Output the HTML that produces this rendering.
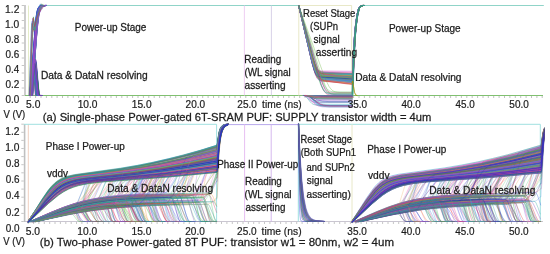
<!DOCTYPE html>
<html><head><meta charset="utf-8"><style>
html,body{margin:0;padding:0;background:#fff;width:550px;height:254px;overflow:hidden}
svg{display:block;filter:blur(0.3px)}
text{font-family:"Liberation Sans", Arial, sans-serif;fill:#1c1c1c;stroke:#1c1c1c;stroke-width:0.25px}
text.t{stroke-width:0.2px}
</style></head><body>
<svg width="550" height="254" viewBox="0 0 550 254">
<rect width="550" height="254" fill="#fff"/>

<!-- top panel axes -->
<path d="M21.7 5.5h2.5M21.7 13.0h2.5M21.7 20.5h2.5M21.7 28.0h2.5M21.7 35.5h2.5M21.7 43.0h2.5M21.7 50.5h2.5M21.7 58.0h2.5M21.7 65.5h2.5M21.7 73.0h2.5M21.7 80.5h2.5M21.7 88.0h2.5M21.7 95.5h2.5" stroke="#b8b8b8" stroke-width="0.8"/>
<path d="M25 5V96" stroke="#c0c0c0" stroke-width="1.6"/>
<path d="M28.5 5.5V95.5" stroke="#e4ecc8" stroke-width="1"/>
<path d="M30.2 96.0v2M35.6 96.0v2M41.0 96.0v2M46.4 96.0v2M51.8 96.0v2M57.1 96.0v2M62.5 96.0v2M67.9 96.0v2M73.3 96.0v2M78.7 96.0v2M84.1 96.0v2M89.5 96.0v2M94.9 96.0v2M100.3 96.0v2M105.7 96.0v2M111.0 96.0v2M116.4 96.0v2M121.8 96.0v2M127.2 96.0v2M132.6 96.0v2M138.0 96.0v2M143.4 96.0v2M148.8 96.0v2M154.2 96.0v2M159.6 96.0v2M164.9 96.0v2M170.3 96.0v2M175.7 96.0v2M181.1 96.0v2M186.5 96.0v2M191.9 96.0v2M197.3 96.0v2M202.7 96.0v2M208.1 96.0v2M213.5 96.0v2M218.8 96.0v2M224.2 96.0v2M229.6 96.0v2M235.0 96.0v2M240.4 96.0v2M245.8 96.0v2M251.2 96.0v2M256.6 96.0v2M262.0 96.0v2M267.4 96.0v2M272.7 96.0v2M278.1 96.0v2M283.5 96.0v2M288.9 96.0v2M294.3 96.0v2M299.7 96.0v2M305.1 96.0v2M310.5 96.0v2M315.9 96.0v2M321.3 96.0v2M326.6 96.0v2M332.0 96.0v2M337.4 96.0v2M342.8 96.0v2M348.2 96.0v2M353.6 96.0v2M359.0 96.0v2M364.4 96.0v2M369.8 96.0v2M375.2 96.0v2M380.5 96.0v2M385.9 96.0v2M391.3 96.0v2M396.7 96.0v2M402.1 96.0v2M407.5 96.0v2M412.9 96.0v2M418.3 96.0v2M423.7 96.0v2M429.1 96.0v2M434.4 96.0v2M439.8 96.0v2M445.2 96.0v2M450.6 96.0v2M456.0 96.0v2M461.4 96.0v2M466.8 96.0v2M472.2 96.0v2M477.6 96.0v2M483.0 96.0v2M488.3 96.0v2M493.7 96.0v2M499.1 96.0v2M504.5 96.0v2M509.9 96.0v2M515.3 96.0v2M520.7 96.0v2M526.1 96.0v2M531.5 96.0v2M536.9 96.0v2M542.2 96.0v2" stroke="#b0b0b0" stroke-width="0.8"/>
<path d="M25 95.5H543" stroke="#80c070" stroke-width="1.1"/>
<path d="M40 5.5H298.6M362 5.5H543.8" stroke="#90d4c8" stroke-width="1.2"/>
<path d="M244.4 5.5V95.5" stroke="#ecc8f0" stroke-width="0.9"/>
<path d="M271.4 5.5V95.5" stroke="#d4cce4" stroke-width="0.9"/>
<path d="M298.8 5.5V95.5M298.8 5.5H351.6V95.5" stroke="#e8e8c8" stroke-width="1" fill="none"/>
<!-- bottom panel axes -->
<path d="M21.3 124.2h2.5M21.3 132.3h2.5M21.3 140.4h2.5M21.3 148.5h2.5M21.3 156.6h2.5M21.3 164.7h2.5M21.3 172.8h2.5M21.3 181.0h2.5M21.3 189.1h2.5M21.3 197.2h2.5M21.3 205.3h2.5M21.3 213.4h2.5M21.3 221.5h2.5" stroke="#b8b8b8" stroke-width="0.8"/>
<path d="M24.6 124V222" stroke="#c0c0c0" stroke-width="1.6"/>
<path d="M28.3 124.3V221.5" stroke="#f0d0c0" stroke-width="1"/>
<path d="M28.2 222.0v2M33.6 222.0v2M38.9 222.0v2M44.3 222.0v2M49.7 222.0v2M55.0 222.0v2M60.4 222.0v2M65.8 222.0v2M71.2 222.0v2M76.5 222.0v2M81.9 222.0v2M87.3 222.0v2M92.6 222.0v2M98.0 222.0v2M103.4 222.0v2M108.8 222.0v2M114.1 222.0v2M119.5 222.0v2M124.9 222.0v2M130.2 222.0v2M135.6 222.0v2M141.0 222.0v2M146.3 222.0v2M151.7 222.0v2M157.1 222.0v2M162.5 222.0v2M167.8 222.0v2M173.2 222.0v2M178.6 222.0v2M183.9 222.0v2M189.3 222.0v2M194.7 222.0v2M200.0 222.0v2M205.4 222.0v2M210.8 222.0v2M216.2 222.0v2M221.5 222.0v2M226.9 222.0v2M232.3 222.0v2M237.6 222.0v2M243.0 222.0v2M248.4 222.0v2M253.7 222.0v2M259.1 222.0v2M264.5 222.0v2M269.9 222.0v2M275.2 222.0v2M280.6 222.0v2M286.0 222.0v2M291.3 222.0v2M296.7 222.0v2M302.1 222.0v2M307.4 222.0v2M312.8 222.0v2M318.2 222.0v2M323.6 222.0v2M328.9 222.0v2M334.3 222.0v2M339.7 222.0v2M345.0 222.0v2M350.4 222.0v2M355.8 222.0v2M361.1 222.0v2M366.5 222.0v2M371.9 222.0v2M377.3 222.0v2M382.6 222.0v2M388.0 222.0v2M393.4 222.0v2M398.7 222.0v2M404.1 222.0v2M409.5 222.0v2M414.8 222.0v2M420.2 222.0v2M425.6 222.0v2M431.0 222.0v2M436.3 222.0v2M441.7 222.0v2M447.1 222.0v2M452.4 222.0v2M457.8 222.0v2M463.2 222.0v2M468.5 222.0v2M473.9 222.0v2M479.3 222.0v2M484.7 222.0v2M490.0 222.0v2M495.4 222.0v2M500.8 222.0v2M506.1 222.0v2M511.5 222.0v2M516.9 222.0v2M522.2 222.0v2M527.6 222.0v2M533.0 222.0v2M538.4 222.0v2" stroke="#b8b8b8" stroke-width="0.8"/>
<path d="M25 221.5H543" stroke="#c4c0cc" stroke-width="0.9"/>
<path d="M23.8 124.3H216.6V221.5M298.3 221.5V124.3H540.3V221.5" stroke="#a0e0e0" stroke-width="1" fill="none"/>
<path d="M226 124.6H298" stroke="#b8a8ec" stroke-width="1"/>
<path d="M244.6 124.3V221.5" stroke="#e4b8f0" stroke-width="0.9"/>
<path d="M271.2 124.3V221.5" stroke="#d0b0ec" stroke-width="0.9"/>
<path d="M352 124.3V221.5" stroke="#e8e8c8" stroke-width="1"/>

<defs><clipPath id="c"><rect x="0" y="0" width="544.2" height="254"/></clipPath></defs>
<g fill="none" stroke-linejoin="round" stroke-linecap="round" clip-path="url(#c)">
<path d="M30.8 95.5l5.7-66.4 1.5-12.6 1.3-5.8 1.5-3.3 1.7-1.4 3.3-.5" stroke="#2020b0" stroke-width="0.70" stroke-opacity="0.85"/>
<path d="M30.5 95.5l3-36.1.7 4.9 1.5 23 .8 7.6.2 .6 3.8 0" stroke="#6040d0" stroke-width="0.70" stroke-opacity="0.85"/>
<path d="M31.2 95.5l3.5-34.4 2.5-32.1 1.5-12.7 1.3-5.7 1.2-2.9 1.8-1.6 3-.6" stroke="#9050e0" stroke-width="0.70" stroke-opacity="0.85"/>
<path d="M32.2 95.5l3-30.8.5 1.6.5 4 2.2 24.1.5 1.1 3 0" stroke="#8040c0" stroke-width="0.70" stroke-opacity="0.85"/>
<path d="M30.1 95.5l3.5-36.8 2-29.5 1.5-14.2 1-4.8 1.5-3.3 1.8-1.1 3.5-.3" stroke="#3050e0" stroke-width="0.70" stroke-opacity="0.85"/>
<path d="M31.1 95.5l3-32.4.5 1.5.5 4.1 2.3 25.2.5 1.6 3 0" stroke="#e04090" stroke-width="0.70" stroke-opacity="0.85"/>
<path d="M30.6 95.5l3-36.7.8-5.9 2.2-26.5 1.3-9.9 1.2-5.8 1.5-3.3 1.8-1.4 3.2-.5" stroke="#3050e0" stroke-width="0.70" stroke-opacity="0.85"/>
<path d="M31.7 95.5l3-36.7.5 1 .7 4.8 3 28.8.8 2.1 1.7 0" stroke="#2020b0" stroke-width="0.70" stroke-opacity="0.85"/>
<path d="M29.9 95.5l3.5-35.6 2.5-33.1 1.3-10.6 1.2-5.9 1.3-2.8 1.7-1.5 3.3-.5" stroke="#8040c0" stroke-width="0.70" stroke-opacity="0.85"/>
<path d="M29.9 95.5l3-31.7.5 3.1 1.5 24.4.5 4.1 4.5 .1" stroke="#e04090" stroke-width="0.70" stroke-opacity="0.85"/>
<path d="M30.5 95.5l3-33.5.8-6 2.2-27.4 1.5-12.2 1.3-5.6 1.2-3 1.8-1.6 3-.6" stroke="#a040c0" stroke-width="0.70" stroke-opacity="0.85"/>
<path d="M31.7 95.5l3-33.5.7 3.4 2 23.9.8 5.7.2 .5 3 0" stroke="#8040c0" stroke-width="0.70" stroke-opacity="0.85"/>
<path d="M30.5 95.5l3.2-34 2.3-34.6 1.5-13.7 1-4.2 1.2-2.4 1.8-.9 3.7-.2" stroke="#3050e0" stroke-width="0.70" stroke-opacity="0.85"/>
<path d="M30.4 95.5l3-32.2.5 1.2.5 3.3 2 21.1.7 5.4.5 1.2 2.5 0" stroke="#9050e0" stroke-width="0.70" stroke-opacity="0.85"/>
<path d="M29.9 95.5l3.5-37.8 2.3-34.2 1.2-10.4 1-4.2 1.3-2.3 1.7-.9 3.8-.2" stroke="#9050e0" stroke-width="0.70" stroke-opacity="0.85"/>
<path d="M32.3 95.5l3-33 .7 5.6 1.3 20 .7 7.2.3 .2 3.7 0" stroke="#3050e0" stroke-width="0.70" stroke-opacity="0.85"/>
<path d="M30 95.5l5.8-68.5 1.5-12.3 1.2-5.2 1.3-2.4 1.7-1.2 3.3-.4" stroke="#a040c0" stroke-width="0.70" stroke-opacity="0.85"/>
<path d="M32.3 95.5l3-36 .5 1.4.5 4 2 24.2.8 5.7.5 .7 2.5 0" stroke="#3050e0" stroke-width="0.70" stroke-opacity="0.85"/>
<path d="M31 95.5l3.5-35.3 2.2-31 1.5-13.4 1.3-5.8 1.2-2.7 1.8-1.4 3.2-.4" stroke="#e04090" stroke-width="0.70" stroke-opacity="0.85"/>
<path d="M31.3 95.5l3-31.3.5 1 .8 4.5 2.7 24 .5 1.7 2.3 .1" stroke="#9050e0" stroke-width="0.70" stroke-opacity="0.85"/>
<path d="M30.2 95.5l3.5-39 2-29.9 1.5-13.3 1-4.2 1.3-2.4 1.7-1 3.8-.2" stroke="#8040c0" stroke-width="0.70" stroke-opacity="0.85"/>
<path d="M31 95.5l3-34.3.7 4.5 2.3 29 .2 .8 3.5 0" stroke="#3050e0" stroke-width="0.70" stroke-opacity="0.85"/>
<path d="M29.8 95.5l3.5-39.6 2-27 1.5-13.5 1.3-5.7 1.2-2.6 1.8-1.3 3.5-.3" stroke="#a040c0" stroke-width="0.70" stroke-opacity="0.85"/>
<path d="M32.7 95.5l3-35.6.5 1.5.5 4.1 2.5 28.6.5 1.4 2.8 0" stroke="#8040c0" stroke-width="0.70" stroke-opacity="0.85"/>
<path d="M30.7 95.5l3.8-41 2-25.5 1.5-12.9 1.2-5.7 1.3-2.9 1.7-1.5 3.3-.5" stroke="#9050e0" stroke-width="0.70" stroke-opacity="0.85"/>
<path d="M30.3 95.5l3-34.6.7 3.9 2.5 29.8.3 .8.2 .1 3 0" stroke="#8040c0" stroke-width="0.70" stroke-opacity="0.85"/>
<path d="M30 95.5l3.5-37.8 2.2-33.3 1.3-10.7 1-4.4.7-1.8.8-1 1.7-.8 3.8-.2" stroke="#a040c0" stroke-width="0.70" stroke-opacity="0.85"/>
<path d="M32.7 95.5l3-33.2.8 5.1 2 27.3.2 .8 3.8 0" stroke="#8040c0" stroke-width="0.70" stroke-opacity="0.85"/>
<path d="M30.8 95.5l3.8-38.7 2.2-28.1 1.5-12.4 1.3-5.6 1.5-3.3 1.7-1.4 3-.5" stroke="#e04090" stroke-width="0.70" stroke-opacity="0.85"/>
<path d="M31.8 95.5l3-32.6.7 5.7 1.8 25.7.2 1.1.3 .1 3.7 0" stroke="#6040d0" stroke-width="0.70" stroke-opacity="0.85"/>
<path d="M31.2 95.5l3-36.4.7-5.7 2.3-26.1 1.2-10 1.3-6 1.5-3.6 1.7-1.6 3-.5" stroke="#30a030" stroke-width="0.70" stroke-opacity="0.85"/>
<path d="M31.5 95.5l3-36.4.8 6.2 1.2 22.3.8 7.7 4 .2" stroke="#9050e0" stroke-width="0.70" stroke-opacity="0.85"/>
<path d="M29.9 95.5l5.7-68.3 1.5-12.2 1.3-5.3 1.2-2.5 1.8-1.3 3.2-.4" stroke="#6040d0" stroke-width="0.70" stroke-opacity="0.85"/>
<path d="M30.3 95.5l3-36.3.5 1.1.8 5.2 2.7 27.8.8 2.2 2.2 0" stroke="#e04090" stroke-width="0.70" stroke-opacity="0.85"/>
<path d="M30.8 95.5l3.5-38.2 2.2-30.7 1.5-12.5 1-4.3 1.5-3 1.8-1 3.5-.3" stroke="#3050e0" stroke-width="0.70" stroke-opacity="0.85"/>
<path d="M31 95.5l3-34.2.8 5.1 2 27.9.2 1.1.3 .1 3.7 0" stroke="#30a030" stroke-width="0.70" stroke-opacity="0.85"/>
<path d="M29.6 95.5l5.7-68.8 1.5-12.3 1.3-5.1 1.2-2.3 1.8-1.2 3.5-.3" stroke="#e04090" stroke-width="0.70" stroke-opacity="0.85"/>
<path d="M31.4 95.5l3-36 .8 4.7 2.2 30.4.3 .9 3.5 0" stroke="#6040d0" stroke-width="0.70" stroke-opacity="0.85"/>
<path d="M31 95.5l3.5-35.2 2.3-32.5 1.5-13.2 1-4.6 1.5-3.1 1.7-1.1 3.5-.3" stroke="#3050e0" stroke-width="0.70" stroke-opacity="0.85"/>
<path d="M29.9 95.5l3-30.9.7 5.4 1.8 24.5.2 1 4 0" stroke="#a040c0" stroke-width="0.70" stroke-opacity="0.85"/>
<path d="M31.4 95.5l3.5-38.6 2.3-30 1.5-12.5 1-4.4 1.5-3.1 1.7-1.1 3.3-.3" stroke="#2020b0" stroke-width="0.70" stroke-opacity="0.85"/>
<path d="M31.4 95.5l3-34.7.5 1.1.7 5 2.8 26.6.5 1.8 2.2 .2" stroke="#3050e0" stroke-width="0.70" stroke-opacity="0.85"/>
<path d="M30.2 95.5l3.7-40.7 2-25.7 1.5-12.9 1.3-5.8 1.2-2.8 1.8-1.6 3.2-.5" stroke="#e04090" stroke-width="0.70" stroke-opacity="0.85"/>
<path d="M30.9 95.5l3-34.3.5 1.6.5 4.3 1.7 22 .8 5.8.2 .6 3.3 0" stroke="#3050e0" stroke-width="0.70" stroke-opacity="0.85"/>
<path d="M31 95.5l3.5-40.5 2-28.3 1.5-13 1-4.3.8-1.8.7-1 1.8-.9 3.5-.2" stroke="#8040c0" stroke-width="0.70" stroke-opacity="0.85"/>
<path d="M32.6 95.5l3-36.2.5 3.7 1.8 31.4.2 1.1 4.3 0" stroke="#a040c0" stroke-width="0.70" stroke-opacity="0.85"/>
<path d="M31 95.5l3.5-40 2-28.7 1.5-13.1 1-4.4.8-1.7.7-1 1.8-.9 3.7-.2" stroke="#20a0a0" stroke-width="0.70" stroke-opacity="0.85"/>
<path d="M31.1 95.5l3-35.6.5 1.2.5 3.2 2.2 24.2.8 5.6.5 1.4 2.2 0" stroke="#e04090" stroke-width="0.70" stroke-opacity="0.85"/>
<path d="M29.5 95.5l3-34.5.8-6.1 2-25 1.5-13 1.2-6 1.5-3.4 1.8-1.5 3-.5" stroke="#9050e0" stroke-width="0.70" stroke-opacity="0.85"/>
<path d="M31.3 95.5l3-34.5.5 1.3.5 3.4 2.8 28.2.5 1.6 2.5 0" stroke="#2020b0" stroke-width="0.70" stroke-opacity="0.85"/>
<path d="M30 95.5l3.5-36.2 2.2-32 1.5-12.9 1-4.5 1.5-3.1 1.8-1 3.2-.3" stroke="#20a0a0" stroke-width="0.70" stroke-opacity="0.85"/>
<path d="M30.3 95.5l3-31.9.8 4 2.2 26.9.5 1 3.5 0" stroke="#20a0a0" stroke-width="0.70" stroke-opacity="0.85"/>
<path d="M31.4 95.5l3.5-38.3 2.2-30.9 1.5-12.4 1-4.3 1.5-2.9 1.8-.9 3.5-.3" stroke="#2020b0" stroke-width="0.70" stroke-opacity="0.85"/>
<path d="M30.6 95.5l3-34.2.5 1 .8 4.6 2 19.7 1 7.3.5 1.5 2 .1" stroke="#30a030" stroke-width="0.70" stroke-opacity="0.85"/>
<path d="M30.4 95.5l5.5-65.9 1.7-14.9 1.3-5.2 1.2-2.4 1.8-1.2 3.5-.4" stroke="#a040c0" stroke-width="0.70" stroke-opacity="0.85"/>
<path d="M31.4 95.5l3-36.6.5 1.1.7 5.2 2.8 27.9.7 2.4 2 0" stroke="#6040d0" stroke-width="0.70" stroke-opacity="0.85"/>
<path d="M31 95.5l3.5-38.2 2.2-30.3 1.5-12.5 1-4.5 1.5-3.1 1.8-1.1 3.2-.3" stroke="#a040c0" stroke-width="0.70" stroke-opacity="0.85"/>
<path d="M32.4 95.5l3-34.2.8 3.9 1.7 23.3.8 6.4.2 .6 3.3 0" stroke="#3050e0" stroke-width="0.70" stroke-opacity="0.85"/>
<path d="M31.3 95.5l3.5-35.3 2.3-32 1.5-13.2 1-4.7 1.5-3.3 1.7-1.2 3.3-.3" stroke="#30a030" stroke-width="0.70" stroke-opacity="0.85"/>
<path d="M31.4 95.5l3-31.2.5 1 .7 4.1 2 18 1 6.7.5 1.3 2 .1" stroke="#e04090" stroke-width="0.70" stroke-opacity="0.85"/>
<path d="M30 95.5l5.8-67 1.5-12.6 1.2-5.6 1.3-2.8 1.7-1.5 3.3-.5" stroke="#20a0a0" stroke-width="0.70" stroke-opacity="0.85"/>
<path d="M32 95.5l3-35.6.5 1.5.5 3.9 2 24.1.7 5.5.3 .6 3 0" stroke="#2020b0" stroke-width="0.70" stroke-opacity="0.85"/>
<path d="M31.4 95.5l3.5-36.9 2.3-31.3 1.5-12.8 1-4.5 1.5-3.1 1.7-1.1 3.5-.3" stroke="#20a0a0" stroke-width="0.70" stroke-opacity="0.85"/>
<path d="M30.4 95.5l3-32.7.5 3.1 1.5 24.9.5 4.5.3 .2 4.2 0" stroke="#30a030" stroke-width="0.70" stroke-opacity="0.85"/>
<path d="M29.9 95.5l3-36.2.8-5.9 2.2-26.5 1.3-10 1.2-5.9 1.5-3.5 1.8-1.4 3.2-.6" stroke="#3050e0" stroke-width="0.70" stroke-opacity="0.85"/>
<path d="M30.1 95.5l3-36.2.5 1.5.5 4.1 2.5 29 .5 1.6 2.8 0" stroke="#3050e0" stroke-width="0.70" stroke-opacity="0.85"/>
<path d="M30.5 95.5l3.7-40.8 2-25.8 1.5-12.8 1.3-5.8 1.2-2.8 1.8-1.5 3.2-.5" stroke="#e04090" stroke-width="0.70" stroke-opacity="0.85"/>
<path d="M30.7 95.5l3-34.3.5 1 .8 4.5 3 27.1.5 1.6 2 .1" stroke="#9050e0" stroke-width="0.70" stroke-opacity="0.85"/>
<path d="M30.4 95.5l3.8-41 2-25.9 1.5-12.8 1.2-5.6 1.3-2.8 1-1 1-.5 3.2-.4" stroke="#6040d0" stroke-width="0.70" stroke-opacity="0.85"/>
<path d="M30.4 95.5l3-34.5.5 3.2 1.5 26 .5 5 .2 .3 4.3 0" stroke="#2020b0" stroke-width="0.70" stroke-opacity="0.85"/>
<path d="M30.3 95.5l5.8-65.8 1.5-12.8 1.2-5.9 1.5-3.5 1.8-1.5 3.2-.5" stroke="#6040d0" stroke-width="0.70" stroke-opacity="0.85"/>
<path d="M32 95.5l3-35.3.7 6.3 1.8 28 .2 1 4 0" stroke="#20a0a0" stroke-width="0.70" stroke-opacity="0.85"/>
<path d="M31.3 95.5l5.8-65.4 1.7-14.3 1.3-5.4 1.5-3.1 1.7-1.3 3-.5" stroke="#9050e0" stroke-width="0.70" stroke-opacity="0.85"/>
<path d="M31.4 95.5l3-35.6.5 1.1.7 4.9 2 20.9 1 7.4.5 1.3 2 0" stroke="#8040c0" stroke-width="0.70" stroke-opacity="0.85"/>
<path d="M29.6 95.5l3.2-32.8 2.3-35.3 1.5-13.9 1-4.4 1.2-2.4 1.8-1 3.7-.2" stroke="#3050e0" stroke-width="0.70" stroke-opacity="0.85"/>
<path d="M30.6 95.5l3-30.9.7 4.5 2 25.2.5 1.2 3.5 0" stroke="#e04090" stroke-width="0.70" stroke-opacity="0.85"/>
<path d="M29.9 95.5l3.5-38.8 2-30.3 1.5-13.2 1-4.2 1.2-2.3 1.8-1 3.7-.2" stroke="#2020b0" stroke-width="0.70" stroke-opacity="0.85"/>
<path d="M31.6 95.5l3-34.2.7 5.7 1.3 20.5.7 7.7.3 .3 4 0" stroke="#2020b0" stroke-width="0.70" stroke-opacity="0.85"/>
<path d="M30.9 95.5l3.2-32.5 2.5-35.8 1.5-13.1 1-4.4 1.5-2.9 1.8-1 3.5-.3" stroke="#2020b0" stroke-width="0.70" stroke-opacity="0.85"/>
<path d="M32.6 95.5l3-30.9.5 1.5.5 3.7 1.8 19.6.7 5.4.5 .7 2.8 0" stroke="#20a0a0" stroke-width="0.70" stroke-opacity="0.85"/>
<path d="M31.1 95.5l3.8-41.2 2-25.9 1.5-12.8 1.2-5.5 1.3-2.7 1-1.1 1-.4 3.2-.4" stroke="#20a0a0" stroke-width="0.70" stroke-opacity="0.85"/>
<path d="M30.4 95.5l3-34.7.5 1.5.5 4.1 2.5 27.9.5 1.2 2.7 0" stroke="#3050e0" stroke-width="0.70" stroke-opacity="0.85"/>
<path d="M29.6 95.5l5.7-64.8 1.8-14.4 1.2-5.5 1.3-2.9 1.7-1.7 3-.6" stroke="#3050e0" stroke-width="0.70" stroke-opacity="0.85"/>
<path d="M32.4 95.5l3-35.6.5 3.4 1.5 27.1.5 4.9.2 .2 4 0" stroke="#30a030" stroke-width="0.70" stroke-opacity="0.85"/>
<path d="M30.2 95.5l3.5-37.3 2.2-33.5 1.3-10.8 1-4.5.7-1.8.8-1 1.7-.9 3.5-.2" stroke="#20a0a0" stroke-width="0.70" stroke-opacity="0.85"/>
<path d="M31.7 95.5l3-32.7.5 1.2.5 3 2.2 22.4.8 5 .5 1.1 2.5 0" stroke="#3050e0" stroke-width="0.70" stroke-opacity="0.85"/>
<path d="M30.1 95.5l5.8-66.2 1.5-12.6 1.2-5.9 1.5-3.4 1.8-1.4 3-.5" stroke="#8040c0" stroke-width="0.70" stroke-opacity="0.85"/>
<path d="M30.2 95.5l3-35.9.5 1.2.5 3.5 2.7 29 .5 2 2.5 .2" stroke="#30a030" stroke-width="0.70" stroke-opacity="0.85"/>
<path d="M31.3 95.5l3.5-35.8 2.5-33.3 1.2-10.5 1.3-5.8 1.2-2.7 1.8-1.5 3.2-.4" stroke="#20a0a0" stroke-width="0.70" stroke-opacity="0.85"/>
<path d="M31.7 95.5l3-31.9.5 1.3.5 3.6 2.5 25.5.5 1.5 2.8 0" stroke="#30a030" stroke-width="0.70" stroke-opacity="0.85"/>
<path d="M29.7 95.5l3.7-41.2 2-25.8 1.5-12.7 1.3-5.6 1.2-2.8 1.8-1.4 3.2-.5" stroke="#9050e0" stroke-width="0.70" stroke-opacity="0.85"/>
<path d="M32.3 95.5l3-34.7.5 1.2.5 3.1 2.2 23.8.8 5.4.5 1.2 2.2 0" stroke="#2020b0" stroke-width="0.70" stroke-opacity="0.85"/>
<path d="M30.2 95.5l5.7-65.3 1.8-14.4 1.2-5.4 1.5-3.1 1.8-1.3 3-.5" stroke="#8040c0" stroke-width="0.70" stroke-opacity="0.85"/>
<path d="M32.5 95.5l3-35.1.7 5.8 1.3 21.2.7 7.8.3 .3 3.7 0" stroke="#20a0a0" stroke-width="0.70" stroke-opacity="0.85"/>
<path d="M29.6 95.5l3.5-39 2.2-31.5 1.3-10.6 1-4.6.7-1.9.8-1.2 1.7-1 3.5-.2" stroke="#2020b0" stroke-width="0.70" stroke-opacity="0.85"/>
<path d="M31.5 95.5l3-34.7.5 1.1.7 4.6 2 20.1 1 7.4.5 1.4 2 .1" stroke="#6040d0" stroke-width="0.70" stroke-opacity="0.85"/>
<path d="M30.3 95.5l3.5-36.3 2.2-31.2 1.5-13 1.3-5.5 1.2-2.4 1.8-1.3 3.2-.3" stroke="#3050e0" stroke-width="0.70" stroke-opacity="0.85"/>
<path d="M31.8 95.5l3-32.3.7 5.9 1.8 25.6.2 .8 4 0" stroke="#20a0a0" stroke-width="0.70" stroke-opacity="0.85"/>
<path d="M30.3 95.5l3.5-35.3 2.5-32.9 1.5-12.2 1.2-5.3 1.3-2.6 1.7-1.3 3-.4" stroke="#8040c0" stroke-width="0.70" stroke-opacity="0.85"/>
<path d="M32.3 95.5l3-31.6.7 3.9 2.3 26.3.5 1.4 3.2 0" stroke="#a040c0" stroke-width="0.70" stroke-opacity="0.85"/>
<path d="M30.2 95.5l3.5-38.3 2.3-32 1.2-10.7 1-4.7.8-1.9.7-1.1 1.8-1.1 3.5-.2" stroke="#30a030" stroke-width="0.70" stroke-opacity="0.85"/>
<path d="M30.5 95.5l3-34 .8 4.4 2.2 28.7.3 .8 3.5 .1" stroke="#6040d0" stroke-width="0.70" stroke-opacity="0.85"/>
<path d="M30.4 95.5l3.5-34.9 2.5-32.4 1.5-12.5 1.3-5.5 1.2-2.7 1.8-1.5 3-.5" stroke="#a040c0" stroke-width="0.70" stroke-opacity="0.85"/>
<path d="M31.5 95.5l3-31.2.8 4.2 1.5 20 .7 6.5.3 .5 3.5 0" stroke="#9050e0" stroke-width="0.70" stroke-opacity="0.85"/>
<path d="M29.7 95.5l3.5-39.7 2-28.9 1.5-13.2 1-4.4.7-1.7.8-1 1.7-.9 3.8-.2" stroke="#9050e0" stroke-width="0.70" stroke-opacity="0.85"/>
<path d="M30.2 95.5l3-35.3.7 6.1 1.8 27.9.2 1.2 4 .1" stroke="#20a0a0" stroke-width="0.70" stroke-opacity="0.85"/>
<path d="M29.7 95.5l3.5-40.3 2-27.5 1.5-13.2 1-4.6 1.5-3.1 1.7-1 3.8-.3" stroke="#3050e0" stroke-width="0.70" stroke-opacity="0.85"/>
<path d="M30.7 95.5l3-36.2.5 1.2.5 3.2 3 30.2.5 1.6 2.3 0" stroke="#6040d0" stroke-width="0.70" stroke-opacity="0.85"/>
<path d="M30.7 95.5l3.5-36 2.5-34.3 1.3-10.3 1-4.6 1.5-3.3 1.7-1.2 3.3-.3" stroke="#20a0a0" stroke-width="0.70" stroke-opacity="0.85"/>
<path d="M32.5 95.5l3-31.9.7 3.9 2.3 26.6.5 1.4 3.2 0" stroke="#9050e0" stroke-width="0.70" stroke-opacity="0.85"/>
<path d="M30.9 95.5l3.5-35 2.5-32.5 1.5-12.5 1.3-5.4 1.2-2.7 1.8-1.4 3.2-.5" stroke="#e04090" stroke-width="0.70" stroke-opacity="0.85"/>
<path d="M32.1 95.5l3-31.3.5 1 .5 2.8 3 26.2.5 1.3 2.3 0" stroke="#30a030" stroke-width="0.70" stroke-opacity="0.85"/>
<path d="M30.8 95.5l3.5-37.7 2.3-33.7 1.2-10.6 1-4.3 1.3-2.5 1.7-1 3.8-.2" stroke="#6040d0" stroke-width="0.70" stroke-opacity="0.85"/>
<path d="M31.4 95.5l3-33 .5 1.2.5 3.2 2.7 26.7.5 1.8 2.8 .1" stroke="#9050e0" stroke-width="0.70" stroke-opacity="0.85"/>
<path d="M29.9 95.5l3.5-36.3 2.5-33.3 1.2-10.4 1.3-5.6 1.2-2.7 1.8-1.3 3.2-.4" stroke="#e04090" stroke-width="0.70" stroke-opacity="0.85"/>
<path d="M32 95.5l3-32.3.5 1 .8 4.5 2.7 24.7.8 2.1 2 0" stroke="#30a030" stroke-width="0.70" stroke-opacity="0.85"/>
<path d="M29.8 95.5l3.5-35.4 2.5-31.8 1.5-12.3 1.2-5.6 1.3-2.8 1.7-1.5 3-.6" stroke="#9050e0" stroke-width="0.70" stroke-opacity="0.85"/>
<path d="M31.7 95.5l3-31.9.5 1.2.5 3.2 2.8 26.1.5 1.4 2.5 0" stroke="#2020b0" stroke-width="0.70" stroke-opacity="0.85"/>
<path d="M31.5 95.5l3-36.4.7-5.8 2.3-26.4 1.2-10 1.3-5.9 1.5-3.5 1.7-1.4 3-.6" stroke="#9050e0" stroke-width="0.70" stroke-opacity="0.85"/>
<path d="M32.1 95.5l3-36.4.8 4.3 1.7 25 .8 6.6.2 .5 3.3 0" stroke="#a040c0" stroke-width="0.70" stroke-opacity="0.85"/>
<path d="M30 95.5l2.5-73.2.5-3.7 1.5 7.7 1.5-3.1 2-9.3 3-6.3 3-2.1" stroke="#20a0a0" stroke-width="0.60" stroke-opacity="0.60"/>
<path d="M29.1 95.5l2.5-71.6.5-2.6 1.5 6.3 3.5-13.7 3-9.4 2.7 .9" stroke="#3050e0" stroke-width="0.60" stroke-opacity="0.60"/>
<path d="M30.4 95.5l1.5-44.2 1.5-32.8 1.5 5.8 1.5 1.1 2-14 3-6.8 2.7 .8" stroke="#8040c0" stroke-width="0.60" stroke-opacity="0.60"/>
<path d="M30.4 95.5l3-78.7 1.5 14.1 1.5-5.7 2-12.8 3-5 2.7-1.7" stroke="#20a0a0" stroke-width="0.60" stroke-opacity="0.60"/>
<path d="M30.1 95.5l2.5-74.4 2 4.9 1.5 0 2-12.8 3-2.7 2.8-4.6" stroke="#4090e0" stroke-width="0.60" stroke-opacity="0.60"/>
<path d="M29.5 95.5l2.5-72.9.5-1.8 1.5 10.5 1.5-12.3 2-8.9 3-6.2 3 1.6" stroke="#4090e0" stroke-width="0.60" stroke-opacity="0.60"/>
<path d="M29.4 95.5l2.5-69.2.5-3 1.5 8.2 1.5-8.8 2-6.9 3-6.4 3-3.9" stroke="#e03030" stroke-width="0.60" stroke-opacity="0.60"/>
<path d="M30.3 95.5l1.5-44.9 1.5-31.4 1.5 10.6 3.5-15.2 3-7.7 2.7-1.3" stroke="#30b0d0" stroke-width="0.60" stroke-opacity="0.60"/>
<path d="M29.9 95.5l1.5-45.3 1-25.2.5-6.7 1.5 6.9 1.5 0 2-9.5 3-5.8 2.8-4" stroke="#8040c0" stroke-width="0.60" stroke-opacity="0.60"/>
<path d="M30.5 95.5l1.5-48.3 1.5-30.2 1.5 13.2 3.5-17.2 3-9.1 2.7 1.5" stroke="#60b030" stroke-width="0.60" stroke-opacity="0.60"/>
<path d="M29.1 95.5l2.5-72 .5 .3 1.5 6.2 1.5-7 2-12.9 3-5.1 3 .5" stroke="#208080" stroke-width="0.60" stroke-opacity="0.60"/>
<path d="M30.2 95.5l1.5-47 1-25.8.5-4.8 1.5 8.7 3.5-12.1 3-5 2.8-3.7" stroke="#e03030" stroke-width="0.60" stroke-opacity="0.60"/>
<path d="M298.7 5.5l14.5 56.9 2.3 7.4 2 4.1 1.7 1.5 2.8 .6 30 .7.6 0 .6-16.7 1.3-23 1.1-12 1.4-10 1.6-6.5 1.7-2.3 2.2-.7 1.3 0" stroke="#20a0a0" stroke-width="0.60" stroke-opacity="0.85"/>
<path d="M298.9 5.5l14.5 60.8 2.2 7.8 2 4.4 2 1.8 2.8 .8 29.5 2.7.8 0 .8-23.8 1.3-23 1.1-12 1.4-10 1.6-6.5 1.7-2.3 2.2-.7 1.3 0" stroke="#9060e0" stroke-width="0.60" stroke-opacity="0.85"/>
<path d="M298.8 5.5l12.3 49.8 2.7 8.6 2.5 4.9 1.3 1.3 1.2 .8 3.5 1 29.5 2.4.8 0 .6-14.3 1.3-23 1.1-12 1.4-10 1.6-6.5 1.7-2.3 2.2-.7 1.3 0" stroke="#40c060" stroke-width="0.60" stroke-opacity="0.85"/>
<path d="M298.8 5.5l14 55.4 2.5 8.1 2 4 2 1.7 2.7 .7 29.8 2.2.8 0 .6-17.6 1.3-23 1.1-12 1.4-10 1.6-6.5 1.7-2.3 2.2-.7 1.3 0" stroke="#f070b0" stroke-width="0.60" stroke-opacity="0.85"/>
<path d="M298.5 5.5l13.5 53.6 2.3 7.1 2.2 4.4 2 1.6 3 .7 30.3 2.4 1.3 0 .5-15.3 1.3-23 1.1-12 1.4-10 1.6-6.5 1.7-2.3 2.2-.7 1.3 0" stroke="#20a0a0" stroke-width="0.60" stroke-opacity="0.85"/>
<path d="M298.7 5.5l14.8 58.9 2.5 8.3 2 4.1 2 1.8 2.7 .8 29.3 2.8 1.1 0 .7-22.2 1.3-23 1.1-12 1.4-10 1.6-6.5 1.7-2.3 2.2-.7 1.3 0" stroke="#f09030" stroke-width="0.60" stroke-opacity="0.85"/>
<path d="M298.7 5.5l13.2 54.1 2.8 9 2.2 4.6 1 1.1 1.3 .9 3.2 .9 29.5 2.4 1.2 0 .7-18.5 1.3-23 1.1-12 1.4-10 1.6-6.5 1.7-2.3 2.2-.7 1.3 0" stroke="#30a030" stroke-width="0.60" stroke-opacity="0.85"/>
<path d="M298.8 5.5l14.5 56.9 2.3 7.4 2 4.2 2 1.8 2.7 .7 29.5 1.6 1.4 0 .6-18.1 1.3-23 1.1-12 1.4-10 1.6-6.5 1.7-2.3 2.2-.7 1.3 0" stroke="#c03060" stroke-width="0.60" stroke-opacity="0.85"/>
<path d="M298.8 5.5l14.2 57.8 2.8 9.1 2 4.2 2 1.9 3 .9 29 2.7 1.1 0 .7-22.1 1.3-23 1.1-12 1.4-10 1.6-6.5 1.7-2.3 2.2-.7 1.3 0" stroke="#2020b0" stroke-width="0.60" stroke-opacity="0.85"/>
<path d="M298.7 5.5l15.2 60.7 2.3 7.5 1.7 3.6 1.8 1.6 2.5 .6 29.7 1.5.8 0 .7-21 1.3-23 1.1-12 1.4-10 1.6-6.5 1.7-2.3 2.2-.7 1.3 0" stroke="#2020b0" stroke-width="0.60" stroke-opacity="0.85"/>
<path d="M298.8 5.5l14.2 55.3 2.3 7.1 2 4 1.7 1.5 3 .8 29.8 2 .8 0 .6-16.2 1.3-23 1.1-12 1.4-10 1.6-6.5 1.7-2.3 2.2-.7 1.3 0" stroke="#2020b0" stroke-width="0.60" stroke-opacity="0.85"/>
<path d="M298.7 5.5l14 58.8 2.7 9.2 2 4.1 2 1.9 3 1 29.5 3.2.8 0 .7-23.7 1.3-23 1.1-12 1.4-10 1.6-6.5 1.7-2.3 2.2-.7 1.3 0" stroke="#2020b0" stroke-width="0.60" stroke-opacity="0.85"/>
<path d="M298.8 5.5l13 53.5 3 9.6 1.5 3.5 1.3 2.2 2.5 2.4 3.7 1.3 28 2.9 1 0 .7-20.9 1.3-23 1.1-12 1.4-10 1.6-6.5 1.7-2.3 2.2-.7 1.3 0" stroke="#d040d0" stroke-width="0.60" stroke-opacity="0.85"/>
<path d="M298.7 5.5l13.5 53.1 2.5 7.8 2 3.9 2 1.6 3 .7 30.2 1.2 1.2 0 1.8-36.8 1.1-12 1.4-10 1.6-6.5 1.7-2.3 2.2-.7 1.3 0" stroke="#30b0d0" stroke-width="0.60" stroke-opacity="0.85"/>
<path d="M298.7 5.5l14.5 56.2 3 9.5 2.5 5 1.2 1.4 1.3 .8 3.5 .9 27.2 .5 1.2 0 .7-19.8 1.3-23 1.1-12 1.4-10 1.6-6.5 1.7-2.3 2.2-.7 1.3 0" stroke="#2020b0" stroke-width="0.60" stroke-opacity="0.85"/>
<path d="M298.8 5.5l13.7 57.3 2.8 9.2 2 4.3 2 2.1 3 1 29.5 3.8 1.1 0 .8-23.2 1.3-23 1.1-12 1.4-10 1.6-6.5 1.7-2.3 2.2-.7 1.3 0" stroke="#30a030" stroke-width="0.60" stroke-opacity="0.85"/>
<path d="M298.7 5.5l13.2 52.4 2.5 8 2.3 4.4 2 1.8 3.2 .8 30 .6 1.3 0 1.8-36.5 1.1-12 1.4-10 1.6-6.5 1.7-2.3 2.2-.7 1.3 0" stroke="#e04090" stroke-width="0.60" stroke-opacity="0.85"/>
<path d="M298.6 5.5l12.2 51.6 3 9.7 1.5 3.3 1.3 1.9 1.2 1.3 1.3 .8 3.7 1 29 .9 1.2 0 .5-16 1.3-23 1.1-12 1.4-10 1.6-6.5 1.7-2.3 2.2-.7 1.3 0" stroke="#3050e0" stroke-width="0.60" stroke-opacity="0.85"/>
<path d="M298.7 5.5l13 53.9 2.7 9.1 1.5 3.5 1.3 2.1 2.2 2 3.5 1.2 29 2.5.9 0 .7-19.8 1.3-23 1.1-12 1.4-10 1.6-6.5 1.7-2.3 2.2-.7 1.3 0" stroke="#e04090" stroke-width="0.60" stroke-opacity="0.85"/>
<path d="M298.7 5.5l12.5 50.6 3 9.5 1.5 3.4 1.3 2.1 1.2 1.4 1.5 1.2 3.8 1.2 28.5 2.7 1.2 0 .6-17.6 1.3-23 1.1-12 1.4-10 1.6-6.5 1.7-2.3 2.2-.7 1.3 0" stroke="#c03060" stroke-width="0.60" stroke-opacity="0.85"/>
<path d="M298.9 5.5l13.2 50.9 3.3 9.7 2.7 5.4 1.3 1.4 1.5 1.2 3.7 1.4 5.8 .9 21.5 2.4 1.5 0 .6-18.8 1.3-23 1.1-12 1.4-10 1.6-6.5 1.7-2.3 2.2-.7 1.3 0" stroke="#8040c0" stroke-width="0.60" stroke-opacity="0.85"/>
<path d="M298.7 5.5l14 60 2.5 8.7 2 4.3 2 1.8 2.8 .7 30 1.4.4 0 .7-22.4 1.3-23 1.1-12 1.4-10 1.6-6.5 1.7-2.3 2.2-.7 1.3 0" stroke="#d040d0" stroke-width="0.60" stroke-opacity="0.85"/>
<path d="M298.6 5.5l14 58.1 2.7 9 2.3 4.6 1 1.1 1.2 .8 3.3 .8 28.7 .4.8 0 .7-20.3 1.3-23 1.1-12 1.4-10 1.6-6.5 1.7-2.3 2.2-.7 1.3 0" stroke="#f070b0" stroke-width="0.60" stroke-opacity="0.85"/>
<path d="M298.7 5.5l13.2 56.3 2.3 7.8 2 4.3 1.7 1.7 3 1 31 3.7.5 0 .7-20.3 1.3-23 1.1-12 1.4-10 1.6-6.5 1.7-2.3 2.2-.7 1.3 0" stroke="#30a030" stroke-width="0.60" stroke-opacity="0.85"/>
<path d="M298.9 5.5l13 53 2.7 8.8 1.3 2.8 1.2 2 2.3 2 3.5 .9 29 1.3.9 0 .5-16.3 1.3-23 1.1-12 1.4-10 1.6-6.5 1.7-2.3 2.2-.7 1.3 0" stroke="#d040d0" stroke-width="0.60" stroke-opacity="0.85"/>
<path d="M298.8 5.5l13.8 54.6 3.2 10.2 1.3 2.9 1.5 2.5 1.2 1.5 1.5 1.1 3.8 1.3 26.7 2.2.7 0 .7-21.8 1.3-23 1.1-12 1.4-10 1.6-6.5 1.7-2.3 2.2-.7 1.3 0" stroke="#e03030" stroke-width="0.60" stroke-opacity="0.85"/>
<path d="M298.6 5.5l13.8 56.1 2.7 9 2.3 4.5 2 1.9 3.2 1 29.3 3.6 1.2 0 .7-21.6 1.3-23 1.1-12 1.4-10 1.6-6.5 1.7-2.3 2.2-.7 1.3 0" stroke="#20a0a0" stroke-width="0.60" stroke-opacity="0.85"/>
<path d="M298.9 5.5l13.2 54.5 2.8 9 2.2 4.3 1 1.1 1.3 .7 3.2 .7 29.3 .2 1.3 0 .5-16 1.3-23 1.1-12 1.4-10 1.6-6.5 1.7-2.3 2.2-.7 1.3 0" stroke="#d040d0" stroke-width="0.60" stroke-opacity="0.85"/>
<path d="M298.6 5.5l14 59 2.5 8.6 2.3 4.7 2 1.9 3.2 .8 29.3 1.2.6 0 .7-21.7 1.3-23 1.1-12 1.4-10 1.6-6.5 1.7-2.3 2.2-.7 1.3 0" stroke="#40c060" stroke-width="0.60" stroke-opacity="0.85"/>
<path d="M298.9 5.5l13.5 53.5 3 9.5 2.5 5.1 1.2 1.5 1.3 .9 3.5 1.2 28 3 .8 0 .6-20.2 1.3-23 1.1-12 1.4-10 1.6-6.5 1.7-2.3 2.2-.7 1.3 0" stroke="#e03030" stroke-width="0.60" stroke-opacity="0.85"/>
<path d="M298.5 5.5l13.5 57.1 2.5 8.4 2.3 4.7 2 1.8 3 1 30 3.3 1.1 0 .7-21.8 1.3-23 1.1-12 1.4-10 1.6-6.5 1.7-2.3 2.2-.7 1.3 0" stroke="#3050e0" stroke-width="0.60" stroke-opacity="0.85"/>
<path d="M298.6 5.5l13.8 54.1 2.2 7.2 2 4 2 1.7 2.8 .6 30.5 .4 1.4 0 1.8-36.5 1.1-12 1.4-10 1.6-6.5 1.7-2.3 2.2-.7 1.3 0" stroke="#e04090" stroke-width="0.60" stroke-opacity="0.85"/>
<path d="M298.5 5.5l14.3 53.1 2.7 8.3 1.3 2.8 1.2 2 2.3 2 3.5 .9 28 .7 1.3 0 .5-15.3 1.3-23 1.1-12 1.4-10 1.6-6.5 1.7-2.3 2.2-.7 1.3 0" stroke="#2020b0" stroke-width="0.60" stroke-opacity="0.85"/>
<path d="M298.8 5.5l13.8 55.7 2.2 7.4 2 4.1 1.8 1.5 3 .8 30.2 2.5 1.2 0 .6-17.5 1.3-23 1.1-12 1.4-10 1.6-6.5 1.7-2.3 2.2-.7 1.3 0" stroke="#20a0a0" stroke-width="0.60" stroke-opacity="0.85"/>
<path d="M298.7 5.5l13.3 54.1 2.2 7.5 2 3.9 1.8 1.4 2.7 .5 31.3 .7 1.3 0 1.8-36.6 1.1-12 1.4-10 1.6-6.5 1.7-2.3 2.2-.7 1.3 0" stroke="#60b030" stroke-width="0.60" stroke-opacity="0.85"/>
<path d="M298.8 5.5l14.3 58.7 2.5 8.3 2 4 2 1.8 3 .7 29.2 .5 1.5 0 .6-19.5 1.3-23 1.1-12 1.4-10 1.6-6.5 1.7-2.3 2.2-.7 1.3 0" stroke="#40c060" stroke-width="0.60" stroke-opacity="0.85"/>
<path d="M298.6 5.5l8.5 36.3 3.7 14.8 2.8 8.7 1.2 2.8 1.5 2.5 1.3 1.3 1.2 .8 3.8 1 29.2 1.5 1.2 0 .5-15.2 1.3-23 1.1-12 1.4-10 1.6-6.5 1.7-2.3 2.2-.7 1.3 0" stroke="#40c060" stroke-width="0.60" stroke-opacity="0.85"/>
<path d="M298.6 5.5l13.7 55.4 2.5 8.1 2 4 2 1.6 2.8 .6 30.2 1.9 1 0 .6-17.1 1.3-23 1.1-12 1.4-10 1.6-6.5 1.7-2.3 2.2-.7 1.3 0" stroke="#30b0d0" stroke-width="0.60" stroke-opacity="0.85"/>
<path d="M298.8 5.5l13.5 52.6 2.3 7.1 2 3.9 2 1.5 2.7 .5 30.5 .2 1 0 1.7-34.3 1.1-12 1.4-10 1.6-6.5 1.7-2.3 2.2-.7 1.3 0" stroke="#d040d0" stroke-width="0.60" stroke-opacity="0.85"/>
<path d="M298.6 5.5l15 56.7 3 9.3 2.5 4.9 1.2 1.5 1.3 .8 3.5 .9 26.7 .4.7 0 .7-20 1.3-23 1.1-12 1.4-10 1.6-6.5 1.7-2.3 2.2-.7 1.3 0" stroke="#d040d0" stroke-width="0.60" stroke-opacity="0.85"/>
<path d="M298.6 5.5l14.3 53 3 9.2 2.5 5 1.2 1.5 1.3 1 3.5 1.1 27.5 3 .9 0 .7-19.3 1.3-23 1.1-12 1.4-10 1.6-6.5 1.7-2.3 2.2-.7 1.3 0" stroke="#30b0d0" stroke-width="0.60" stroke-opacity="0.85"/>
<path d="M298.6 5.5l14.5 56.6 2.5 7.9 2 3.9 2 1.6 2.7 .6 29.5 1.2 1.1 0 .6-17.3 1.3-23 1.1-12 1.4-10 1.6-6.5 1.7-2.3 2.2-.7 1.3 0" stroke="#c03060" stroke-width="0.60" stroke-opacity="0.85"/>
<path d="M298.8 5.5l13 51.4 3 9.3 1.5 3.4 1.2 2.1 2.5 2.4 3.8 1.4 28 3.9.8 0 .6-19.4 1.3-23 1.1-12 1.4-10 1.6-6.5 1.7-2.3 2.2-.7 1.3 0" stroke="#30b0d0" stroke-width="0.60" stroke-opacity="0.85"/>
<path d="M298.7 5.5l8.3 35.3 3.7 14.9 2.8 8.7 1.2 2.8 1.5 2.5 2.5 2.3 3.8 1.3 29.5 3.8.6 0 .6-17.1 1.3-23 1.1-12 1.4-10 1.6-6.5 1.7-2.3 2.2-.7 1.3 0" stroke="#30b0d0" stroke-width="0.60" stroke-opacity="0.85"/>
<path d="M298.8 5.5l13.5 55.7 2 6.8 1.8 3.6 1.7 1.5 2.5 .5 31.5 .7 1.2 0 .5-14.3 1.3-23 1.1-12 1.4-10 1.6-6.5 1.7-2.3 2.2-.7 1.3 0" stroke="#208080" stroke-width="0.60" stroke-opacity="0.85"/>
<path d="M298.6 5.5l14.8 59 2.5 8.4 1.7 3.7 1.8 1.7 2.7 .9 29.8 3.9 1.3 0 .7-23.1 1.3-23 1.1-12 1.4-10 1.6-6.5 1.7-2.3 2.2-.7 1.3 0" stroke="#3050e0" stroke-width="0.60" stroke-opacity="0.85"/>
<path d="M298.6 5.5l14.2 56.5 2.8 8.7 2.2 4.5 2.3 2 3.2 .9 28.5 1.8.7 0 .7-19.9 1.3-23 1.1-12 1.4-10 1.6-6.5 1.7-2.3 2.2-.7 1.3 0" stroke="#20a0a0" stroke-width="0.60" stroke-opacity="0.85"/>
<path d="M298.6 5.5l14.3 54.5 3 9.2 2.5 4.8 1.2 1.4 1.3 .9 3.5 1 27.5 1.2 1.3 0 .6-18.5 1.3-23 1.1-12 1.4-10 1.6-6.5 1.7-2.3 2.2-.7 1.3 0" stroke="#d040d0" stroke-width="0.60" stroke-opacity="0.85"/>
<path d="M298.6 5.5l15.5 58.7 2.8 8.9 2 4.3 2 2.1 3 1 28 3 1 0 .8-23.5 1.3-23 1.1-12 1.4-10 1.6-6.5 1.7-2.3 2.2-.7 1.3 0" stroke="#f070b0" stroke-width="0.60" stroke-opacity="0.85"/>
<path d="M298.6 5.5l14.2 55.8 2.8 8.8 2 3.9 2 1.8 3 .8 29.2 2.5 1.3 0 .6-19.1 1.3-23 1.1-12 1.4-10 1.6-6.5 1.7-2.3 2.2-.7 1.3 0" stroke="#60b030" stroke-width="0.60" stroke-opacity="0.85"/>
<path d="M298.7 5.5l14.5 55.7 2.3 7.1 1.7 3.5 1.8 1.6 2.7 .7 30.3 1.2 1.4 0 .6-15.3 1.3-23 1.1-12 1.4-10 1.6-6.5 1.7-2.3 2.2-.7 1.3 0" stroke="#30b0d0" stroke-width="0.60" stroke-opacity="0.85"/>
<path d="M298.5 5.5l13.5 55.5 2.5 8.2 1.3 3 1.2 2.1 2.3 2 3.2 .8 29.3 1.4.7 0 .6-18.5 1.3-23 1.1-12 1.4-10 1.6-6.5 1.7-2.3 2.2-.7 1.3 0" stroke="#8040c0" stroke-width="0.60" stroke-opacity="0.85"/>
<path d="M298.7 5.5l13.2 48.9 3.5 10 2.8 5.2 1.2 1.4 1.5 1.2 1.8 .9 2.2 .6 27 3.7.8 0 .6-17.4 1.3-23 1.1-12 1.4-10 1.6-6.5 1.7-2.3 2.2-.7 1.3 0" stroke="#f09030" stroke-width="0.60" stroke-opacity="0.85"/>
<path d="M298.6 5.5l14.5 54.4 3 9 2.5 4.7 2.2 2 3.5 .9 27.5 .3.7 0 .6-16.8 1.3-23 1.1-12 1.4-10 1.6-6.5 1.7-2.3 2.2-.7 1.3 0" stroke="#e03030" stroke-width="0.60" stroke-opacity="0.85"/>
<path d="M298.5 5.5l13.3 56.1 2.7 9.5 2.3 4.8 1 1.2 1.2 .9 3.3 .9 29.5 1.4 1.3 0 .7-20.3 1.3-23 1.1-12 1.4-10 1.6-6.5 1.7-2.3 2.2-.7 1.3 0" stroke="#e04090" stroke-width="0.60" stroke-opacity="0.85"/>
<path d="M298.8 5.5l14.8 57.1 2.7 9.1 2.3 4.9 2 2.1 3.2 1.2 28 3.7 1.1 0 .8-23.6 1.3-23 1.1-12 1.4-10 1.6-6.5 1.7-2.3 2.2-.7 1.3 0" stroke="#f09030" stroke-width="0.60" stroke-opacity="0.85"/>
<path d="M298.8 5.5l14.8 56 2.7 8.8 2 4.2 2 2 3 1 28.5 3.2 1 0 .7-20.7 1.3-23 1.1-12 1.4-10 1.6-6.5 1.7-2.3 2.2-.7 1.3 0" stroke="#40c060" stroke-width="0.60" stroke-opacity="0.85"/>
<path d="M298.6 5.5l14.8 57.1 2.2 7.3 2 4.3 2 1.8 2.8 .7 29.5 1.7 1 0 .7-18.4 1.3-23 1.1-12 1.4-10 1.6-6.5 1.7-2.3 2.2-.7 1.3 0" stroke="#20a0a0" stroke-width="0.60" stroke-opacity="0.85"/>
<path d="M298.6 5.5l13.5 54.2 2.3 7.5 2 4.1 1.7 1.6 2.8 .8 31 3.9.9 0 .6-17.6 1.3-23 1.1-12 1.4-10 1.6-6.5 1.7-2.3 2.2-.7 1.3 0" stroke="#e03030" stroke-width="0.60" stroke-opacity="0.85"/>
<path d="M298.7 5.5l13 55.8 2.5 8.6 2 3.9 2 1.5 2.8 .6 31 .3 1 0 .6-16.2 1.3-23 1.1-12 1.4-10 1.6-6.5 1.7-2.3 2.2-.7 1.3 0" stroke="#f09030" stroke-width="0.60" stroke-opacity="0.85"/>
<path d="M298.7 5.5l13.8 52 3 9.1 2.2 4.2 2.3 2 3.2 1.1 28.8 3.4 1.2 0 .6-17.3 1.3-23 1.1-12 1.4-10 1.6-6.5 1.7-2.3 2.2-.7 1.3 0" stroke="#208080" stroke-width="0.60" stroke-opacity="0.85"/>
<path d="M298.9 5.5l13.7 56.4 3 9.8 1.3 3 1.2 2.1 2.3 2.2 3.5 1.1 28 2 1 0 .7-22.1 1.3-23 1.1-12 1.4-10 1.6-6.5 1.7-2.3 2.2-.7 1.3 0" stroke="#3050e0" stroke-width="0.60" stroke-opacity="0.85"/>
<path d="M298.7 5.5l13.2 50.3 3.3 9.6 2.7 5.2 1.3 1.5 1.5 1.1 1.7 .8 2.3 .6 5.7 .6 21.5 1.6 1.1 0 .6-16.8 1.3-23 1.1-12 1.4-10 1.6-6.5 1.7-2.3 2.2-.7 1.3 0" stroke="#60b030" stroke-width="0.60" stroke-opacity="0.85"/>
<path d="M298.8 5.5l13.8 58.8 2.5 8.5 2 4.3 2 1.8 3 .9 29.7 2 .8 0 .8-21.8 1.3-23 1.1-12 1.4-10 1.6-6.5 1.7-2.3 2.2-.7 1.3 0" stroke="#f09030" stroke-width="0.60" stroke-opacity="0.85"/>
<path d="M298.8 5.5l14.5 59.2 2.3 7.6 1.7 3.6 1.8 1.5 2.7 .6 30 .3 1.2 0 .6-18.3 1.3-23 1.1-12 1.4-10 1.6-6.5 1.7-2.3 2.2-.7 1.3 0" stroke="#40c060" stroke-width="0.60" stroke-opacity="0.85"/>
<path d="M298.9 5.5l13.2 53.6 3.3 10.4 2.5 5.1 1.2 1.5 1.3 1 1.7 .8 2 .5 27.8 2.7 1.4 0 .7-21.1 1.3-23 1.1-12 1.4-10 1.6-6.5 1.7-2.3 2.2-.7 1.3 0" stroke="#8040c0" stroke-width="0.60" stroke-opacity="0.85"/>
<path d="M298.7 5.5l15 57.7 2.5 8.3 2 4.3 2 1.8 2.8 .9 29 3.5.8 0 .8-22 1.3-23 1.1-12 1.4-10 1.6-6.5 1.7-2.3 2.2-.7 1.3 0" stroke="#40c060" stroke-width="0.60" stroke-opacity="0.85"/>
<path d="M298.6 5.5l15 56.9 2.5 8 2 4.1 2 1.9 2.7 .9 29 3.7.6 0 .7-21 1.3-23 1.1-12 1.4-10 1.6-6.5 1.7-2.3 2.2-.7 1.3 0" stroke="#4090e0" stroke-width="0.60" stroke-opacity="0.85"/>
<path d="M298.8 5.5l13.5 53.3 2.7 8.7 2.3 4.5 1 1 1.2 .9 3.3 .8 29 .9 1 0 .6-15.6 1.3-23 1.1-12 1.4-10 1.6-6.5 1.7-2.3 2.2-.7 1.3 0" stroke="#f09030" stroke-width="0.60" stroke-opacity="0.85"/>
<path d="M298.7 5.5l13.5 55.7 2.7 9.1 1.3 3.1 1.2 2.2 2.3 2.1 3.2 1.2 29 3.6.9 0 .8-22.5 1.3-23 1.1-12 1.4-10 1.6-6.5 1.7-2.3 2.2-.7 1.3 0" stroke="#f070b0" stroke-width="0.60" stroke-opacity="0.85"/>
<path d="M298.9 5.5l11.7 49.5 2.8 8.8 1.2 2.9 1.5 2.4 1.3 1.3 1.2 .9 3.8 1 29.5 1.4.7 0 1.8-36.7 1.1-12 1.4-10 1.6-6.5 1.7-2.3 2.2-.7 1.3 0" stroke="#4090e0" stroke-width="0.60" stroke-opacity="0.85"/>
<path d="M298.8 5.5l12.8 51.4 2.5 7.8 1.2 2.9 1.3 1.9 2.2 1.8 3.3 .7 29.7 .6 1.6 0 1.7-35.6 1.1-12 1.4-10 1.6-6.5 1.7-2.3 2.2-.7 1.3 0" stroke="#e04090" stroke-width="0.60" stroke-opacity="0.85"/>
<path d="M298.7 5.5l15 59.7 2.3 7.6 2 4.2 1.7 1.6 2.8 .8 29.5 1.6.5 0 .7-21 1.3-23 1.1-12 1.4-10 1.6-6.5 1.7-2.3 2.2-.7 1.3 0" stroke="#4090e0" stroke-width="0.60" stroke-opacity="0.85"/>
<path d="M298.7 5.5l13.2 57.1 2.3 7.9 2 4.3 1.7 1.6 2.8 .7 31.2 1.8 1.3 0 .6-18.9 1.3-23 1.1-12 1.4-10 1.6-6.5 1.7-2.3 2.2-.7 1.3 0" stroke="#2020b0" stroke-width="0.60" stroke-opacity="0.85"/>
<path d="M298.6 5.5l12.8 53.8 2.5 8.5 2.2 4.5 2 1.8 3.3 .8 30.5 2.1 1.4 0 .6-17 1.3-23 1.1-12 1.4-10 1.6-6.5 1.7-2.3 2.2-.7 1.3 0" stroke="#4090e0" stroke-width="0.60" stroke-opacity="0.85"/>
<path d="M298.7 5.5l12 50.4 2.8 8.8 2.7 5.5 2.5 2.4 3.8 1.4 29.5 4.2.5 0 .7-18.2 1.3-23 1.1-12 1.4-10 1.6-6.5 1.7-2.3 2.2-.7 1.3 0" stroke="#e04090" stroke-width="0.60" stroke-opacity="0.85"/>
<path d="M298.8 5.5l14.8 57.8 3 9.7 2.2 4.7 2.3 2.3 1.5 .8 2 .5 27.2 2.4 1.4 0 .7-23.7 1.3-23 1.1-12 1.4-10 1.6-6.5 1.7-2.3 2.2-.7 1.3 0" stroke="#f09030" stroke-width="0.60" stroke-opacity="0.85"/>
<path d="M298.8 5.5l12.7 54.1 2.8 9.3 1.5 3.8 1.2 2.2 1.3 1.5 1.2 1 3.5 1.3 28.8 3.5.8 0 .8-22.2 1.3-23 1.1-12 1.4-10 1.6-6.5 1.7-2.3 2.2-.7 1.3 0" stroke="#30b0d0" stroke-width="0.60" stroke-opacity="0.85"/>
<path d="M298.6 5.5l14.7 55.9 2.5 7.8 2 4.1 2 1.8 3 .8 29 1.9 1.2 0 .6-17.8 1.3-23 1.1-12 1.4-10 1.6-6.5 1.7-2.3 2.2-.7 1.3 0" stroke="#40c060" stroke-width="0.60" stroke-opacity="0.85"/>
<path d="M298.7 5.5l15.5 58.2 2.7 8.9 2.3 4.9 2.2 2.2 3 1.1 27.5 3.8 1.1 0 .8-24.6 1.3-23 1.1-12 1.4-10 1.6-6.5 1.7-2.3 2.2-.7 1.3 0" stroke="#e03030" stroke-width="0.60" stroke-opacity="0.85"/>
<path d="M298.9 5.5l19.7 71 3 9.5 2.3 5 2.2 2.7 1.5 .7 1.8 .5 4.5 .2 18 0 .8 0 1.1-35.1 1.3-23 1.1-12 1.4-10 1.6-6.5 1.7-2.3 2.2-.7 1.3 0" stroke="#e03030" stroke-width="0.50" stroke-opacity="0.70"/>
<path d="M298.6 5.5l24.2 66.7 3.5 8.8 2.8 5.6 2.7 3.4 1.5 1 1.8 .7 4.5 .5 12.2 0 .5 0 .6-22.2.9-20 .8-13 1.1-12 1.4-10 1.6-6.5 1.7-2.3 2.2-.7 1.3 0" stroke="#60b030" stroke-width="0.50" stroke-opacity="0.70"/>
<path d="M298.9 5.5l21 69.4 3.2 9.6 2.5 5.4 1.3 1.7 1.2 1.2 1.3 .6 1.7 .5 4.5 .3 16.3 .1 1.7-44.3.8-13 1.1-12 1.4-10 1.6-6.5 1.7-2.3 2.2-.7 1.3 0" stroke="#30b0d0" stroke-width="0.50" stroke-opacity="0.70"/>
<path d="M298.7 5.5l23 70.6 3.3 9 2.5 5.3 1.2 1.7 1.3 1.1 1.2 .7 1.8 .5 4.5 .3 14.5 .1.5 0 1.1-34.8 1.3-23 1.1-12 1.4-10 1.6-6.5 1.7-2.3 2.2-.7 1.3 0" stroke="#60b030" stroke-width="0.50" stroke-opacity="0.70"/>
<path d="M298.5 5.5l19.8 66.4 3.5 10.1 2.7 5.8 1.3 1.7 1.5 1.3 1.5 .9 2 .5 5 .4 16 0 .7 0 1-32.6 1.3-23 1.1-12 1.4-10 1.6-6.5 1.7-2.3 2.2-.7 1.3 0" stroke="#e04090" stroke-width="0.50" stroke-opacity="0.70"/>
<path d="M298.7 5.5l19.2 63.4 3.8 10.6 3.2 6.8 1.5 2 1.5 1.5 1.8 1.1 2.2 .7 5.5 .5 14.5 .1.5 0 .6-22.2.9-20 .8-13 1.1-12 1.4-10 1.6-6.5 1.7-2.3 2.2-.7 1.3 0" stroke="#40c060" stroke-width="0.50" stroke-opacity="0.70"/>
<path d="M298.6 5.5l21.5 71 2.8 8.2 2.2 4.9 1 1.4 1.3 1.1 2.7 1 4.3 .2 17.5 0 .5 0 .7-23.3.9-20 .8-13 1.1-12 1.4-10 1.6-6.5 1.7-2.3 2.2-.7 1.3 0" stroke="#c03060" stroke-width="0.50" stroke-opacity="0.70"/>
<path d="M298.7 5.5l19.2 69.6 3 9.5 2.3 4.9 1 1.4 1.2 1.1 3 1 23.5 .2.9 0 1-33.2 1.3-23 1.1-12 1.4-10 1.6-6.5 1.7-2.3 2.2-.7 1.3 0" stroke="#40c060" stroke-width="0.50" stroke-opacity="0.70"/>
<path d="M298.6 5.5l18.5 68.1 3.2 10.1 2.5 5.5 1.3 1.7 1.2 1.1 1.5 .8 2 .5 5 .3 18 .1 1 0 1-33.7 1.3-23 1.1-12 1.4-10 1.6-6.5 1.7-2.3 2.2-.7 1.3 0" stroke="#40c060" stroke-width="0.50" stroke-opacity="0.70"/>
<path d="M298.7 5.5l19.8 70.5 3 9.4 2.2 4.9 2.3 2.7 1.5 .7 1.7 .4 4.5 .3 18.3 0 1.7-44.4.8-13 1.1-12 1.4-10 1.6-6.5 1.7-2.3 2.2-.7 1.3 0" stroke="#3050e0" stroke-width="0.50" stroke-opacity="0.70"/>
<path d="M352 95.5l.5 0 1.1-35.5 1.3-23 1.1-12 1.4-10 1.6-6.5 1.7-2.3 2.2-.7 1.3 0" stroke="#30b060" stroke-width="0.70" stroke-opacity="0.90"/>
<path d="M352 95.5l.9 0 1.1-35.5 1.3-23 1.1-12 1.4-10 1.6-6.5 1.7-2.3 2.2-.7 1.3 0" stroke="#20a0a0" stroke-width="0.70" stroke-opacity="0.90"/>
<path d="M306.9 95.5l18.5 .4 27 .1" stroke="#4090e0" stroke-width="0.60" stroke-opacity="0.70"/>
<path d="M307.4 95.5l2 .2 5.5 1.3 3.5 .3 34 .1" stroke="#d040d0" stroke-width="0.60" stroke-opacity="0.70"/>
<path d="M307.4 95.5l2 .4 5.5 2.5 3 .6 34.5 .1" stroke="#4090e0" stroke-width="0.60" stroke-opacity="0.70"/>
<path d="M305.5 95.5l13.5 1.3 33.5 .1" stroke="#30b0d0" stroke-width="0.60" stroke-opacity="0.70"/>
<path d="M306.2 95.5l1.5 .2 2 .8 8.5 6.3 2.5 1.2 3 .9 7 .6 21.5 .1" stroke="#e04090" stroke-width="0.60" stroke-opacity="0.70"/>
<path d="M303.8 95.5l3 .4 7.5 2.4 4 .6 34 .2" stroke="#f070b0" stroke-width="0.60" stroke-opacity="0.70"/>
<path d="M307.9 95.5l14.5 .5 30 .1" stroke="#e04090" stroke-width="0.60" stroke-opacity="0.70"/>
<path d="M307.6 95.5l2.5 .3 6 1.9 3.5 .4 32.5 .1" stroke="#30b0d0" stroke-width="0.60" stroke-opacity="0.70"/>
<path d="M305.8 95.5l18.5 1.8 28 .2" stroke="#e03030" stroke-width="0.60" stroke-opacity="0.70"/>
<path d="M303.4 95.5l10.5 1.1 38.5 0" stroke="#30b0d0" stroke-width="0.60" stroke-opacity="0.70"/>
<path d="M306.6 95.5l18 1.6 27.5 .2" stroke="#40c060" stroke-width="0.60" stroke-opacity="0.70"/>
<path d="M307.5 95.5l1 .2 1.5 1.1 4 5 2 2 1.5 .9 2 .8 5 .4 28 0" stroke="#3050e0" stroke-width="0.60" stroke-opacity="0.70"/>
<path d="M303 95.5l3.5 .2 9.5 1.7 6 .5 30 .2" stroke="#d040d0" stroke-width="0.60" stroke-opacity="0.70"/>
<path d="M306.8 95.5l16.5 .4 29 .1" stroke="#2020b0" stroke-width="0.60" stroke-opacity="0.70"/>
<path d="M307.6 95.5l1.5 .2 1.5 .7 8.5 7.2 2.5 1.4 2.5 .8 6.5 .7 21.5 0" stroke="#e04090" stroke-width="0.60" stroke-opacity="0.70"/>
<path d="M307.3 95.5l1 .2 1.5 .7 6.5 5.8 2 1 2 .6 5.5 .4 26.5 .1" stroke="#30b0d0" stroke-width="0.60" stroke-opacity="0.70"/>
<path d="M303.5 95.5l2 .7 5.5 4.8 1.5 .7 2 .5 4.5 .2 33.5 0" stroke="#8040c0" stroke-width="0.60" stroke-opacity="0.70"/>
<path d="M304.9 95.5l1.5 .3 1.5 .9 5.5 5.7 2.5 2.1 2 1.2 2 .7 2.5 .4 4 .2 26 0" stroke="#9060e0" stroke-width="0.60" stroke-opacity="0.70"/>
<path d="M305.6 95.5l1 .2 1.5 1.1 6 6.9 2 1.3 2 .7 5 .4 29 0" stroke="#f070b0" stroke-width="0.60" stroke-opacity="0.70"/>
<path d="M308 95.5l1 .2 1.5 .8 6.5 6.6 2 1.2 2 .7 5.5 .5 26 0" stroke="#3050e0" stroke-width="0.60" stroke-opacity="0.70"/>
<path d="M304.6 95.5l18.5 .7 29 0" stroke="#2020b0" stroke-width="0.60" stroke-opacity="0.70"/>
<path d="M303.9 95.5l18.5 .4 30 0" stroke="#c03060" stroke-width="0.60" stroke-opacity="0.70"/>
<path d="M306 95.5l3 .5 8.5 3.9 5 1.3 6.5 .4 23.5 0" stroke="#2020b0" stroke-width="0.60" stroke-opacity="0.70"/>
<path d="M303.2 95.5l14.5 .5 34.5 .1" stroke="#3050e0" stroke-width="0.60" stroke-opacity="0.70"/>
<path d="M303.3 95.5l3.5 .4 9 2.6 4.5 .7 32 .2" stroke="#8040c0" stroke-width="0.60" stroke-opacity="0.70"/>
<path d="M306.3 95.5l2 .7 4.5 3.4 1.5 .7 2 .4 36 .1" stroke="#8040c0" stroke-width="0.60" stroke-opacity="0.70"/>
<path d="M304.2 95.5l1 .3 1 .8 4 5.2 1.5 1.5 1.5 1 2 .6 4.5 .3 32.5 0" stroke="#20a0a0" stroke-width="0.60" stroke-opacity="0.70"/>
<path d="M305.7 95.5l18.5 .4 28 0" stroke="#e03030" stroke-width="0.60" stroke-opacity="0.70"/>
<path d="M303.9 95.5l3 .3 7.5 1.9 4.5 .5 33.5 .1" stroke="#20a0a0" stroke-width="0.60" stroke-opacity="0.70"/>
<path d="M306.6 95.5l1.5 .2 1.5 .7 8.5 6.7 2.5 1.3 2.5 .8 6.5 .7 22.5 .1" stroke="#c03060" stroke-width="0.60" stroke-opacity="0.70"/>
<path d="M304.7 95.5l16.5 .5 31 0" stroke="#20a0a0" stroke-width="0.60" stroke-opacity="0.70"/>
<path d="M307.9 95.5l17 .4 27.5 0" stroke="#30b0d0" stroke-width="0.60" stroke-opacity="0.70"/>
<path d="M303.9 95.5l3 .4 7.5 2.2 4.5 .6 33.5 .2" stroke="#40c060" stroke-width="0.60" stroke-opacity="0.70"/>
<path d="M306.1 95.5l1.5 .3 2 1.1 6 5.6 2.5 1.9 2 1 2.5 .8 6.5 .7 23 0" stroke="#20a0a0" stroke-width="0.60" stroke-opacity="0.70"/>
<path d="M305 95.5l1.5 .2 1.5 .6 7 4.4 4.5 1.2 6 .3 27 0" stroke="#20a0a0" stroke-width="0.60" stroke-opacity="0.70"/>
<path d="M305.1 95.5l3 .3 7.5 1.6 4 .4 32.5 .1" stroke="#e03030" stroke-width="0.60" stroke-opacity="0.70"/>
<path d="M304.4 95.5l11 1.3 37 .1" stroke="#e03030" stroke-width="0.60" stroke-opacity="0.70"/>
<path d="M305.2 95.5l17.5 1.6 29.5 .2" stroke="#d040d0" stroke-width="0.60" stroke-opacity="0.70"/>
<path d="M307.2 95.5l3.5 .3 7.5 1.4 4.5 .4 29.5 .1" stroke="#f09030" stroke-width="0.60" stroke-opacity="0.70"/>
<path d="M307.5 95.5l3 .3 8 1.5 4 .4 29.5 .1" stroke="#20a0a0" stroke-width="0.60" stroke-opacity="0.70"/>
<path d="M352 82.8l.6-1.6 2 11.3 1 2.3 1.4 .7" stroke="#00a000" stroke-width="0.60" stroke-opacity="0.85"/>
<path d="M352 82.8l.6-1.6 2 11.3 1 2.3 1.4 .7" stroke="#ff8000" stroke-width="0.60" stroke-opacity="0.85"/>
<path d="M28.5 222.4l18-20 9-8.8 5-3.8 4-2.4 4-1.9 5-1.8 7-1.6 10-1.5 70-6.9 26-3.2 30.7-4.5 1.6-20.3 1-8 1-5.1 1.2-3.7 1.2-2.1 1.8-1.5 2.8-.8" stroke="#e04090" stroke-width="0.55" stroke-opacity="0.90"/>
<path d="M30.1 221.5l28-11.7 10-3.6 9-2.8 9-2.2 10-1.9 11-1.5 13-1.2 2-.6 3-1.8 3-2.8 9-10.6 3-3.1 3-2.4 2-.9 36-4.5 35.9-5.2 1.8-19 1-6.7 1-4.7 1.2-3.8 1.5-2.7 1.7-1.8 2.6-1.1" stroke="#e03030" stroke-width="0.40" stroke-opacity="0.60"/>
<path d="M30.1 221.5l28-11.7 10-3.6 9-2.8 9-2.2 10-1.9 11-1.5 12-1.2 1 .1 1 1.5 1 3.2 3 13.4 1 3.7 1 2.4 1 .6 5 0" stroke="#60b030" stroke-width="0.45" stroke-opacity="0.75"/>
<path d="M28.5 221.4l16-21.8 7-8.4 4-3.9 4-3 4-2.3 4-1.7 6-1.7 8-1.4 46-5.5 31-4.7 27-5 31.7-6.9 1.8-14.4 1-5.2 1-3.5 1.2-2.9 1.6-2.1 1.7-1.4 2.3-.8" stroke="#e04090" stroke-width="0.55" stroke-opacity="0.90"/>
<path d="M30.2 221.5l20-8.8 12-4.9 11-3.8 10-2.8 11-2.4 12-1.8 16-1.5 19-1.2 2-.5 3-1.9 3-3.2 4-5.5 10-15.7 3-3.7 3-2.5 2-.9 19-4.6 26-7.2 1 0 1.8-12 1-4.1 1-2.7 1.2-2.2 1.6-1.6 1.7-.9 2.3-.5" stroke="#208080" stroke-width="0.40" stroke-opacity="0.60"/>
<path d="M30.2 221.5l20-8.8 12-4.9 11-3.8 10-2.8 12-2.5 13-1.9 15-1.4 18-1 1 1.5 1 3.4 3 14.7 1 4.2 1 2.7 1 .6 5 0" stroke="#f09030" stroke-width="0.45" stroke-opacity="0.75"/>
<path d="M28.5 221.7l14-20.8 7-9.5 3-3.4 3-2.8 3-2.3 4-2.3 6-2.3 8-1.7 48-6.3 17-2.7 16-3 28-6 31.5-8.1 2-13.4 1-4.2 1-2.8 1.2-2.3 1.6-1.6 1.7-1 2.3-.6" stroke="#4090e0" stroke-width="0.55" stroke-opacity="0.90"/>
<path d="M35.8 221.5l28-6.8 18-3.8 18-2.8 20-2 2-1.7 2-3.3 2-4.4 6-15.5 2-4.3 2-3.1 1-1 1-.4 20-2.7 19-2.9 19-3.3 21.2-4.2 1.8-17.2 1-6.1 1-4 1.2-3.2 1.5-2.1 1.7-1.3 2.6-.8" stroke="#f070b0" stroke-width="0.40" stroke-opacity="0.60"/>
<path d="M35.8 221.5l28-6.8 18-3.8 18-2.8 19-1.9 1 0 1 .5 2 2 6 9.7 2 2.3 1 .6 1 .2 5 0" stroke="#60b030" stroke-width="0.45" stroke-opacity="0.75"/>
<path d="M34.3 221.5l24-7.6 15-4.2 14-3.1 14-2.3 16-1.6 18-1.2 26-.9 36-.5 1-.3 2-2 2-3.3 7-16.6 3-5.7 2-2 2.9-.5 1.8-24 1.8-11.8 1.2-4.2 1.5-2.7 1.7-1.6 2.6-.8" stroke="#9060e0" stroke-width="0.40" stroke-opacity="0.60"/>
<path d="M34.3 221.5l24-7.6 15-4.2 14-3.1 14-2.3 16-1.6 20-1.3 26-.8 34-.5 1 1 1 2.4 4 14.4 1 2.5 1 1.1 6 0" stroke="#20a0a0" stroke-width="0.45" stroke-opacity="0.75"/>
<path d="M28.5 220.9l16-20.7 8-9.2 4-3.6 4-3 4-2.2 4-1.6 7-1.9 8-1.4 47-5.3 31-4.3 26-4.5 29.5-5.9 1.5-17.8.7-5 1-4.2 1.3-3 1.5-1.7 2-.9 2.8-.4" stroke="#30a030" stroke-width="0.55" stroke-opacity="0.90"/>
<path d="M33.7 221.5l35-8.8 12-2.5 12-2.1 12-1.6 14-1.3 34-1.8 1-.3 1-1.2 1-1.9 6-17.9 2-4.4 1-1.1 52.5-5 1.8-22.4 1-8.3 1-5.5 1.2-4.4 1.6-3.1 1.7-1.9 2.3-1.1" stroke="#40c060" stroke-width="0.40" stroke-opacity="0.60"/>
<path d="M33.7 221.5l35-8.8 12-2.5 12-2.1 12-1.6 14-1.3 34-1.8 1 .3 1 1.4 5 13.4 1 1.9 1 1 6 .1" stroke="#c03060" stroke-width="0.45" stroke-opacity="0.75"/>
<path d="M28.5 221.9l14-22.1 6-8.6 3-3.6 3-3 3-2.5 4-2.3 6-2.3 7-1.6 47-6.5 17-2.9 16-3.2 15-3.4 15-3.7 32.5-9.2 1.8-11.2 1-4 1-2.6 1.2-2.1 1.5-1.4 1.7-.8 2.6-.5" stroke="#f09030" stroke-width="0.55" stroke-opacity="0.90"/>
<path d="M36.1 221.5l26-7.1 16-3.9 1-.5 1-1.7 1-2.5 6-20.7 1-2 1-1.1 16-1.8 66-5.2 45.9-4.7 1.8-23.8 1-7.7 1-5 1.2-4 1.5-2.6 1.7-1.6 2.6-.9" stroke="#9060e0" stroke-width="0.40" stroke-opacity="0.60"/>
<path d="M36.1 221.5l29-7.8 12-2.9 2-.3 1 .6 1 1 4 6.5 2 2.5 1 .4 6 0" stroke="#f09030" stroke-width="0.45" stroke-opacity="0.75"/>
<path d="M28.5 221.1l14-22.3 6-8.7 3-3.6 3-3.1 3-2.4 4-2.3 6-2.2 7-1.6 46-6.4 17-3 16-3.2 15-3.4 15-3.7 17-4.8 16-4.9.7 0 1.6-9.8 1-4 1-2.6 1.2-2 1.5-1.4 1.7-.8 2.6-.5" stroke="#20a0a0" stroke-width="0.55" stroke-opacity="0.90"/>
<path d="M33.4 221.5l22-8.2 12-4.1 12-3.6 11-2.5 12-2.1 13-1.6 18-1.4 22-1.1 2-.6 3-2.3 4-5.3 3-5.2 9-17.2 3-4.7 2-2.5 3-2.3 32.6-9 .2-.2 1.8-12.4 1.8-5.9 1.2-2.1 1.5-1.4 1.7-.9 2.6-.5" stroke="#20a0a0" stroke-width="0.40" stroke-opacity="0.60"/>
<path d="M33.4 221.5l22-8.2 12-4.1 12-3.6 11-2.5 13-2.2 14-1.7 17-1.3 21-1 1 .4 2 3.3 6 16.6 2 3.6 1 .7 6 0" stroke="#f09030" stroke-width="0.45" stroke-opacity="0.75"/>
<path d="M34.4 221.5l25-6.6 15-3.6 14-2.7 15-2.1 17-1.5 19-1.1 24-.7 36-.6 1-1.3 2-6.7 5-26.7 2-8.2 1-2.3 1-.7 5.8-1.2 1.8-17.9.8-4.3 1-3.7 1-2.2 1.4-1.7 1.8-.9 2.8-.5" stroke="#f09030" stroke-width="0.40" stroke-opacity="0.60"/>
<path d="M34.4 221.5l25-6.6 15-3.6 14-2.7 15-2.1 17-1.5 20-1.1 25-.7 33-.5 1 0 1 1.1 1 2.1 4 12.1 1 2.2 1 1.2 6 .1" stroke="#e03030" stroke-width="0.45" stroke-opacity="0.75"/>
<path d="M28.5 221.9l16-20.7 8-9.2 4-3.7 4-2.9 4-2.2 4-1.6 7-1.9 8-1.4 47-5.4 30-4.2 26-4.4 30.7-6.2 1.8-17.9 1.8-8.9 1.2-3.1 1.5-2 1.7-1.1 2.6-.6" stroke="#c03060" stroke-width="0.55" stroke-opacity="0.90"/>
<path d="M32.3 221.5l21-7.5 13-4.3 12-3.4 12-2.6 13-2 14-1.4 15-1 25-1.1 1-1.1 2-4.9 5-18.5 2-5.5 1-1.4 1-.5 21-3.9 26.7-5.5 1.5-16.6 1-6.2 1-3.8 1.3-2.8 1.4-1.7 1.8-.9 2.8-.5" stroke="#8040c0" stroke-width="0.40" stroke-opacity="0.60"/>
<path d="M32.3 221.5l21-7.5 13-4.3 12-3.4 12-2.6 13-2 14-1.4 17-1.1 22-.8 1 .1 1 .6 2 3 6 14.1 2 3.6 1 1.2 1 .5 6 0" stroke="#e03030" stroke-width="0.45" stroke-opacity="0.75"/>
<path d="M28.5 221.1l17-19.9 5-5.5 4-3.8 4-3.3 4-2.7 4-2.1 5-1.9 7-1.7 8-1.4 49-4.9 23-2.7 27-3.7 31.7-5.2 1.6-18 1-7.3 1-4.6 1.2-3.5 1.5-2.3 1.7-1.3 2.6-.8" stroke="#20a0a0" stroke-width="0.55" stroke-opacity="0.90"/>
<path d="M35.2 221.5l33-7.9 21-3.9 11-1.6 11-1.1 27-1.8 1-.5 1-1.2 2-4.3 2-5.9 6-20.3 2-4.9 1-1.7 1-1 30-6.4 16-4 16-4.3 1 0 2-13.2 1-4.2 1-2.9 1.3-2.4 1.3-1.4 1.7-1.2 2.3-.7" stroke="#8040c0" stroke-width="0.40" stroke-opacity="0.60"/>
<path d="M35.2 221.5l33-7.9 21-3.9 11-1.6 11-1.1 27-1.7 1 .7 1 1.6 4 10.4 1 2.1 1 1.2 1 .2 5 0" stroke="#20a0a0" stroke-width="0.45" stroke-opacity="0.75"/>
<path d="M28.5 221.2l18-19.9 9-8.8 5-3.8 4-2.4 4-1.9 5-1.8 7-1.6 10-1.6 70-6.8 26-3.2 30.7-4.5 1.6-22 .7-6.5 1-5.3 1-3 1.5-2.3 1.8-1 3-.5" stroke="#30b0d0" stroke-width="0.55" stroke-opacity="0.90"/>
<path d="M32.2 221.5l24-8.4 15-4.7 14-3.5 14-2.4 16-1.9 19-1.4 28-1.1 40-1 1 0 1-.5 2-2.3 2-3.8 3-7.8 5-14.7 1 0 1.8-24.9 1-7.6 1.2-5.3 1-2.4 1.6-1.9 1.7-1 2.3-.5" stroke="#d040d0" stroke-width="0.40" stroke-opacity="0.60"/>
<path d="M32.2 221.5l24-8.4 15-4.7 14-3.5 15-2.6 17-1.9 20-1.3 27-1.1 38-.9 1 .1 1 .8 1 1.7 7 19.2 1 1.7 1 .8 2 .1" stroke="#30a030" stroke-width="0.45" stroke-opacity="0.75"/>
<path d="M31.8 221.5l33-10.8 12-3.3 11-2.3 11-1.8 13-1.5 17-1.2 20-.9 2-.5 3-2 3-3.1 3-3.9 10-14.4 3-3.3 3-2.1 2-.5 39.2-6 1.8-21.2 1.7-10.5 1.3-3.6 1.4-2.3 1.8-1.2 2.8-.7" stroke="#f070b0" stroke-width="0.40" stroke-opacity="0.60"/>
<path d="M31.8 221.5l33-10.8 12-3.3 11-2.3 12-1.9 14-1.6 15-1 19-.9 1 0 1 .7 1 1.5 2 4.5 4 10.8 2 3.6 1 .7 6 0" stroke="#f09030" stroke-width="0.45" stroke-opacity="0.75"/>
<path d="M28.5 220.6l17-20.3 5-5.5 4-3.9 4-3.3 4-2.7 4-2 5-1.9 7-1.7 10-1.5 47-4.9 30-3.7 23-3.4 28.7-4.9 1.6-18.1 1-6.8 1-4.4 1.2-3.2 1.5-2.1 1.7-1.2 2.6-.6" stroke="#f09030" stroke-width="0.55" stroke-opacity="0.90"/>
<path d="M33.3 221.5l26-9.6 17-5.3 16-3.7 10-1.7 11-1.3 2-.7 2-1.7 3-4.1 11-19.9 3-3.8 2-1.5 22-4.1 17-3.6 21-5 20-5.5.9 0 1.8-13 1-4.4 1-2.9 1.2-2.2 1.6-1.6 1.7-.9 2.3-.5" stroke="#30b0d0" stroke-width="0.40" stroke-opacity="0.60"/>
<path d="M33.3 221.5l27-9.9 17-5.3 8-2 9-1.8 19-2.6 1 .3 1 1 1 1.7 6 15 2 3.1 1 .5 6 0" stroke="#d040d0" stroke-width="0.45" stroke-opacity="0.75"/>
<path d="M28.5 220.6l18-20 9-8.7 5-3.8 4-2.4 4-1.9 5-1.8 7-1.7 10-1.5 48-4.5 23-2.5 26-3.2 29.5-4.3 2-21.4 1.8-9.7 1.2-3.7 1.5-2.5 1.7-1.5 2.6-.8" stroke="#30a030" stroke-width="0.55" stroke-opacity="0.90"/>
<path d="M32.9 221.5l25-7.4 15-4 14-3 15-2.3 16-1.7 19-1.2 27-1.1 37-.8 2-.4 1-.6 2-2.1 3-4.8 8.1-18 1.8-24.2 1-8.8 1-5.8 1.2-4.6 1.5-3 1.7-1.8 2.6-1.1" stroke="#4090e0" stroke-width="0.40" stroke-opacity="0.60"/>
<path d="M32.9 221.5l25-7.4 15-4 14-3 15-2.3 17-1.8 20-1.2 26-1 36-.8 1 0 1 .9 1 1.8 5 13.9 2 4 1 .9 5 0" stroke="#e04090" stroke-width="0.45" stroke-opacity="0.75"/>
<path d="M28.5 222.6l16-21.5 7-8.3 4-3.9 4-3.1 4-2.3 4-1.7 7-2 8-1.4 46-5.4 31-4.5 27-4.9 30.5-6.6.2-.3 1.8-17.3 1.8-8.1 1.2-3 1.5-2 1.7-1.1 2.6-.7" stroke="#60b030" stroke-width="0.55" stroke-opacity="0.90"/>
<path d="M35.1 221.5l26-8.2 18-4.9 1-.9 2-3.7 8-23.7 2-3.9 1-1 1-.4 36-4.5 27-4.4 27-5.4 32-7.7.9 0 1.5-13.8 1-5.3 1-3.4 1.3-2.6 1.4-1.7 2-1.1 2.6-.5" stroke="#30a030" stroke-width="0.40" stroke-opacity="0.60"/>
<path d="M35.1 221.5l27-8.4 17-4.5 1 .3 2 2.2 4 7 2 2.7 1 .6 6 .1" stroke="#d040d0" stroke-width="0.45" stroke-opacity="0.75"/>
<path d="M29.9 221.5l21-9.1 12-4.8 12-4 12-3.1 13-2.3 14-1.6 15-1.1 26-1.1 1-.3 2-2 2-3.5 7-15.5 2-2.9 1-.7 25-4 22.1-4 1.8-19.6 1.7-9.7 1.3-3.5 1.4-2.2 2-1.4 2.6-.6" stroke="#f09030" stroke-width="0.40" stroke-opacity="0.60"/>
<path d="M29.9 221.5l21-9.1 12-4.8 12-4 12-3.1 13-2.3 15-1.7 18-1.3 22-.8 1 .4 1 1.4 1 2.1 6 18.4 2 4 1 .8 6 0" stroke="#c03060" stroke-width="0.45" stroke-opacity="0.75"/>
<path d="M28.5 220.6l18-20 9-8.8 4-3.1 5-3.1 4-1.9 5-1.8 7-1.6 9-1.4 49-4.7 23-2.5 26-3.2 29.5-4.4 1.5-20.1 1-7.6 1-4.6 1.3-3.5 1.4-2.1 1.8-1.1 2.8-.7" stroke="#e03030" stroke-width="0.55" stroke-opacity="0.90"/>
<path d="M31 221.5l25-10.6 16-5.8 15-4.1 18-3.2 1-.8 2-3.2 7-16.6 2-3 1-.7 25-3.2 23-3.6 21-3.9 29-6.2 1.2 0 2-17.3 1.8-7.9 1.2-3 1.3-1.7 1.7-1.3 2.6-.8" stroke="#3050e0" stroke-width="0.40" stroke-opacity="0.60"/>
<path d="M31 221.5l25-10.6 16-5.8 15-4.1 8-1.6 9-1.4 1 .1 1 2 4 16.8 1 3.2 1 1.4 6 0" stroke="#c03060" stroke-width="0.45" stroke-opacity="0.75"/>
<path d="M28.5 222.4l16-22.6 7-8.7 4-3.9 3-2.3 4-2.4 4-1.7 6-1.8 8-1.4 45-5.6 31-4.9 29-5.8 31.5-7.4 1.5-15.1 1-5.6 1-3.5 1.3-2.5 1.4-1.6 1.8-.8 2.8-.5" stroke="#f070b0" stroke-width="0.55" stroke-opacity="0.90"/>
<path d="M32.6 221.5l21-8.9 13-5 12-3.9 12-3.1 2-1.8 2-3.2 7-15.3 2-3.7 2-2.5 1-.6 30-4.2 26-4.5 26-5.4 28.4-6.9 1.8-14.6 1-4.8 1-3.1 1.2-2.4 1.5-1.7 1.7-.9 2.6-.5" stroke="#f09030" stroke-width="0.40" stroke-opacity="0.60"/>
<path d="M32.6 221.5l22-9.3 13-5 13-4.1 8-2 2-.2 1 1.1 1 2.2 4 12.7 1 2.6 1 1.6 1 .4 5 0" stroke="#f09030" stroke-width="0.45" stroke-opacity="0.75"/>
<path d="M28.5 222.3l14-21.2 7-9.5 3-3.4 3-2.9 3-2.3 4-2.2 6-2.2 8-1.7 47-6.3 16-2.6 16-3 29-6.4 32.5-8.5 1.8-12.4 1-4.4 1-2.9 1.2-2.4 1.5-1.7 1.7-1 2.6-.7" stroke="#e04090" stroke-width="0.55" stroke-opacity="0.90"/>
<path d="M32.5 221.5l26-8.4 17-5 2-1.6 2-2.8 10-18.5 3-3.6 2-1 71-6.1 25-2.7 26.7-3.2 1.6-23 .7-6.5 1-5.7 1.3-4.2 1.4-2.6 1.8-1.4 2.8-.7" stroke="#60b030" stroke-width="0.40" stroke-opacity="0.60"/>
<path d="M32.5 221.5l26-8.4 16-4.6 1 .3 1 1.4 4 9.9 1 1.3 6 .1" stroke="#c03060" stroke-width="0.45" stroke-opacity="0.75"/>
<path d="M32.2 221.5l19-8.2 12-4.8 11-3.8 10-2.8 11-2.4 11-1.7 15-1.5 17-1.1 3-.7 3-1.6 3-2.4 14-14.5 3-2.3 3-1.4 49.8-6.8 1.8-24.1.7-5.8 1-4.8 1-2.8 1.5-2.2 2-1.1 2.8-.4" stroke="#f09030" stroke-width="0.40" stroke-opacity="0.60"/>
<path d="M32.2 221.5l19-8.2 12-4.8 11-3.8 10-2.8 11-2.4 12-1.8 14-1.4 17-1.1 1 .9 1 3.2 3 15.5 1 4.2 1 2.3 6 .2" stroke="#30b0d0" stroke-width="0.45" stroke-opacity="0.75"/>
<path d="M28.5 221.1l19-19.8 9-8.2 5-3.7 4-2.3 5-2.3 5-1.6 8-1.8 11-1.5 69-6.2 24-2.6 29.7-3.7 1.8-24.4.8-6 1-5.1 1-3.1 1.4-2.4 1.8-1.3 2.8-.7" stroke="#f09030" stroke-width="0.55" stroke-opacity="0.90"/>
<path d="M33.7 221.5l25-6.2 15-3.4 14-2.6 15-2.1 17-1.7 19-1.1 24-.9 33-.8 1-1 1-2.3 2-7 3-12.5 2-6 1-1.3 11.3-1.3 2-23.2 1-7.4 1-5.1 1.2-4.3 1.6-3 1.7-2 2.3-1.2" stroke="#4090e0" stroke-width="0.40" stroke-opacity="0.60"/>
<path d="M33.7 221.5l25-6.2 15-3.4 14-2.6 15-2.1 17-1.7 19-1.1 25-1 32-.7 1 .5 2 3 5 11.8 2 3 1 .5 6 0" stroke="#f09030" stroke-width="0.45" stroke-opacity="0.75"/>
<path d="M28.5 221.9l18-19.2 9-8.5 5-3.8 4-2.5 5-2.4 5-1.7 8-1.8 10-1.5 71-6.5 25-2.9 28.5-3.8 1.8-21.2 1-7.2 1-4.9 1.2-3.9 1.5-2.7 1.7-1.6 2.6-1" stroke="#60b030" stroke-width="0.55" stroke-opacity="0.90"/>
<path d="M34.3 221.5l26-8.8 16-4.7 15-3.4 18-2.7 2-1.6 2-3 9-18.5 2-2.7 2-1.3 23-2.7 22-2.9 20-3.2 25.7-4.4.2-.5 1.8-19.8 1.8-9.2 1.2-3.3 1.5-2.2 1.7-1.3 2.6-.8" stroke="#e04090" stroke-width="0.40" stroke-opacity="0.60"/>
<path d="M34.3 221.5l26-8.8 16-4.7 16-3.5 16-2.4 1 .4 1 2 4 14.3 1 2.2 1 .5 5 0" stroke="#c03060" stroke-width="0.45" stroke-opacity="0.75"/>
<path d="M28.5 220.6l14-20.2 7-9.2 6-6.2 3-2.4 4-2.3 7-2.7 8-1.7 49-6.3 17-2.6 16-2.8 26-5.4 31.7-7.6 1.8-14.9.8-3.8 1-3.3 1-2 1.4-1.6 1.8-.8 2.8-.5" stroke="#20a0a0" stroke-width="0.55" stroke-opacity="0.90"/>
<path d="M33.6 221.5l30-11.4 10-3.2 10-2.8 10-2.1 11-1.8 13-1.5 16-1.3 1-.3 2-1.7 2-2.9 10-20.2 2-3.1 2-1.8 1-.4 17-3.2 16-3.3 30.4-7.1 1.8-14.5 1-5 1-3.2 1.2-2.6 1.5-1.8 1.7-1.1 2.6-.6" stroke="#9060e0" stroke-width="0.40" stroke-opacity="0.60"/>
<path d="M33.6 221.5l31-11.7 10-3.2 10-2.7 11-2.3 11-1.7 13-1.4 14-1 1 .9 1 2 5 16.4 1 2.6 1 1.6 1 .5 5 0" stroke="#d040d0" stroke-width="0.45" stroke-opacity="0.75"/>
<path d="M35.4 221.5l30-8 19-4.2 20-3.2 22-2 1-.8 2-4.9 4-15 2-5.9 1-1.6 1-.5 38-4.2 41.8-5.8 1.8-22.7.8-5.8 1-5 1-3.1 1.4-2.4 1.8-1.3 2.8-.7" stroke="#2020b0" stroke-width="0.40" stroke-opacity="0.60"/>
<path d="M35.4 221.5l30-8 19-4.2 20-3.2 22-2 1 .9 1 2.5 3 10.3 1 2.6 1 1.1 6 0" stroke="#c03060" stroke-width="0.45" stroke-opacity="0.75"/>
<path d="M28.5 222l18-20.1 9-8.7 4-3.2 5-3.1 4-1.9 5-1.7 7-1.7 9-1.4 71-7 26-3.3 30.7-4.5 1.8-19.2 1-6.9 1-4.7 1.2-3.8 1.6-2.9 1.7-1.8 2.3-1.1" stroke="#f070b0" stroke-width="0.55" stroke-opacity="0.90"/>
<path d="M32.5 221.5l22-7.6 13-4.1 12-3.3 12-2.4 12-1.9 14-1.4 19-1.2 25-1 3-.8 3-1.8 4-3.9 13-16.8 3-3.3 3-2.5 3-1.4 24-3.8 1.5-17.7 1-7.2 1-4.9 1.2-4 1.6-2.8 1.7-1.7 2.3-1.1" stroke="#3050e0" stroke-width="0.40" stroke-opacity="0.60"/>
<path d="M32.5 221.5l22-7.6 13-4.1 12-3.3 12-2.4 13-2 15-1.5 18-1.1 23-.8 1 0 1 1 1 2.4 4 14.3 1 2.9 1 1.8 1 .4 5 0" stroke="#4090e0" stroke-width="0.45" stroke-opacity="0.75"/>
<path d="M28.5 221l16-20.5 8-9.1 4-3.7 4-2.9 4-2.3 5-1.9 7-1.8 8-1.4 47-5.2 30-4.2 25-4.2 30.7-6 1.8-16.7 1-5.7 1-3.8 1.2-3 1.6-2 1.7-1.2 2.3-.8" stroke="#9060e0" stroke-width="0.55" stroke-opacity="0.90"/>
<path d="M32.4 221.5l21-8.3 13-4.7 12-3.6 11-2.5 12-2.1 13-1.5 20-1.4 25-.9 3-.9 3-2.3 3-3.3 12-17.2 3-3.6 3-2.5 2-.9 28.6-5.1 1.8-20.4.7-5.2 1-4.4 1-2.7 1.5-2.1 2-1.1 2.8-.5" stroke="#3050e0" stroke-width="0.40" stroke-opacity="0.60"/>
<path d="M32.4 221.5l21-8.3 13-4.7 12-3.6 12-2.7 13-2.2 15-1.6 18-1.1 23-.8 1 1.3 1 3 3 13.5 1 3.9 1 2.6 1 .7 5 0" stroke="#e04090" stroke-width="0.45" stroke-opacity="0.75"/>
<path d="M28.5 221.8l14-21.1 7-9.5 3-3.4 3-2.8 3-2.3 4-2.3 6-2.2 8-1.8 47-6.2 17-2.7 16-3 28-6.1 16-4.1 16-4.4.7 0 .3-.4 1.7-13.4 1.8-6.3 1.2-2.3 1.3-1.4 1.7-1 2.6-.6" stroke="#208080" stroke-width="0.55" stroke-opacity="0.90"/>
<path d="M34.5 221.5l31-8.9 20-4.6 10-1.7 10-1.4 13-1.3 15-1 1-.4 2-2.2 2-3.8 2-5 7-19.9 2-4.3 2-2.8 1-.7 18-4 17-4.2 29.5-8.4 1.8-12.2.7-3.3 1-2.8 1.3-2.1 1.4-1.2 1.8-.7 2.8-.3" stroke="#d040d0" stroke-width="0.40" stroke-opacity="0.60"/>
<path d="M34.5 221.5l32-9.1 10-2.5 10-2.1 10-1.7 11-1.4 12-1.2 14-.9 1 .6 1 1.5 5 13.2 1 2 1 1.3 1 .3 5 0" stroke="#20a0a0" stroke-width="0.45" stroke-opacity="0.75"/>
<path d="M30.6 221.5l25-10.3 15-5.4 14-3.8 8-1.7 9-1.5 3-.9 3-1.7 4-2.9 14-12.4 4-2.6 3-1.4 2-.4 45-4.6 37.6-4.9 1.6-23.8.7-6.7 1-5.4 1-3.1 1.5-2.2 1.8-1 3-.5" stroke="#40c060" stroke-width="0.40" stroke-opacity="0.60"/>
<path d="M30.6 221.5l25-10.3 15-5.4 8-2.3 8-2 9-1.7 6-.8 1 .9 1 1.8 5 14.7 2 4.3 1 .8 6 0" stroke="#20a0a0" stroke-width="0.45" stroke-opacity="0.75"/>
<path d="M28.5 221.9l18-19.3 9-8.6 5-3.8 4-2.5 5-2.3 5-1.7 8-1.9 10-1.4 70-6.5 25-3 29.7-4 1.8-22.5 1.8-11.3 1.2-3.9 1.2-2.2 1.8-1.6 2.8-.9" stroke="#60b030" stroke-width="0.55" stroke-opacity="0.90"/>
<path d="M33.1 221.5l33-10.6 12-3.3 13-2.8 2-.8 3-2 4-3.7 11-13 4-4.2 4-3.3 3-1.5 2-.5 24-2.5 23-2.8 46.1-6.9 1.6-20.5.7-6.1 1-5.2 1-3.1 1.5-2.4 2-1.4 2.8-.5" stroke="#20a0a0" stroke-width="0.40" stroke-opacity="0.60"/>
<path d="M33.1 221.5l34-10.9 12-3.2 11-2.3 1 0 1 .5 1 1 2 2.9 5 9.2 2 2.3 1 .5 6 0" stroke="#c03060" stroke-width="0.45" stroke-opacity="0.75"/>
<path d="M28.5 221l17-19.9 5-5.4 4-3.9 4-3.3 4-2.6 4-2.1 5-1.9 7-1.8 8-1.3 49-5 24-2.8 27-3.7 30.5-5 .2-.3 1.8-19.7 1.8-9.5 1.2-3.5 1.5-2.4 1.7-1.4 2.6-.9" stroke="#4090e0" stroke-width="0.55" stroke-opacity="0.90"/>
<path d="M32.2 221.5l26-9.8 10-3.4 9-2.6 2-.9 3-2.1 3-2.9 11-12.7 4-4.2 4-3.2 3-1.5 2-.4 31-2.9 26-2.9 23-3 27.8-4 1.8-22.9.7-5.8 1-5 1-2.9 1.5-2.3 2-1.3 2.8-.5" stroke="#d040d0" stroke-width="0.40" stroke-opacity="0.60"/>
<path d="M32.2 221.5l28-10.5 9-3 8-2.2 1 .2 2 1.9 6 10.6 2 2.5 1 .5 6 0" stroke="#2020b0" stroke-width="0.45" stroke-opacity="0.75"/>
<path d="M28.5 222.3l14-21.2 7-9.6 3-3.4 3-2.8 3-2.3 4-2.3 6-2.1 8-1.8 46-6.1 17-2.7 16-3 29-6.4 32.5-8.6 1.8-12.7 1-4.4 1-2.9 1.2-2.4 1.5-1.5 1.7-1 2.6-.6" stroke="#30b0d0" stroke-width="0.55" stroke-opacity="0.90"/>
<path d="M34.4 221.5l30-7.8 20-4.2 17-2.6 13-1.3 15-1.1 2-.7 2-1.6 3-3.9 12-21.8 3-4 2-1.6 2-.6 33-5.2 28.6-5.3.2-.4 1.6-20 .7-5.2 1-4.3 1-2.4 1.5-1.9 2-1 2.8-.3" stroke="#8040c0" stroke-width="0.40" stroke-opacity="0.60"/>
<path d="M34.4 221.5l31-8 20-4.2 20-2.9 24-1.8 1 .3 2 2.3 6 11.5 2 2.4 1 .4 6 0" stroke="#4090e0" stroke-width="0.45" stroke-opacity="0.75"/>
<path d="M34.3 221.5l32-8.2 20-4.2 20-2.8 28-2.3 1-1.4 1-2.4 4-14 2-5.9 1-1.6 1-.5 35-2.7 37.9-3.5 1.8-26.9.8-6.7 1-5.8 1-3.4 1.4-2.7 1.8-1.4 2.8-.7" stroke="#8040c0" stroke-width="0.40" stroke-opacity="0.60"/>
<path d="M34.3 221.5l32-8.2 20-4.2 11-1.7 11-1.3 25-1.9 1 .2 1 1.6 4 12.7 1 2.1 1 .7 5 0" stroke="#9060e0" stroke-width="0.45" stroke-opacity="0.75"/>
<path d="M28.5 222.2l20-19 10-8.3 5-3.3 5-2.7 5-2 5-1.6 9-1.8 13-1.6 69-5.2 47.7-4.5.3-.5 1.7-23.8 1.8-11.9 1.2-4.6 1.6-3.3 1.7-1.9 2.3-1.2" stroke="#f09030" stroke-width="0.55" stroke-opacity="0.90"/>
<path d="M30.6 221.5l20-8.5 12-4.7 11-3.8 11-2.9 11-2.3 13-1.8 13-1.2 22-1.5 1-1 1-1.8 6-15.9 1-1.8 1-1 33-4.4 30.6-4.6 1.8-19.4 1-6.7 1-4.6 1.2-3.7 1.6-2.5 1.7-1.6 2.3-1" stroke="#2020b0" stroke-width="0.40" stroke-opacity="0.60"/>
<path d="M30.6 221.5l20-8.5 12-4.7 11-3.8 11-2.9 12-2.4 13-1.8 15-1.3 18-1.1 1 .1 1 .9 2 3.4 6 16.1 2 4.1 1 1.3 1 .6 6 0" stroke="#f070b0" stroke-width="0.45" stroke-opacity="0.75"/>
<path d="M28.5 221.9l17-20 5-5.4 4-3.9 4-3.3 4-2.6 4-2.1 5-1.9 7-1.8 8-1.3 48-4.9 24-2.8 27-3.7 31.7-5.2 1.8-22.1.8-5.5 1-4.6 1-2.7 1.4-2.2 1.8-1 2.8-.6" stroke="#9060e0" stroke-width="0.55" stroke-opacity="0.90"/>
<path d="M30.9 221.5l22-9.6 14-5.5 13-4 14-3.2 15-2.1 19-1.6 22-1 34-.9 1-1.1 1-2.4 2-7.4 4-17.2 1-3.1 1-2 1-.6 22.3-5.2 1.8-14.8 1-5.3 1-3.5 1.2-2.7 1.6-1.9 1.7-1.1 2.3-.7" stroke="#e04090" stroke-width="0.40" stroke-opacity="0.60"/>
<path d="M30.9 221.5l22-9.6 14-5.5 13-4 14-3.2 15-2.1 19-1.6 23-1.1 32-.7 1 .1 1 .6 2 3.5 6 17.3 2 4.4 1 1.3 1 .6 6 0" stroke="#40c060" stroke-width="0.45" stroke-opacity="0.75"/>
<path d="M28.5 222.4l16-21.4 7-8.4 4-3.9 4-3 4-2.3 4-1.7 7-2 8-1.4 46-5.4 31-4.5 26-4.7 31.7-6.8 1.8-15.8 1-5.8 1-3.8 1.2-3 1.6-2 1.7-1.2 2.3-.7" stroke="#f070b0" stroke-width="0.55" stroke-opacity="0.90"/>
<path d="M31.3 221.5l24-10 14-5.2 14-4.1 15-3.1 17-2.2 21-1.6 23-1 49-1.4 1-.3 1-.6 2-2.3 2-3.5 2-4.6.9 0 1.6-29.1 1-11.2 1-6.7 1-4.1 1.4-3.3 1.8-1.8 2.8-.9" stroke="#3050e0" stroke-width="0.40" stroke-opacity="0.60"/>
<path d="M31.3 221.5l24-10 14-5.2 14-4.1 15-3.1 17-2.2 22-1.7 29-1.2 42-1.1 1 1.4 1 3.6 4 20.4 1 2.7 1 .5" stroke="#40c060" stroke-width="0.45" stroke-opacity="0.75"/>
<path d="M35.3 221.5l36-8.3 12-2.3 15-2.5 2-2 2-3.5 8-18.9 2-3.2 1-1.1 1-.6 54-4.5 48.7-5.4 1.8-22.9 1-8.1 1-5.1 1.2-3.8 1.5-2.5 1.7-1.4 2.6-.8" stroke="#e03030" stroke-width="0.40" stroke-opacity="0.60"/>
<path d="M35.3 221.5l37-8.5 13-2.5 12-1.8 1 .1 1 .8 2 3.2 3 6 1 1.5 1 1 6 .2" stroke="#f070b0" stroke-width="0.45" stroke-opacity="0.75"/>
<path d="M28.5 221.9l18-19.3 9-8.5 5-3.8 4-2.5 5-2.3 5-1.8 8-1.8 10-1.4 71-6.6 25-2.9 28.5-3.8 1.5-21.7 1-8.3 1-5.1 1.3-3.6 1.4-2.3 1.8-1.2 2.8-.6" stroke="#c03060" stroke-width="0.55" stroke-opacity="0.90"/>
<path d="M30.4 221.5l28-11.3 11-3.8 10-3 2-1 3-2.2 3-3 12-14.7 4-4.5 4-3.5 3-1.6 2-.6 30-4.4 23-4.2 24-5.2 27.6-6.8 1.8-14.1 1-4.9 1-3.1 1.2-2.4 1.5-1.5 1.7-.8 2.6-.5" stroke="#c03060" stroke-width="0.40" stroke-opacity="0.60"/>
<path d="M30.4 221.5l30-12 11-3.8 8-2.1 1 .4 2 2.3 6 11.5 2 2.8 1 .8 1 .1 5 0" stroke="#e03030" stroke-width="0.45" stroke-opacity="0.75"/>
<path d="M28.5 221.8l16-21.7 7-8.4 4-3.9 4-3.1 4-2.3 4-1.7 6-1.7 8-1.4 46-5.5 31-4.6 27-5 31.7-6.9 1.8-16.4 1.8-8.5 1.2-2.9 1.2-1.6 1.8-1.1 2.8-.7" stroke="#2020b0" stroke-width="0.55" stroke-opacity="0.90"/>
<path d="M34.4 221.5l31-8.6 11-2.6 10-2 10-1.6 10-1.3 14-1.2 17-1 2-.7 3-2.2 4-4.6 4-6.2 11-18.9 4-5.4 3-2.7 2-1 20-4.6 26-7 .8 0 1.8-12.9 1-4.4 1-2.9 1.2-2.2 1.6-1.6 1.7-.9 2.3-.5" stroke="#f070b0" stroke-width="0.40" stroke-opacity="0.60"/>
<path d="M34.4 221.5l32-8.8 11-2.6 10-2 11-1.7 11-1.3 13-1.1 14-.7 1 0 1 .6 2 2.4 6 11.4 2 2.8 1 .7 1 .3 5 0" stroke="#f09030" stroke-width="0.45" stroke-opacity="0.75"/>
<path d="M28.5 222.6l14-21.1 7-9.6 3-3.4 3-2.8 3-2.3 4-2.3 6-2.2 8-1.7 47-6.3 17-2.7 16-3 29-6.4 31.5-8.2 2-13.4 2-6.8 1.2-2.3 1.6-1.7 1.7-1.1 2.3-.6" stroke="#208080" stroke-width="0.55" stroke-opacity="0.90"/>
<path d="M31.3 221.5l21-8.2 12-4.3 12-3.7 11-2.7 13-2.3 14-1.7 16-1.2 21-1.1 1-.7 2-3.4 5-14 2-4.3 1-1.1 1-.4 24-3 29.7-4.4 1.5-19.7 1-7.7 1-4.9 1.3-3.7 1.4-2.4 2-1.4 2.6-.7" stroke="#f09030" stroke-width="0.40" stroke-opacity="0.60"/>
<path d="M31.3 221.5l21-8.2 12-4.3 12-3.7 11-2.7 13-2.3 14-1.7 17-1.3 20-1 1 1.1 1 2.4 4 15.4 2 5.5 1 .8 5 0" stroke="#3050e0" stroke-width="0.45" stroke-opacity="0.75"/>
<path d="M30.1 221.5l21-9 13-5.1 12-3.9 12-2.9 13-2.2 15-1.7 19-1.2 26-.9 1-.3 1-.9 2-2.8 7-14.6 2-3 1-1 1-.4 41.1-5.5.3-.5 1.5-21.2 1.8-11.5 1.2-3.9 1.2-2.2 1.8-1.5 2.8-.8" stroke="#d040d0" stroke-width="0.40" stroke-opacity="0.60"/>
<path d="M30.1 221.5l21-9 13-5.1 12-3.9 12-2.9 13-2.2 16-1.8 19-1.1 24-.8 1 0 1 .9 1 2.1 5 17.7 2 5.1 1 1 6 0" stroke="#4090e0" stroke-width="0.45" stroke-opacity="0.75"/>
<path d="M28.5 222.1l16-22.6 7-8.7 4-3.9 3-2.3 4-2.4 4-1.7 6-1.8 8-1.4 45-5.6 31-4.9 28-5.5 32.7-7.6 1.6-15.8.7-4.7 1-3.9 1-2.2 1.5-1.7 2-.8 2.8-.3" stroke="#d040d0" stroke-width="0.55" stroke-opacity="0.90"/>
<path d="M35.1 221.5l31-7.7 21-4.5 2-1.6 3-4.7 7-15.2 3-5.8 3-4 2-1.1 30-3 25-3 24-3.5 30-5.1 1.1 0 1.8-18.8 1-6.2 1-4.3 1.2-3.4 1.6-2.4 1.7-1.5 2.3-.9" stroke="#3050e0" stroke-width="0.40" stroke-opacity="0.60"/>
<path d="M35.1 221.5l33-8.2 12-2.6 7-1.2 1 .5 2 1.9 5 7.4 2 1.9 1 .3 6 0" stroke="#60b030" stroke-width="0.45" stroke-opacity="0.75"/>
<path d="M28.5 221.5l14-20.8 7-9.4 3-3.3 3-2.9 3-2.3 4-2.3 6-2.3 9-1.9 47-6.1 17-2.7 16-2.9 28-6 31.5-8 .2-.4 1.8-13.1 1-4.3 1-2.8 1.2-2.3 1.6-1.6 1.7-1 2.3-.5" stroke="#60b030" stroke-width="0.55" stroke-opacity="0.90"/>
<path d="M30.3 221.5l23-9.6 14-5.2 14-4.1 14-2.9 15-2 19-1.5 27-1 38-.8 2-.5 2-1.1 3-2.7 3-3.5 10-13.6 2-2.2.9 0 1.6-24.1.7-6.9 1-6 1.3-4.4 1.4-2.7 1.8-1.4 2.8-.8" stroke="#30a030" stroke-width="0.40" stroke-opacity="0.60"/>
<path d="M30.3 221.5l23-9.6 14-5.2 14-4.1 14-2.9 16-2.1 20-1.5 26-1 36-.6 1 0 1 1 1 2 2 6 3 10.6 2 5.4 1 1.6 1 .4 5 0" stroke="#8040c0" stroke-width="0.45" stroke-opacity="0.75"/>
<path d="M28.5 220.6l14-20.5 7-9.4 3-3.3 3-2.9 3-2.3 4-2.3 6-2.3 9-2 48-6.2 17-2.7 16-2.9 28-5.9 30.5-7.7 1.8-14.8.7-3.7 1-3.1 1-1.8 1.5-1.4 2-.8 2.8-.3" stroke="#60b030" stroke-width="0.55" stroke-opacity="0.90"/>
<path d="M33.2 221.5l22-8.3 14-4.7 13-3.7 12-2.5 14-2 16-1.5 20-1 27-.8 2-.4 3-2.2 2-2.4 2-3.2 4-7.8 9-19.6 4-6.7 2-2.2 2-1.1 15-4.6 1.3 0 1.5-11.9.8-3.4 1-2.9 1-1.7 1.4-1.4 1.8-.8 2.8-.4" stroke="#20a0a0" stroke-width="0.40" stroke-opacity="0.60"/>
<path d="M33.2 221.5l22-8.3 14-4.7 13-3.7 12-2.5 14-2 17-1.5 20-1.1 26-.7 1 .1 1 1.7 1 2.8 3 12 2 6.4 1 1.4 6 .1" stroke="#9060e0" stroke-width="0.45" stroke-opacity="0.75"/>
<path d="M32.8 221.5l28-9.3 19-5.3 2-2.3 2-4 8-21.4 2-3.7 1-1.3 1-.7 33-4.6 29-5.2 29-6.6 30.2-8.1 1.8-13.7 1.7-6.4 1.3-2.2 1.4-1.3 1.8-.7 2.8-.4" stroke="#60b030" stroke-width="0.40" stroke-opacity="0.60"/>
<path d="M32.8 221.5l29-9.6 10-2.9 8-2 1 .2 2 1.6 2 2.6 5 7.7 2 2 1 .4 6 0" stroke="#2020b0" stroke-width="0.45" stroke-opacity="0.75"/>
<path d="M28.5 222.1l14-22.6 6-8.8 3-3.6 3-3 3-2.4 4-2.3 6-2.2 7-1.6 45-6.3 17-3 16-3.2 16-3.7 15-3.8 33.5-9.8 1.8-10.2 2-6.1 1.2-2 1.5-1.4 1.7-.9 2.6-.6" stroke="#20a0a0" stroke-width="0.55" stroke-opacity="0.90"/>
<path d="M31.9 221.5l24-9 14-4.6 13-3.6 14-2.7 14-1.9 17-1.5 27-1.5 39-1.2 3-1 3-2.3 4-4.5 11-16.5 2-2.7.3 0 2-22 1-7 1-4.8 1.3-3.9 1.3-2.5 1.7-2 2.3-1.2" stroke="#f09030" stroke-width="0.40" stroke-opacity="0.60"/>
<path d="M31.9 221.5l24-9 14-4.6 14-3.8 14-2.7 16-2 19-1.6 25-1.2 35-1.1 1 .2 1 2 1 3.6 3 14.3 1 3.7 1 2 6 .2" stroke="#30b0d0" stroke-width="0.45" stroke-opacity="0.75"/>
<path d="M28.5 220.7l19-19.9 9-8.2 5-3.6 4-2.4 5-2.2 5-1.7 8-1.8 11-1.5 70-6.2 25-2.8 27.5-3.5.2-.7 1.8-22.1 1.8-10.5 1.2-3.9 1.5-2.6 1.7-1.5 2.6-.9" stroke="#f070b0" stroke-width="0.55" stroke-opacity="0.90"/>
<path d="M35.7 221.5l23-6.2 14-3.5 13-2.7 13-2.1 14-1.6 16-1.1 17-.8 29-.8 1-.7 1-1.3 3-6.5 8-26.6 2-5.8 2-4.3 1-1.4 1-.8 23.3-6.4 1.5-13.2.7-3.8 1-3.1 1.3-2.2 1.5-1.3 2-.7 2.8-.3" stroke="#3050e0" stroke-width="0.40" stroke-opacity="0.60"/>
<path d="M35.7 221.5l23-6.2 14-3.5 13-2.7 13-2.1 15-1.7 16-1.1 19-.8 25-.6 1 .1 1 .9 1 1.6 5 11.8 2 3.4 1 .8 6 .1" stroke="#60b030" stroke-width="0.45" stroke-opacity="0.75"/>
<path d="M28.5 220.9l14-21.6 6-8.5 3-3.6 3-3 3-2.4 4-2.5 6-2.3 8-1.8 47-6.4 17-2.8 16-3.1 29-6.6 32.5-8.9 1.8-13.5.7-3.3 1-2.7 1-1.6 1.5-1.2 2-.6 2.8-.3" stroke="#30a030" stroke-width="0.55" stroke-opacity="0.90"/>
<path d="M31.8 221.5l20-8.5 12-4.7 11-3.7 11-2.9 11-2.2 13-1.9 13-1.2 22-1.2 1-.3 1-.8 2-2.8 8-17.5 2-2.9 1-.8 29-4.7 28.4-5.2.3-.7 1.5-18 1.8-9.8 1.2-3.3 1.2-1.9 1.8-1.3 2.8-.7" stroke="#8040c0" stroke-width="0.40" stroke-opacity="0.60"/>
<path d="M31.8 221.5l20-8.5 12-4.7 11-3.7 11-2.9 12-2.4 13-1.8 15-1.3 19-1 1 .3 1 1 1 1.8 2 4.9 4 11.6 2 4.5 1 1.5 1 .7 6 0" stroke="#9060e0" stroke-width="0.45" stroke-opacity="0.75"/>
<path d="M36.1 221.5l30-6.8 18-3.6 17-2.5 22-2.4 2-1.5 3-4.5 3-6.3 8-19.1 3-5.3 2-2.2 2-.8 18-3.5 18-3.9 17-4.2 17-4.6 1.4 0 1.5-12.8 1-4.8 1-3.1 1.2-2.3 1.3-1.3 1.7-1 2.6-.6" stroke="#3050e0" stroke-width="0.40" stroke-opacity="0.60"/>
<path d="M36.1 221.5l30-6.8 18-3.6 18-2.7 20-1.9 1 .2 2 2.3 5 9.6 2 2.5 1 .4 6 0" stroke="#60b030" stroke-width="0.45" stroke-opacity="0.75"/>
<path d="M28.5 221.9l19-18.6 10-8.6 5-3.5 5-2.8 5-2.1 5-1.6 9-1.9 12-1.5 69-5.5 49.5-5 1.8-23.3 1-7.9 1-5.2 1.2-4.1 1.5-2.8 1.7-1.7 2.6-1.1" stroke="#e03030" stroke-width="0.55" stroke-opacity="0.90"/>
<path d="M32.8 221.5l30-10.2 10-2.9 9-2.2 10-2 10-1.5 24-2.4 2-1.1 3-3.2 3-4.6 9-16 3-4 2-1.7 2-.7 18-2.9 18-3.4 31.2-6.7 1.8-16.7 1.7-8.1 1.3-3 1.4-2 2-1.2 2.6-.5" stroke="#3050e0" stroke-width="0.40" stroke-opacity="0.60"/>
<path d="M32.8 221.5l29-9.8 10-3 9-2.3 10-2 10-1.6 11-1.3 13-1 1 .2 1 .9 1 1.5 2 4.1 4 9.6 2 3.5 1 .9 1 .3 5 0" stroke="#60b030" stroke-width="0.45" stroke-opacity="0.75"/>
<path d="M28.5 222.5l14-21 7-9.5 3-3.4 3-2.9 3-2.2 4-2.3 6-2.2 8-1.8 47-6.2 17-2.7 16-3 28-6.1 16-4.1 16-4.4.7 0 .3-.4 1.5-15.1 1.5-6.4 1-2 1.5-1.5 1.8-.7 3-.3" stroke="#3050e0" stroke-width="0.55" stroke-opacity="0.90"/>
<path d="M34.5 221.5l36-8 23-3.9 12-1.4 13-1.2 33-1.7 1-.5 1-1.2 2-3.7 2-5.3 6-18.5 2-4.7 2-2.8 1-.5 22-3.7 26.5-5.1 1.5-17.5 1-6.8 1-4.2 1.3-3 1.4-1.9 1.8-1 2.8-.5" stroke="#4090e0" stroke-width="0.40" stroke-opacity="0.60"/>
<path d="M34.5 221.5l36-8 23-3.9 12-1.4 13-1.2 32-1.7 1 0 1 1.1 1 2.2 3 9.2 1 2.4 1 1.2 6 .1" stroke="#3050e0" stroke-width="0.45" stroke-opacity="0.75"/>
<path d="M28.5 220.8l18-19.3 9-8.5 5-3.8 4-2.5 5-2.4 5-1.7 8-1.8 10-1.5 70-6.4 25-2.9 29.7-4 1.6-22.8.7-6.5 1-5.3 1-3.1 1.5-2.3 2-1.2 2.8-.5" stroke="#60b030" stroke-width="0.55" stroke-opacity="0.90"/>
<path d="M33.4 221.5l21-7.2 12-3.8 12-3.2 11-2.4 11-1.8 12-1.4 18-1.3 24-.9 3-1.1 3-2.3 3-3.4 4-5.7 11-17.4 3-3.7 3-2.6 2-.9 30.6-6.6 1.5-15.8 1-5.9 1-3.6 1.3-2.8 1.4-1.8 1.8-.9 2.8-.6" stroke="#d040d0" stroke-width="0.40" stroke-opacity="0.60"/>
<path d="M33.4 221.5l21-7.2 13-4.1 12-3.2 11-2.3 13-2 14-1.4 16-1 20-.8 1 0 1 .6 2 2.6 6 13.3 2 3.6 1 1.1 1 .7 6 .1" stroke="#c03060" stroke-width="0.45" stroke-opacity="0.75"/>
<path d="M32.8 221.5l31-10.3 11-3.2 10-2.3 11-2.1 11-1.5 13-1.3 17-1.1 1-.3 2-1.5 3-3.7 3-5.2 6-12 3-5.3 3-4 2-1.4 29-5.9 28.2-6.6 1.8-14.5 1-5.1 1-3.4 1.2-2.7 1.5-1.8 1.7-1.1 2.6-.7" stroke="#e03030" stroke-width="0.40" stroke-opacity="0.60"/>
<path d="M32.8 221.5l31-10.3 11-3.2 10-2.3 11-2.1 12-1.6 13-1.3 15-.9 1 .1 1 1.5 1 3 3 11.9 1 3.1 1 1.9 1 .2 5 0" stroke="#f070b0" stroke-width="0.45" stroke-opacity="0.75"/>
<path d="M28.5 222.2l14-21.1 7-9.6 3-3.4 3-2.8 3-2.3 4-2.3 6-2.2 8-1.7 47-6.2 17-2.8 16-3 29-6.4 31.7-8.3 1.6-11.8 1-4.7 1-3.1 1.2-2.5 1.5-1.7 1.7-1.1 2.6-.6" stroke="#9060e0" stroke-width="0.55" stroke-opacity="0.90"/>
<path d="M33.6 221.5l27-8.4 20-5.2 1-.4 2-1.6 3-3.7 9-15.3 3-4.6 3-3.4 2-1.3 1-.3 32-3.2 26-3.1 26-3.8 28.4-4.7.2-.4 1.8-20.6 1.8-9.4 1.2-3.4 1.5-2.2 1.7-1.3 2.6-.7" stroke="#60b030" stroke-width="0.40" stroke-opacity="0.60"/>
<path d="M33.6 221.5l29-9 11-2.9 7-1.6 1 .6 1 1.3 4 8.4 2 2.9 1 .3 5 0" stroke="#20a0a0" stroke-width="0.45" stroke-opacity="0.75"/>
<path d="M28.5 222.1l17-20.9 8-8.6 4-3.4 4-2.8 4-2.2 5-1.9 7-1.8 9-1.5 48-5.1 30-3.8 24-3.8 29-5.3 1.5-17.2 1-6.7 1-4.5 1.2-3.4 1.3-2.1 1.7-1.5 2.6-.9" stroke="#30a030" stroke-width="0.55" stroke-opacity="0.90"/>
<path d="M34.8 221.5l31-7.1 20-3.8 20-2.7 24-2 2-1.1 3-3.1 3-4.4 9-15.3 3-3.8 2-1.6 1-.5 35-3.6 29.2-3.4 1.8-22.3 1-7.5 1-5 1.2-4 1.5-2.7 1.7-1.7 2.6-1.1" stroke="#f09030" stroke-width="0.40" stroke-opacity="0.60"/>
<path d="M34.8 221.5l31-7.1 20-3.8 20-2.7 23-1.8 1 .2 2 2.5 4 8.3 2 3.3 1 .9 1 .2 5 0" stroke="#4090e0" stroke-width="0.45" stroke-opacity="0.75"/>
<path d="M28.5 220.4l16-21 8-9.3 4-3.6 4-2.9 4-2.2 4-1.6 7-1.9 8-1.3 46-5.3 31-4.4 27-4.8 29.5-6.1 1.8-16.7 1.7-8.3 1.3-3 1.4-1.9 2-1.1 2.6-.6" stroke="#d040d0" stroke-width="0.55" stroke-opacity="0.90"/>
<path d="M36.1 221.5l25-5.8 15-3.2 15-2.6 14-1.8 16-1.5 18-1.1 23-.8 29-.7 1-1.2 1-3.4 2-11.8 4-27.8 1-4.4 1-2.3 15-4.3.9 0 1.5-13.3.7-3.9 1-3.1 1-1.9 1.6-1.4 2-.7 3-.3" stroke="#8040c0" stroke-width="0.40" stroke-opacity="0.60"/>
<path d="M36.1 221.5l25-5.8 15-3.2 15-2.6 14-1.8 16-1.5 18-1.1 23-.8 29-.7 1 .2 2 2.1 6 11.6 2 2.7 1 .8 1 .1 5 0" stroke="#60b030" stroke-width="0.45" stroke-opacity="0.75"/>
<path d="M32.1 221.5l23-8.7 14-4.7 13-3.5 14-2.8 14-1.8 17-1.3 25-1.1 34-.6 2-.6 2-1.9 2-3 3-5.8 6-12.8 2-3.6 2-2.6 2-1.3 10.1-1.6.3-.4 1.5-21 .8-5.9 1-4.9 1-3 1.4-2.4 1.8-1.2 2.8-.6" stroke="#30a030" stroke-width="0.40" stroke-opacity="0.60"/>
<path d="M32.1 221.5l23-8.7 14-4.7 13-3.5 14-2.8 16-2 18-1.3 24-.9 32-.6 1 .6 1 2 4 15.1 2 5.8 1 1 6 0" stroke="#8040c0" stroke-width="0.45" stroke-opacity="0.75"/>
<path d="M28.5 221.6l16-20.8 8-9.2 4-3.6 4-2.9 4-2.2 4-1.7 7-1.9 8-1.4 47-5.3 31-4.3 25-4.3 30.7-6.2 1.8-15.9 1-6 1-3.9 1.2-3.1 1.6-2.2 1.7-1.3 2.3-.7" stroke="#e04090" stroke-width="0.55" stroke-opacity="0.90"/>
<path d="M34.8 221.5l37-9.8 13-2.8 13-2.1 14-1.8 15-1.3 20-1.1 27-1 2-.4 3-2.4 3-4.1 3-5.4 8-16.1 3-5 2-2.6 2-1.6 1-.5 16.2-3.1 1.8-17.6 1-6.3 1-4.2 1.2-3.3 1.5-2.2 1.7-1.4 2.6-.8" stroke="#208080" stroke-width="0.40" stroke-opacity="0.60"/>
<path d="M34.8 221.5l37-9.8 13-2.8 13-2.1 14-1.8 17-1.4 20-1.1 25-.9 1 .3 1 1.7 4 13.4 1 2.8 1 1.5 6 .2" stroke="#208080" stroke-width="0.45" stroke-opacity="0.75"/>
<path d="M28.5 220.6l17-21.5 8-8.8 4-3.4 4-2.8 4-2.1 4-1.5 7-1.9 9-1.4 47-5.2 30-4.1 26-4.3 28.5-5.5.2-.4 1.6-17.2 1-6.2 1-3.8 1.2-2.9 1.2-1.5 1.8-1.1 2.8-.6" stroke="#f09030" stroke-width="0.55" stroke-opacity="0.90"/>
<path d="M36.2 221.5l27-7.1 15-3.5 14-2.7 18-2.7 2-1.1 3-2.9 3-3.9 10-14.9 3-3.3 3-2 2-.4 43-4.1 37.8-4.4.2-.9 1.6-23 .7-6.4 1-5.5 1.3-4 1.4-2.4 1.8-1.2 2.8-.7" stroke="#e04090" stroke-width="0.40" stroke-opacity="0.60"/>
<path d="M36.2 221.5l27-7.1 15-3.5 16-3 15-2 1 1.2 1 2.4 3 9.5 1 2 1 .5 5 0" stroke="#208080" stroke-width="0.45" stroke-opacity="0.75"/>
<path d="M28.5 220.5l16-21.4 7-8.3 4-3.9 4-3.1 4-2.3 4-1.7 7-1.9 8-1.4 46-5.4 31-4.6 27-4.9 30.5-6.5 1.8-15.5 1-5.1 1-3.4 1.2-2.8 1.5-1.9 1.7-1.1 2.6-.7" stroke="#c03060" stroke-width="0.55" stroke-opacity="0.90"/>
<path d="M35.6 221.5l25-7 15-3.7 13-2.7 17-2.6 1-1.6 1-2.7 6-23.7 1-2.3 1-1.1 26-3.2 25-3.8 24-4.4 26.4-5.5.2-.1 1.6-17.5.7-4.9 1-4.2 1-2.5 1.5-2 2-1.2 2.8-.5" stroke="#f09030" stroke-width="0.40" stroke-opacity="0.60"/>
<path d="M35.6 221.5l25-7 15-3.7 14-2.8 15-2.2 1 0 1 1.1 1 2 3 8.4 1 2.3 1 1.5 1 .4 5 0" stroke="#8040c0" stroke-width="0.45" stroke-opacity="0.75"/>
<path d="M32.7 221.5l28-11 9-3.2 9-2.7 8-2 9-1.8 11-1.7 12-1.3 3-.8 3-1.9 4-3.5 10-11.4 4-4.2 3-2.4 3-1.6 35-5.2 33.5-5.9 1.8-18.6 1-6.2 1-4.1 1.2-3.2 1.3-1.9 1.7-1.4 2.6-.9" stroke="#60b030" stroke-width="0.40" stroke-opacity="0.60"/>
<path d="M32.7 221.5l28-11 9-3.2 9-2.7 9-2.2 10-1.9 10-1.5 11-1.2 1 .5 2 3.4 5 14.4 2 4.3 1 1 6 .1" stroke="#40c060" stroke-width="0.45" stroke-opacity="0.75"/>
<path d="M28.5 220.9l14-21.8 6-8.6 3-3.6 3-3 3-2.4 4-2.4 6-2.3 8-1.8 46-6.3 17-2.9 16-3.1 30-7 32.5-9 1.8-11.3 1-3.8 1-2.5 1.2-2 1.5-1.3 1.7-.9 2.6-.4" stroke="#e03030" stroke-width="0.55" stroke-opacity="0.90"/>
<path d="M34.8 221.5l31-8.8 11-2.7 10-2 10-1.7 10-1.3 13-1.2 16-.9 2-.6 3-2.7 3-4.4 3-5.7 9-18.8 3-4.9 2-2.4 2-1.3 27-6.5 27.2-7.6 1.8-13.6.7-3.4 1-2.8 1-1.7 1.5-1.3 2-.7 2.8-.2" stroke="#60b030" stroke-width="0.40" stroke-opacity="0.60"/>
<path d="M34.8 221.5l31-8.8 11-2.7 10-2 11-1.8 11-1.4 13-1.1 14-.8 1 .2 2 2.1 6 12.2 2 3.1 1 .8 1 .2 5 0" stroke="#30a030" stroke-width="0.45" stroke-opacity="0.75"/>
<path d="M28.5 222.5l17-19.4 9-9.2 5-4 4-2.5 4-2 5-1.8 7-1.7 9-1.4 48-4.8 23-2.5 26-3.5 31.7-4.9 1.8-22.7.8-5.6 1-4.9 1-2.9 1.4-2.4 1.8-1.3 2.8-.6" stroke="#e03030" stroke-width="0.55" stroke-opacity="0.90"/>
<path d="M32.1 221.5l31-11.6 11-3.5 10-2.6 11-2.2 11-1.7 14-1.5 17-1.2 1-.4 2-2.3 2-3.6 7-17.2 2-4.1 2-2.7 1-.7 29-5.9 17-4 16-4.1 1.1 0 1.8-12.9 2-7.9 1.2-2.7 1.6-1.9 1.7-1.3 2.3-.7" stroke="#e03030" stroke-width="0.40" stroke-opacity="0.60"/>
<path d="M32.1 221.5l31-11.6 11-3.5 10-2.6 11-2.2 12-1.8 14-1.5 16-1.1 1 1 1 2 5 16.8 1 2.6 1 1.5 1 .4 5 0" stroke="#f09030" stroke-width="0.45" stroke-opacity="0.75"/>
<path d="M28.5 221.4l16-21.9 7-8.5 4-3.9 4-3 4-2.3 4-1.6 6-1.7 8-1.5 46-5.5 30-4.5 28-5.3 31.5-7 1.5-16.5.7-4.9 1-4 1-2.3 1.6-1.6 2-.8 3-.4" stroke="#e04090" stroke-width="0.55" stroke-opacity="0.90"/>
<path d="M30.5 221.5l26-11 16-5.8 8-2.4 8-1.9 20-3.4 2-1.3 3-3.1 11-15.9 3-3.2 2-1.3 26-3.9 18-3.1 19-3.7 24.7-5.2.3-.5 1.7-15.9 1.8-7.9 1.2-3.1 1.6-2.1 1.7-1.3 2.3-.8" stroke="#f09030" stroke-width="0.40" stroke-opacity="0.60"/>
<path d="M30.5 221.5l26-11 9-3.5 8-2.7 8-2.2 9-2.1 9-1.6 8-1 1 1.3 1 2.8 3 12.4 2 6.4 1 1.2 6 0" stroke="#30b0d0" stroke-width="0.45" stroke-opacity="0.75"/>
<path d="M32.6 221.5l25-9.8 15-5.1 14-3.7 17-3 1-.4 2-1.9 2-3.1 8-15.8 2-3 2-1.7 29-4 21-3.2 22-4 24.4-5 1.8-16.7 1-6 1-3.8 1.2-3 1.5-2 1.7-1.1 2.6-.7" stroke="#4090e0" stroke-width="0.40" stroke-opacity="0.60"/>
<path d="M32.6 221.5l25-9.8 15-5.1 15-3.9 16-2.7 1 .8 1 1.9 4 12.9 2 5 1 .9 6 0" stroke="#c03060" stroke-width="0.45" stroke-opacity="0.75"/>
<path d="M28.5 221.8l17-19.7 9-9.2 5-4 4-2.5 4-2 5-1.8 7-1.7 10-1.5 49-4.9 29-3.4 22-3.2 27.7-4.4 1.6-19.7 1-7.6 1-4.6 1.2-3.4 1.2-1.8 1.8-1.3 2.8-.7" stroke="#d040d0" stroke-width="0.55" stroke-opacity="0.90"/>
<path d="M32.2 221.5l25-10.2 15-5.3 14-3.8 16-3 2-.6 3-1.6 3-2.3 14-13.1 4-2.7 3-1.2 45-4.2 40.8-4.7 2-22.8 1-7 1-4.8 1.2-3.9 1.6-2.7 1.7-1.7 2.3-1" stroke="#9060e0" stroke-width="0.40" stroke-opacity="0.60"/>
<path d="M32.2 221.5l24-9.8 15-5.3 15-4.2 15-2.8 1 .3 1 2.2 4 16.9 1 2.3 1 .4 5 0" stroke="#30b0d0" stroke-width="0.45" stroke-opacity="0.75"/>
<path d="M28.5 220.7l16-21.1 8-9.3 4-3.6 4-2.9 4-2.2 4-1.6 7-1.9 8-1.3 46-5.3 30-4.3 27-4.7 30.5-6.4 1.5-17.5.7-4.7 1-4 1.3-2.8 1.5-1.6 2-.9 2.8-.3" stroke="#2020b0" stroke-width="0.55" stroke-opacity="0.90"/>
<path d="M34.6 221.5l26-5.6 16-3.2 15-2.4 15-1.8 18-1.6 21-1.1 62-1.6 3-.9 3-2.4 3-3.6.6 0 1.8-42.1.8-10.4 1-8.6 1-5.1 1.4-3.8 1.8-1.9 2.8-1" stroke="#f09030" stroke-width="0.40" stroke-opacity="0.60"/>
<path d="M34.6 221.5l27-5.8 16-3.2 15-2.4 15-1.7 17-1.5 21-1.1 62-1.6 1 .5 1 1.4 5 12 1 1.9 1 1.2" stroke="#208080" stroke-width="0.45" stroke-opacity="0.75"/>
<path d="M28.5 222.1l17-21.3 8-8.8 4-3.5 4-2.7 4-2.1 4-1.6 7-1.9 9-1.4 47-5.2 30-4 25-4.1 30-5.7 1.5-16.9 1-6.6 1-4.2 1.2-3.3 1.3-1.9 1.7-1.4 2.6-.9" stroke="#e04090" stroke-width="0.55" stroke-opacity="0.90"/>
<path d="M33.9 221.5l22-7 13-3.8 12-3 13-2.6 2-1.9 2-3.2 2-4.4 8-19.6 2-3.5 2-2.1 1-.3 29-5 24-5.1 25-6.4 26.1-7.7 1.8-12.8.7-3.1 1-2.5 1-1.4 1.5-1.1 1.8-.5 3-.3" stroke="#4090e0" stroke-width="0.40" stroke-opacity="0.60"/>
<path d="M33.9 221.5l22-7 13-3.8 12-3 12-2.4 1 .1 1 1.3 1 2.1 3 8.7 1 2.3 1 1.4 1 .3 5 0" stroke="#f070b0" stroke-width="0.45" stroke-opacity="0.75"/>
<path d="M33.8 221.5l30-8.7 19-4.5 18-3.1 12-1.4 14-1.1 2-.7 3-2.6 3-4 4-6.9 9-17.1 3-4.5 3-3.2 2-1 30-7.2 31.4-8.9 1.8-10.9 1-3.8 1-2.6 1.2-2 1.6-1.4 1.7-.9 2.3-.5" stroke="#e04090" stroke-width="0.40" stroke-opacity="0.60"/>
<path d="M33.8 221.5l31-8.9 19-4.5 10-1.8 10-1.5 23-2.1 1 .6 2 3.3 4 10.3 2 3.7 1 .8 6 .1" stroke="#20a0a0" stroke-width="0.45" stroke-opacity="0.75"/>
<path d="M28.5 222.1l18-19.7 9-8.6 5-3.9 4-2.4 4-1.9 5-1.8 7-1.7 10-1.5 71-6.9 26-3.1 29.5-4.2 1.8-24.7.7-6 1-5 1-2.8 1.5-2.1 1.8-1 3-.5" stroke="#2020b0" stroke-width="0.55" stroke-opacity="0.90"/>
<path d="M33.7 221.5l25-6.8 15-3.7 14-2.8 15-2.1 16-1.6 19-1.1 27-.9 37-.6 2-.5 2-1.7 3-4.8 3-6.8 5-14.1.5 0 1.8-25.3 1-8.5 1-5.6 1.2-4.3 1.3-2.5 1.7-1.9 2.6-1.1" stroke="#40c060" stroke-width="0.40" stroke-opacity="0.60"/>
<path d="M33.7 221.5l25-6.8 15-3.7 15-2.9 15-2.2 17-1.5 20-1.1 26-.8 35-.6 1 .1 1 .8 1 1.6 5 12.4 2 3.7 1 .9 4 .1" stroke="#30a030" stroke-width="0.45" stroke-opacity="0.75"/>
<path d="M28.5 221.7l18-19.6 9-8.6 5-3.8 4-2.4 5-2.4 5-1.7 7-1.6 10-1.5 71-6.7 26-3.2 28.5-4 1.8-22.5 1.7-10.9 1.3-3.8 1.4-2.4 1.8-1.4 2.8-.7" stroke="#20a0a0" stroke-width="0.55" stroke-opacity="0.90"/>
<path d="M33.4 221.5l34-8.9 12-2.6 11-2 12-1.7 13-1.3 33-2.1 1-1.2 2-5.3 5-17.9 1-2.2 1-1.2 29-3.1 29.6-3.6.2-.3 1.8-21.1 1-7.2 1-4.9 1.2-4 1.6-2.9 1.7-1.8 2.3-1.2" stroke="#e03030" stroke-width="0.40" stroke-opacity="0.60"/>
<path d="M33.4 221.5l34-8.9 12-2.6 11-2 12-1.7 13-1.3 15-1.1 17-.8 1 .1 1 1.5 4 13.4 1 2.5 1 .9 6 0" stroke="#3050e0" stroke-width="0.45" stroke-opacity="0.75"/>
<path d="M28.5 222.2l14-22.3 6-8.7 3-3.6 3-3 3-2.4 4-2.4 6-2.2 7-1.6 46-6.4 17-2.9 16-3.2 15-3.4 15-3.8 17-4.7 16-4.9.7 0 1.6-10.3 1-4.2 1-2.7 1.2-2.1 1.5-1.5 1.7-.9 2.6-.5" stroke="#60b030" stroke-width="0.55" stroke-opacity="0.90"/>
<path d="M29.9 221.5l21-9 13-5.1 13-4.1 12-2.9 13-2.2 15-1.6 16-1.1 28-1 2-.3 3-2.1 3-3.8 3-4.9 8-14.3 3-4.2 2-1.9 2-.9 30.1-6.6 1.5-16.9.7-5 1-4 1-2.3 1.6-1.8 2-.9 3-.3" stroke="#9060e0" stroke-width="0.40" stroke-opacity="0.60"/>
<path d="M29.9 221.5l21-9 13-5.1 12-3.8 12-3 13-2.2 16-1.8 19-1.2 25-.9 1 .1 1 1 1 2 6 19.1 2 4.1 1 .7 6 0" stroke="#8040c0" stroke-width="0.45" stroke-opacity="0.75"/>
<path d="M33.1 221.5l23-7.1 13-3.7 12-3 12-2.3 12-1.7 14-1.4 20-1.4 27-1.1 2-.7 3-2.3 4-5.3 4-6.8 9-16.8 3-4.6 3-3.3 2-1.3 1-.3 19-4.6.9 0 1.5-16.3.7-4.6 1-3.8 1-2.1 1.6-1.6 2-.8 3-.3" stroke="#30a030" stroke-width="0.40" stroke-opacity="0.60"/>
<path d="M33.1 221.5l23-7.1 13-3.7 13-3.2 12-2.2 14-1.9 15-1.4 19-1.2 23-.9 1 .1 1 1.1 1 2.1 4 12.3 2 4.8 1 1.1 6 .1" stroke="#3050e0" stroke-width="0.45" stroke-opacity="0.75"/>
<path d="M28.5 222.7l16-21.3 8-9.3 4-3.7 4-2.9 4-2.1 4-1.6 7-1.9 8-1.3 45-5.2 31-4.5 27-4.8 30.5-6.5 1.8-18.6.7-4.8 1-4.1 1-2.4 1.5-1.9 2-1.1 2.8-.4" stroke="#2020b0" stroke-width="0.55" stroke-opacity="0.90"/>
<path d="M36.4 221.5l33-8.2 11-2.4 11-2 21-2.6 16-1.2 18-.9 2-.6 1-.7 2-2.3 3-4.9 3-6.4 9-21.3 3-5.7 2-2.7 2-1.6 1-.4 19-5 23.6-7 1.8-11.6 1.7-5.7 1.3-1.9 1.4-1.2 1.8-.6 2.8-.3" stroke="#f09030" stroke-width="0.40" stroke-opacity="0.60"/>
<path d="M36.4 221.5l34-8.5 11-2.3 11-1.9 12-1.7 12-1.2 30-1.7 1 .1 2 1.8 2 3 5 9.1 2 2.5 1 .7 1 .1 5 0" stroke="#208080" stroke-width="0.45" stroke-opacity="0.75"/>
<path d="M28.5 220.9l18-19.1 9-8.5 5-3.8 4-2.4 5-2.4 5-1.7 8-1.9 11-1.6 70-6.3 25-2.9 28.5-3.7 1.8-21.2 1-6.9 1-4.7 1.2-3.8 1.5-2.6 1.7-1.6 2.6-1" stroke="#4090e0" stroke-width="0.55" stroke-opacity="0.90"/>
<path d="M30.8 221.5l27-10.7 9-3.2 9-2.8 8-2 9-1.8 11-1.6 12-1.3 2-.6 2-1.5 3-3.6 3-4.6 9-15.5 3-3.9 2-1.8 2-.9 20-4 19-4.5 16-4.2 20.4-5.9 1.6-12.1.7-3.6 1-3.1 1-1.8 1.5-1.3 2-.7 2.8-.2" stroke="#208080" stroke-width="0.40" stroke-opacity="0.60"/>
<path d="M30.8 221.5l27-10.7 9-3.2 9-2.8 9-2.2 10-1.9 10-1.5 11-1.1 1 .4 2 2.6 2 4.4 4 10.4 2 3.9 1 1.2 1 .5 6 0" stroke="#30a030" stroke-width="0.45" stroke-opacity="0.75"/>
<path d="M28.5 221.7l18-19.6 9-8.6 5-3.8 4-2.5 5-2.3 5-1.7 7-1.6 10-1.5 71-6.7 26-3.2 28.5-4 .2-.5 1.8-22.6 1.8-10.3 1.2-3.7 1.5-2.4 1.7-1.4 2.6-.7" stroke="#c03060" stroke-width="0.55" stroke-opacity="0.90"/>
<path d="M35.1 221.5l33-8 21-4.1 11-1.6 11-1.2 28-2 3-1.7 3-3.3 3-4.3 9-14.6 3-3.7 3-2.3 2-.4 52.1-6 1.6-23.3.7-6.6 1-5.7 1-3.4 1.5-2.7 2-1.6 2.8-.6" stroke="#8040c0" stroke-width="0.40" stroke-opacity="0.60"/>
<path d="M35.1 221.5l33-8 21-4.1 11-1.6 11-1.2 27-1.8 1 .6 1 2.1 3 9.5 1 2.7 1 1.6 1 .2 5 0" stroke="#8040c0" stroke-width="0.45" stroke-opacity="0.75"/>
<path d="M33.6 221.5l24-9.4 15-5.2 14-3.8 15-2.8 17-2.1 21-1.5 27-1.1 42-1 1-.7 2-3.4 5-13.9.6 0 1.8-29.3 1-9.4 1.2-6.5 1-3 1.6-2.3 1.7-1.1 2.3-.6" stroke="#60b030" stroke-width="0.40" stroke-opacity="0.60"/>
<path d="M33.6 221.5l20-7.9 12-4.4 11-3.5 10-2.6 11-2.2 13-1.9 15-1.4 17-1 28-1.1 38-.9 1 .6 2 3.2 5 14" stroke="#c03060" stroke-width="0.45" stroke-opacity="0.75"/>
<path d="M28.5 222.6l16-21.4 7-8.4 4-3.9 4-3 4-2.3 4-1.7 7-2 8-1.4 46-5.4 31-4.5 27-5 30.5-6.5 1.8-15.4 1-5.7 1-3.9 1.2-3.1 1.5-2.2 1.7-1.3 2.6-.8" stroke="#e03030" stroke-width="0.55" stroke-opacity="0.90"/>
<path d="M31.4 221.5l20-8 12-4.4 11-3.6 11-2.8 11-2.1 11-1.6 17-1.6 20-1.2 3-.9 3-2.2 3-3.2 4-5.5 10-15 3-3.6 3-2.5 2-.9 17-3.7 24-5.9.8 0 1.6-15.2.7-4.7 1-3.9 1-2.1 1.5-1.6 1.8-.7 3-.3" stroke="#60b030" stroke-width="0.40" stroke-opacity="0.60"/>
<path d="M31.4 221.5l20-8 12-4.4 11-3.6 11-2.8 12-2.3 13-1.8 15-1.3 19-1.1 1 1 1 2.6 4 16 1 3.3 1 2 1 .4 5 0" stroke="#40c060" stroke-width="0.45" stroke-opacity="0.75"/>
<path d="M28.5 221.4l18-19.2 9-8.5 5-3.8 4-2.4 5-2.4 5-1.7 8-1.9 10-1.4 71-6.5 24-2.8 29.7-3.9 1.6-21.7 1-8.3 1-5 1-3 1.4-2.5 1.8-1.3 2.8-.7" stroke="#f070b0" stroke-width="0.55" stroke-opacity="0.90"/>
<path d="M32.4 221.5l22-7.7 12-3.9 11-3 14-3.1 2-.8 3-2.1 4-4.2 11-14.8 4-4.9 3-2.8 3-1.8 2-.5 27-4 20-3.5 20-4.1 26-6 .8 0 1.8-14 1-5.2 1-3.6 1.2-2.8 1.6-2 1.7-1.3 2.3-.7" stroke="#f070b0" stroke-width="0.40" stroke-opacity="0.60"/>
<path d="M32.4 221.5l22-7.7 13-4.2 13-3.5 11-2.2 1 1 1 2.2 3 9.7 1 2.7 1 1.7 1 .3 5 0" stroke="#4090e0" stroke-width="0.45" stroke-opacity="0.75"/>
<path d="M28.5 222.5l18-19.3 9-8.6 5-3.8 4-2.4 5-2.4 5-1.7 8-1.8 10-1.5 71-6.6 27-3.1 26.7-3.7 1.8-21.5 1-7.1 1-4.8 1.2-3.9 1.6-2.7 1.7-1.7 2.3-1" stroke="#30a030" stroke-width="0.55" stroke-opacity="0.90"/>
<path d="M32.7 221.5l30-9.6 10-2.8 9-2.2 10-1.9 10-1.5 26-2.5 3-1.8 3-3.2 9-12.9 3-3.8 3-2.8 2-1 34-3.6 32.3-4.1.2-.3 1.8-21.5 1-7.1 1-4.8 1.2-3.9 1.6-2.7 1.7-1.6 2.3-1" stroke="#208080" stroke-width="0.40" stroke-opacity="0.60"/>
<path d="M32.7 221.5l30-9.6 10-2.8 9-2.2 10-1.9 11-1.6 12-1.3 12-.9 1 .5 2 3 5 12.2 2 3.5 1 .9 1 .2 5 0" stroke="#e04090" stroke-width="0.45" stroke-opacity="0.75"/>
<path d="M35.1 221.5l31-8.5 19-4.3 18-2.9 12-1.3 14-1.1 2-.5 3-2.2 3-3.5 3-4.4 10-16.1 3-3.8 3-2.5 2-.8 29-4.7 30.1-5.8 1.6-18.6.7-5.2 1-4.4 1-2.7 1.5-2.2 2-1.1 2.8-.6" stroke="#40c060" stroke-width="0.40" stroke-opacity="0.60"/>
<path d="M35.1 221.5l31-8.5 19-4.3 20-3.1 24-2.1 1 .5 1 1.4 5 12.2 2 3.4 1 .5 6 0" stroke="#8040c0" stroke-width="0.45" stroke-opacity="0.75"/>
<path d="M28.5 220.9l18-19.9 9-8.8 5-3.8 4-2.4 4-1.9 5-1.8 7-1.7 10-1.5 70-6.8 26-3.3 30.7-4.4 1.8-22.2.8-5.6 1-4.9 1-3 1.4-2.5 1.8-1.3 2.8-.7" stroke="#e03030" stroke-width="0.55" stroke-opacity="0.90"/>
<path d="M33.8 221.5l23-8.5 14-4.7 13-3.5 14-2.8 15-2 17-1.4 25-1.1 35-.9 2-.5 2-1.2 2-1.9 4-5.4 4-7 9-17.7 4.2-6.9 1.8-15.4 1-5.4 1-3.6 1.2-2.9 1.5-2 1.7-1.3 2.6-.8" stroke="#f070b0" stroke-width="0.40" stroke-opacity="0.60"/>
<path d="M33.8 221.5l23-8.5 14-4.7 13-3.5 14-2.8 16-2.1 19-1.4 24-1.1 32-.7 1 0 1 .7 1 1.7 2 5.1 4 12.4 2 4 1 .9 6 0" stroke="#2020b0" stroke-width="0.45" stroke-opacity="0.75"/>
<path d="M28.5 220.5l14-20.2 7-9.3 6-6.2 3-2.3 4-2.4 7-2.6 8-1.7 49-6.3 17-2.6 16-2.8 27-5.6 30.5-7.5 1.8-15.2.7-3.8 1-3.3 1-1.9 1.5-1.4 2-.8 2.8-.3" stroke="#3050e0" stroke-width="0.55" stroke-opacity="0.90"/>
<path d="M36.3 221.5l27-6.3 16-3.4 1-.8 1-2.3 1-3.6 5-24.5 1-3.7 1-2.6 1-1 33-4.6 30-5.5 29-6.7 17-4.6 17-5.1.9 0 .3-.3 1.7-12.4 1.8-5.5 1.2-1.9 1.3-1.1 1.7-.8 2.6-.4" stroke="#30b0d0" stroke-width="0.40" stroke-opacity="0.60"/>
<path d="M36.3 221.5l29-6.7 15-3 1 .2 2 1.3 6 6.6 2 1.4 7 .2" stroke="#60b030" stroke-width="0.45" stroke-opacity="0.75"/>
<path d="M28.5 222.4l17-19.3 9-9.1 5-4 4-2.5 4-2 5-1.8 7-1.8 9-1.4 49-4.8 23-2.5 26-3.4 30.7-4.7.3-.2 1.7-19.7 1-6.7 1-4.5 1.3-3.7 1.3-2.3 1.7-1.9 2.3-1.1" stroke="#f09030" stroke-width="0.55" stroke-opacity="0.90"/>
<path d="M34.6 221.5l25-6.9 15-3.8 14-2.8 14-2.1 14-1.5 16-1.2 27-1.1 39-1 3-.9 3-2.2 3-3.3 4-5.7 5-8 .6 0 1.8-28.2 1-9.6 1-6.4 1.2-5.1 1.6-3.5 1.7-2 2.3-1.2" stroke="#e04090" stroke-width="0.40" stroke-opacity="0.60"/>
<path d="M34.6 221.5l25-6.9 15-3.8 14-2.8 14-2.1 16-1.7 20-1.3 25-1 34-.8 1 0 1 .9 1 1.8 4 11.5 2 4.8 1 1.2 6 .2" stroke="#4090e0" stroke-width="0.45" stroke-opacity="0.75"/>
<path d="M36.7 221.5l38-9 13-2.4 13-1.9 13-1.4 15-1.1 22-1 28-.7 1-.1 1-.5 2-2.1 3-5.4 9-22.4 2-4.1 2-3 2-1.5 16.3-2.9 1.8-20.7.7-5.4 1-4.7 1-2.8 1.5-2.2 2-1.3 2.8-.5" stroke="#f09030" stroke-width="0.40" stroke-opacity="0.60"/>
<path d="M36.7 221.5l38-9 14-2.6 13-1.9 15-1.5 17-1.1 20-.8 25-.6 1 .3 1 1.3 4 10.9 2 4.3 1 .7 6 0" stroke="#e03030" stroke-width="0.45" stroke-opacity="0.75"/>
<path d="M28.5 222.6l18-19.9 9-8.7 5-3.8 4-2.4 4-1.9 5-1.8 7-1.7 10-1.5 48-4.5 23-2.4 25-3.1 30.7-4.4 1.6-23 .7-6.9 1-5.5 1-3.1 1.5-2.2 1.8-1.1 3-.4" stroke="#3050e0" stroke-width="0.55" stroke-opacity="0.90"/>
<path d="M30.5 221.5l21-8.5 12-4.5 12-3.8 11-2.8 12-2.2 14-1.7 16-1.3 23-1.2 1-.7 2-2.9 6-13.6 2-3.3 1-.9 53.5-6.7 1.5-22.6 1-8.2 1-4.9 1-3 1.5-2.4 2-1.3 2.8-.6" stroke="#60b030" stroke-width="0.40" stroke-opacity="0.60"/>
<path d="M30.5 221.5l21-8.5 12-4.5 12-3.8 11-2.8 13-2.3 14-1.7 16-1.3 21-1 1 .1 1 1.1 1 1.9 6 18.3 2 3.9 1 .6 6 0" stroke="#3050e0" stroke-width="0.45" stroke-opacity="0.75"/>
<path d="M28.5 220.8l14-20.7 7-9.4 3-3.4 3-2.8 3-2.3 4-2.3 6-2.3 9-2 47-6.1 17-2.7 16-2.9 28-6 31.5-8 1.8-14 .7-3.6 1-3.2 1.3-2.3 1.4-1.4 1.8-.7 2.8-.4" stroke="#20a0a0" stroke-width="0.55" stroke-opacity="0.90"/>
<path d="M35.3 221.5l25-7.6 15-4.1 13-2.8 18-2.7 2-.6 3-1.9 4-3.8 12-15.2 4-4.5 3-2.5 3-1.5 40-5.2 39.7-6.3 1.8-19.8 1-6.4 1-4.2 1.2-3.3 1.5-2.3 1.7-1.3 2.6-.9" stroke="#2020b0" stroke-width="0.40" stroke-opacity="0.60"/>
<path d="M35.3 221.5l25-7.6 16-4.3 16-3.3 14-1.9 1 1.3 1 2.6 3 10 1 2.3 1 .9 6 0" stroke="#30a030" stroke-width="0.45" stroke-opacity="0.75"/>
<path d="M28.5 221.6l17-21.3 8-8.8 4-3.5 4-2.7 4-2.1 4-1.6 7-1.8 9-1.5 47-5.2 30-4 25-4 29.7-5.6 1.8-19.5.8-5.1 1-4.3 1-2.6 1.4-2.1 1.8-1 2.8-.6" stroke="#2020b0" stroke-width="0.55" stroke-opacity="0.90"/>
<path d="M33.7 221.5l35-9.1 12-2.5 11-1.9 12-1.6 12-1.2 16-1 20-.9 2-.4 2-1.5 3-3.8 3-5.2 9-17.8 3-4.6 2-2.1 2-1 39.5-7.3 1.8-17.1 1-5.9 1-4 1.2-3.3 1.6-2.3 1.7-1.4 2.3-.8" stroke="#e03030" stroke-width="0.40" stroke-opacity="0.60"/>
<path d="M33.7 221.5l35-9.1 12-2.5 11-1.9 12-1.6 14-1.4 16-1 18-.7 1 .5 1 2.1 3 10.5 1 3 1 1.8 1 .3 5 0" stroke="#208080" stroke-width="0.45" stroke-opacity="0.75"/>
<path d="M32.2 221.5l23-8.7 14-4.7 13-3.6 13-2.6 14-1.9 17-1.4 23-1.1 30-.7 2-.3 1-.7 2-2.1 2-3 2-3.9 3-6.9 8-20.3 2-4.3 2-3.5 2-2.4 1-.8 10-3.2.8 0 1.8-11 1-3.6 1-2.4 1.2-1.8 1.5-1.2 1.7-.6 2.6-.4" stroke="#208080" stroke-width="0.40" stroke-opacity="0.60"/>
<path d="M32.2 221.5l23-8.7 14-4.7 13-3.6 13-2.6 15-2 18-1.4 22-1 29-.7 1 .2 1 1.3 1 2.4 4 14.3 2 5.4 1 1 6 .1" stroke="#4090e0" stroke-width="0.45" stroke-opacity="0.75"/>
<path d="M28.5 222l17-20.1 5-5.4 4-3.9 4-3.3 4-2.7 4-2 5-1.9 7-1.8 10-1.5 48-4.9 30-3.7 23-3.4 27.7-4.6 1.8-18 1-6.7 1-4.5 1.2-3.6 1.6-2.6 1.7-1.6 2.3-.9" stroke="#3050e0" stroke-width="0.55" stroke-opacity="0.90"/>
<path d="M33 221.5l23-7.3 14-4 13-3.2 12-2.2 14-1.9 16-1.5 20-1.2 27-1 2-.3 1-.6 2-1.7 2-2.7 2-3.3 4-8.2 8-18.5 3-5.9 2-3.1 2-2.2 1-.7 16-4.9 1.8-12.1 1.7-5.9 1.3-2.1 1.4-1.4 2-.8 2.6-.4" stroke="#f09030" stroke-width="0.40" stroke-opacity="0.60"/>
<path d="M33 221.5l23-7.3 14-4 13-3.2 12-2.2 14-1.9 17-1.5 20-1.2 26-1 1 .1 1 .7 1 1.4 2 4.3 4 10.7 2 3.8 1 1 1 .3 5 0" stroke="#20a0a0" stroke-width="0.45" stroke-opacity="0.75"/>
<path d="M28.5 221.7l16-22.6 7-8.7 4-3.9 3-2.4 4-2.4 4-1.7 6-1.7 8-1.5 45-5.5 31-5 29-5.7 31.5-7.5 1.8-16.1.7-4.2 1-3.5 1-2.1 1.5-1.6 2-.9 2.8-.4" stroke="#2020b0" stroke-width="0.55" stroke-opacity="0.90"/>
<path d="M34.2 221.5l24-6.9 14-3.7 14-3 14-2.2 15-1.7 18-1.2 20-.9 36-1 2-1.4 3-4.1 9-17.9 3-4.5 2-1.7 1-.4 7.8-.8 1.5-23.6 1-8.7 1-5.3 1.3-3.8 1.4-2.4 1.8-1.2 2.8-.7" stroke="#f070b0" stroke-width="0.40" stroke-opacity="0.60"/>
<path d="M34.2 221.5l24-6.9 14-3.7 14-3 14-2.2 16-1.8 18-1.2 23-.9 31-.7 1 .3 2 2.6 6 13.9 2 3 1 .6 6 0" stroke="#30b0d0" stroke-width="0.45" stroke-opacity="0.75"/>
<path d="M28.5 220.5l17-19.3 9-9 5-4 4-2.6 4-2 5-1.8 7-1.7 9-1.5 49-4.7 23-2.6 27-3.5 29.5-4.5.2-.4 1.8-21.9 1.8-9.5 1.2-3.3 1.2-1.8 1.8-1.2 2.8-.8" stroke="#20a0a0" stroke-width="0.55" stroke-opacity="0.90"/>
<path d="M35.7 221.5l25-6.9 16-3.9 15-2.9 15-2.1 18-1.6 21-1 26-.8 42-.6 1-.6 2-2.6.3 0 .2-2.1 1.6-38.3 1-13.4 1.2-9.6 1-4.3 1.5-3.5 1.7-1.8 2.6-1" stroke="#208080" stroke-width="0.40" stroke-opacity="0.60"/>
<path d="M35.7 221.5l28-7.7 17-4 18-3.1 19-2.1 16-1 20-.8 59-1 1 .1 1 .9 2 3.6" stroke="#20a0a0" stroke-width="0.45" stroke-opacity="0.75"/>
<path d="M33.6 221.5l37-9.2 13-2.7 12-1.9 14-1.6 15-1.1 18-1 24-.7 1-.6 1-1.3 2-4.5 7-23.2 2-5.2 1-1.7 1-1 35.4-6.8 1.8-18.7.7-5 1-4.3 1.3-3.1 1.4-2 1.8-1 2.8-.5" stroke="#30a030" stroke-width="0.40" stroke-opacity="0.60"/>
<path d="M33.6 221.5l37-9.2 13-2.7 12-1.9 14-1.6 15-1.1 18-1 23-.6 1 0 1 .7 1 1.5 5 12.4 1 1.9 1 1.2 1 .4 5 0" stroke="#f09030" stroke-width="0.45" stroke-opacity="0.75"/>
<path d="M28.5 222.7l17-21.4 8-8.8 4-3.5 4-2.7 4-2.1 4-1.6 7-1.8 9-1.5 47-5.2 30-4 25-4.1 29.7-5.7 1.6-17.2 1-6.6 1-4.3 1.2-3.4 1.5-2.2 1.7-1.3 2.6-.7" stroke="#9060e0" stroke-width="0.55" stroke-opacity="0.90"/>
<path d="M35.9 221.5l37-8.3 13-2.3 13-1.9 12-1.4 14-1.1 19-1 24-.7 2-.5 2-1.3 3-3.5 3-4.6 8-14 3-4.1 2-1.9 2-1.1 1-.2 23.3-2.4 1.8-26.8.8-6.6 1-5.6 1-3.3 1.4-2.6 1.8-1.3 2.8-.6" stroke="#f09030" stroke-width="0.40" stroke-opacity="0.60"/>
<path d="M35.9 221.5l37-8.3 13-2.3 13-1.9 14-1.6 15-1.1 18-.9 22-.6 1 .3 1 1.3 4 10.3 2 4.1 1 .7 6 0" stroke="#20a0a0" stroke-width="0.45" stroke-opacity="0.75"/>
<path d="M28.5 222.6l16-21.5 7-8.4 4-3.9 4-3.1 4-2.3 4-1.6 7-2 8-1.4 46-5.4 31-4.6 27-5 30.5-6.6.2-.3 1.8-17.7 1.8-8 1.2-2.8 1.5-1.9 1.7-1 2.6-.6" stroke="#f09030" stroke-width="0.55" stroke-opacity="0.90"/>
<path d="M35.2 221.5l26-5.6 16-3.1 16-2.5 17-2 2-.6 3-2.5 4-5.3 11-19.7 3-4.9 3-3.8 3-2.3 39-7.3 19-4.2 19-4.8 1 0 1.8-14 1-5 1-3.3 1.2-2.6 1.6-1.8 1.7-1 2.3-.6" stroke="#f09030" stroke-width="0.40" stroke-opacity="0.60"/>
<path d="M35.2 221.5l27-5.8 16-3.1 16-2.5 16-1.7 1 .4 1 1.3 4 8.1 2 2.9 1 .4 5 0" stroke="#e03030" stroke-width="0.45" stroke-opacity="0.75"/>
<path d="M28.5 222.2l17-21.4 8-8.8 4-3.5 4-2.7 4-2.1 4-1.6 7-1.8 9-1.5 47-5.2 30-4 25-4.1 29.7-5.7 1.8-16.5 1-6.2 1-4.2 1.2-3.4 1.6-2.4 1.7-1.4 2.3-.9" stroke="#4090e0" stroke-width="0.55" stroke-opacity="0.90"/>
<path d="M36.2 221.5l30-7.5 19-3.9 18-2.8 12-1.2 14-1.1 1-.5 2-2 2-3.5 3-6.9 8-20.9 2-3.9 2-2.5 1-.7 1-.2 17-3.7 17-4.2 16-4.3 15-4.5 1 0 1.8-11.5 1-4 1-2.6 1.2-2 1.3-1.2 1.7-.9 2.6-.5" stroke="#3050e0" stroke-width="0.40" stroke-opacity="0.60"/>
<path d="M36.2 221.5l31-7.7 19-3.9 21-3 22-1.8 1 .6 1 1.4 5 11.1 2 2.9 1 .4 5 0" stroke="#e03030" stroke-width="0.45" stroke-opacity="0.75"/>
<path d="M35.7 221.5l38-8.7 14-2.5 13-1.9 15-1.4 17-1.1 20-.8 26-.6 1-.8 1-1.9 2-6.2 7-31.6 2-6.4 1-1.9 1-.7 23.5-6.5 1.6-12.9.7-3.8 1-3.2 1-1.8 1.5-1.5 2-.7 2.8-.3" stroke="#30a030" stroke-width="0.40" stroke-opacity="0.60"/>
<path d="M35.7 221.5l38-8.7 14-2.5 13-1.9 15-1.4 17-1.1 20-.8 25-.6 1 .1 1 .5 1 1.3 5 11.2 2 3.2 1 .7 6 0" stroke="#20a0a0" stroke-width="0.45" stroke-opacity="0.75"/>
<path d="M28.5 222.7l16-21.3 8-9.3 4-3.7 4-2.9 4-2.2 4-1.5 7-1.9 8-1.3 45-5.2 31-4.5 27-4.9 30.5-6.4 1.8-18.9.7-4.6 1-4 1-2.4 1.5-1.9 2-1 2.8-.5" stroke="#40c060" stroke-width="0.55" stroke-opacity="0.90"/>
<path d="M32.3 221.5l23-9.3 13-4.7 13-3.9 13-2.8 14-2.1 16-1.6 23-1.3 31-1.1 2-.5 3-2.5 3-4.1 3-5.3 8-15.4 4-5.8 2-1.8 1-.6 12.7-2.7 1.8-18.3.7-4.5 1-3.8 1-2.2 1.5-1.7 2-.9 2.8-.3" stroke="#d040d0" stroke-width="0.40" stroke-opacity="0.60"/>
<path d="M32.3 221.5l23-9.3 13-4.7 13-3.9 13-2.8 15-2.3 17-1.5 22-1.3 30-1 1 .6 1 1.5 1 2.3 5 16.2 2 4.8 1 1.2 1 .2 5 0" stroke="#2020b0" stroke-width="0.45" stroke-opacity="0.75"/>
<path d="M28.5 221.5l14-20.5 7-9.3 6-6.3 3-2.3 4-2.3 6-2.3 9-2 48-6.2 17-2.6 16-2.9 27-5.7 31.7-7.8 1.6-15.3.7-4.2 1-3.3 1-1.9 1.5-1.4 1.8-.7 3-.3" stroke="#c03060" stroke-width="0.55" stroke-opacity="0.90"/>
<path d="M33 221.5l31-11.5 11-3.5 10-2.6 1-.9 2-3.9 6-17.7 2-3.8 1-.8 35-3.8 28-3.7 28-4.6 29.2-5.7 1.8-16.8 1-6 1-4.1 1.2-3.1 1.6-2.2 1.7-1.4 2.3-.7" stroke="#30a030" stroke-width="0.40" stroke-opacity="0.60"/>
<path d="M33 221.5l31-11.5 11-3.5 10-2.6 1 .2 2 1.9 2 3.5 4 8.1 2 3 1 .7 1 .2 5 0" stroke="#e03030" stroke-width="0.45" stroke-opacity="0.75"/>
<path d="M28.5 220.4l14-20.3 7-9.3 6-6.2 3-2.3 4-2.4 6-2.3 9-2 49-6.3 17-2.6 16-2.9 26-5.4 31.7-7.7 1.6-14.4.7-4.1 1-3.4 1-1.9 1.5-1.5 2-.8 2.8-.3" stroke="#4090e0" stroke-width="0.55" stroke-opacity="0.90"/>
<path d="M34.4 221.5l29-6.6 18-3.6 16-2.5 22-2.5 3-1.9 3-3.2 4-5.6 10-16 4-4.7 3-2.1 2-.5 35-4.9 33.6-5.7 1.8-18.5 1-6.2 1-4.2 1.2-3.3 1.5-2.4 1.7-1.5 2.6-.9" stroke="#30b0d0" stroke-width="0.40" stroke-opacity="0.60"/>
<path d="M34.4 221.5l29-6.6 18-3.6 17-2.6 19-2 1 .1 1 .7 1 1.4 4 8.6 2 3.3 1 .7 6 0" stroke="#60b030" stroke-width="0.45" stroke-opacity="0.75"/>
<path d="M32.8 221.5l29-11.6 21-6.9 2-1.7 3-3.5 10-16 3-4.3 3-3.3 3-1.8 30-4.5 26-4.9 27-6.1 27.2-7.3 1.8-14.6.7-3.5 1-3 1-1.8 1.5-1.4 2-.7 2.8-.3" stroke="#e03030" stroke-width="0.40" stroke-opacity="0.60"/>
<path d="M32.8 221.5l30-12 11-3.7 7-2 1-.1 1 .8 1 1.4 5 11.9 2 3.3 1 .4 5 0" stroke="#c03060" stroke-width="0.45" stroke-opacity="0.75"/>
<path d="M28.5 221.3l17-19.1 9-9.1 5-4 4-2.5 4-2 5-1.9 7-1.7 9-1.5 49-4.7 23-2.5 27-3.5 29.5-4.5 1.8-21.5 1.7-10.3 1.3-3.7 1.4-2.3 1.8-1.3 2.8-.7" stroke="#3050e0" stroke-width="0.55" stroke-opacity="0.90"/>
<path d="M35.7 221.5l32-6.7 20-3.6 19-2.4 27-2.1 2-.5 2-1.5 3-3.9 3-5.4 10-20.6 3-4.6 2-2 2-.9 27-4.9 29.3-6.4 1.8-16.1 1-5.6 1-3.7 1.2-2.7 1.5-1.8 1.7-1.1 2.6-.5" stroke="#f09030" stroke-width="0.40" stroke-opacity="0.60"/>
<path d="M35.7 221.5l33-6.9 20-3.5 21-2.6 24-1.8 1 .1 1 .9 1 1.5 4 8.7 2 3.1 1 .5 6 0" stroke="#3050e0" stroke-width="0.45" stroke-opacity="0.75"/>
<path d="M28.5 221.9l19-19.6 9-8.2 5-3.6 4-2.4 5-2.2 5-1.7 8-1.8 11-1.6 70-6.1 24-2.6 28.7-3.5 1.6-20.8 1-8.1 1-5.4 1.2-4.2 1.5-2.8 1.7-1.6 2.6-1" stroke="#f09030" stroke-width="0.55" stroke-opacity="0.90"/>
<path d="M34.4 221.5l28-7.6 18-4.2 16-2.7 23-2.5 2-.6 3-1.8 4-3.9 4-4.9 8-10.8 4-4.8 4-3.5 3-1.4 32-4.3 33.6-5.4 1.8-19.2 1-6.8 1-4.4 1.2-3.5 1.5-2.3 1.7-1.4 2.6-.9" stroke="#3050e0" stroke-width="0.40" stroke-opacity="0.60"/>
<path d="M34.4 221.5l28-7.6 18-4.2 18-3 20-2.1 1 .1 1 .9 1 1.6 4 9.3 2 3.8 1 1 1 .2 5 0" stroke="#30b0d0" stroke-width="0.45" stroke-opacity="0.75"/>
<path d="M28.5 221.4l19-19.6 9-8.1 5-3.7 4-2.3 5-2.3 5-1.7 8-1.8 11-1.5 70-6.1 24-2.6 28.7-3.5 1.8-21.7 1-7.6 1-5 1.2-3.9 1.6-2.7 1.7-1.6 2.3-.9" stroke="#60b030" stroke-width="0.55" stroke-opacity="0.90"/>
<path d="M33.7 221.5l33-10.8 11-3 11-2.5 11-1.9 12-1.4 16-1.4 22-1.2 2-.7 2-1.3 3-3.1 12-17 3-3.3 2-1.5 2-.8 41.3-5.6 1.8-21.2 1-7 1-4.6 1.2-3.6 1.5-2.5 1.7-1.5 2.6-.9" stroke="#3050e0" stroke-width="0.40" stroke-opacity="0.60"/>
<path d="M33.7 221.5l33-10.8 12-3.3 11-2.4 12-1.9 13-1.5 15-1.2 19-1 1 .3 1 1.5 1 2.6 4 13.9 1 2.4 1 1.3 6 .1" stroke="#60b030" stroke-width="0.45" stroke-opacity="0.75"/>
<path d="M35.7 221.5l33-9.1 11-2.5 10-2 12-1.8 13-1.5 14-1.1 17-.9 3-1 3-2.2 4-4.4 14-19.5 3-3.2 3-2.1 2-.7 39.5-6.2 1.8-18.6 1-6.5 1-4.4 1.2-3.6 1.6-2.6 1.7-1.7 2.3-1" stroke="#4090e0" stroke-width="0.40" stroke-opacity="0.60"/>
<path d="M35.7 221.5l33-9.1 11-2.5 11-2.2 12-1.8 12-1.3 14-1.1 16-.8 1 .1 1 1.1 1 1.9 4 10.8 2 4 1 .9 6 0" stroke="#e04090" stroke-width="0.45" stroke-opacity="0.75"/>
<path d="M28.5 221.2l17-19.2 9-9.1 5-4 4-2.5 4-2 5-1.9 7-1.7 9-1.4 49-4.8 23-2.5 27-3.5 29.5-4.5.2-.6 1.6-21 .7-5.8 1-5 1-3 1.5-2.4 2-1.3 2.8-.6" stroke="#4090e0" stroke-width="0.55" stroke-opacity="0.90"/>
<path d="M36.4 221.5l35-7.3 23-3.9 24-2.7 31-1.9 1-.5 1-1 1-1.5 2-4.1 2-5.4 8-24 2-4.3 2-2.6 1-.6 21-4.8 26-7 .8 0 1.6-12.6 1-4.7 1-3.1 1.2-2.3 1.5-1.5 1.7-.8 2.6-.5" stroke="#c03060" stroke-width="0.40" stroke-opacity="0.60"/>
<path d="M36.4 221.5l35-7.3 23-3.9 24-2.7 30-1.8 1 .1 1 1.2 4 11.4 1 2.1 1 .9 6 0" stroke="#30b0d0" stroke-width="0.45" stroke-opacity="0.75"/>
<path d="M28.5 221.4l17-20.8 8-8.6 4-3.4 4-2.8 4-2.2 5-1.9 7-1.8 9-1.5 48-5.1 30-3.8 24-3.8 28.5-5.1 1.8-20.6.7-5 1-4.4 1-2.6 1.5-2 2-1.2 2.8-.5" stroke="#2020b0" stroke-width="0.55" stroke-opacity="0.90"/>
<path d="M35.9 221.5l31-7.9 20-4.2 11-1.8 12-1.4 27-2.1 3-1 3-2.3 4-4.6 4-5.8 10-15.7 4-5.1 3-2.6 3-1.2 22-4.2 24.3-5.3 1.8-17.4 1.8-8.4 1.2-2.9 1.2-1.5 1.8-1.1 2.8-.6" stroke="#3050e0" stroke-width="0.40" stroke-opacity="0.60"/>
<path d="M35.9 221.5l32-8.1 21-4.4 11-1.6 11-1.3 25-1.9 1 0 1 .9 1 1.7 4 10.4 2 3.7 1 .6 6 0" stroke="#30b0d0" stroke-width="0.45" stroke-opacity="0.75"/>
<path d="M28.5 221.9l14-22.3 6-8.7 3-3.6 3-3 3-2.4 4-2.4 6-2.2 7-1.6 46-6.4 17-3 16-3.1 15-3.4 15-3.8 33.5-9.6 1.5-11.1 1-4.2 1-2.6 1.3-1.9 1.4-1.2 1.8-.7 2.8-.4" stroke="#208080" stroke-width="0.55" stroke-opacity="0.90"/>
<path d="M31.3 221.5l26-11.3 16-5.9 8-2.3 8-1.9 9-1.7 10-1.4 1-.3 2-1.5 3-3.7 11-19 3-3.5 2-1.1 21-3.9 21-4.6 20-5 24.7-7 1.8-12.4 1.7-6 1.3-2.1 1.4-1.4 1.8-.7 2.8-.5" stroke="#30a030" stroke-width="0.40" stroke-opacity="0.60"/>
<path d="M31.3 221.5l26-11.3 16-5.9 8-2.3 9-2.1 10-1.8 8-1 1 1 1 2.1 5 16.8 1 2.6 1 1.5 1 .4 5 0" stroke="#e04090" stroke-width="0.45" stroke-opacity="0.75"/>
<path d="M33.8 221.5l35-8.6 13-2.7 14-2.4 2-.7 3-2.2 4-4.4 4-5.6 8-12.1 4-5.4 4-4.1 3-1.8 26-4.2 20-3.6 20-4.2 23.4-5.4.3-.2 1.5-17.3 1.5-7.3 1-2.2 1.5-1.7 1.8-.8 3-.3" stroke="#3050e0" stroke-width="0.40" stroke-opacity="0.60"/>
<path d="M33.8 221.5l38-9.3 14-2.7 10-1.5 1 .7 1 1.2 4 7.9 2 3 1 .7 6 0" stroke="#20a0a0" stroke-width="0.45" stroke-opacity="0.75"/>
<path d="M28.5 220.9l16-21.7 7-8.4 4-3.9 4-3 4-2.3 4-1.7 6-1.7 8-1.4 46-5.5 31-4.6 27-5 31.7-6.9 1.6-16.1.7-4.5 1-4 1.3-2.8 1.4-1.7 1.8-.9 2.8-.5" stroke="#f070b0" stroke-width="0.55" stroke-opacity="0.90"/>
<path d="M35.8 221.5l33-8.2 23-4.8 2-1.7 3-4.7 8-17.6 3-5.7 2-2.8 2-1.5 30-3.9 24-3.7 25-4.6 26.2-5.5 1.5-16.7 1-6.1 1-3.8 1.3-2.7 1.4-1.7 1.8-.9 2.8-.5" stroke="#60b030" stroke-width="0.40" stroke-opacity="0.60"/>
<path d="M35.8 221.5l34-8.4 21-4.2 1 0 2 1.3 2 2.6 4 6 2 2.2 1 .4 6 .1" stroke="#208080" stroke-width="0.45" stroke-opacity="0.75"/>
<path d="M28.5 220.7l14-20.3 7-9.3 6-6.2 3-2.3 4-2.4 6-2.3 9-2 48-6.2 17-2.6 16-2.8 27-5.7 31.7-7.7.3-.3 1.7-13 1-4.3 1-2.9 1.3-2.4 1.3-1.4 1.7-1.2 2.3-.7" stroke="#20a0a0" stroke-width="0.55" stroke-opacity="0.90"/>
<path d="M34.3 221.5l32-8.3 20-4.3 20-2.9 26-2.2 2-.4 3-2 3-3.3 3-4.2 10-15.7 3-3.6 3-2.3 2-.6 26-3.6 29.7-4.7.2-.8 1.6-21.1.7-5.7 1-4.8 1-2.8 1.5-2.2 2-1.2 2.8-.5" stroke="#e03030" stroke-width="0.40" stroke-opacity="0.60"/>
<path d="M34.3 221.5l32-8.3 20-4.3 10-1.6 11-1.4 25-2.1 1 .2 1 1.2 1 1.8 4 10.2 2 3.6 1 .7 6 0" stroke="#30b0d0" stroke-width="0.45" stroke-opacity="0.75"/>
<path d="M28.5 222l20-18.8 10-8.3 5-3.3 5-2.7 5-2 5-1.6 10-2 13-1.6 68-5 47.5-4.4 1.5-23.8 1-9.3 1-5.8 1.3-4.1 1.4-2.7 1.8-1.4 2.8-.7" stroke="#30a030" stroke-width="0.55" stroke-opacity="0.90"/>
<path d="M31.9 221.5l24-9 14-4.7 13-3.5 14-2.8 1-.6 1-1.5 6-16 1-1.8 1-.9 64-4.7 46.3-4.4 1.8-23.4 1-8.3 1-5.4 1.2-4.3 1.3-2.4 1.7-1.9 2.6-1.1" stroke="#30b0d0" stroke-width="0.40" stroke-opacity="0.60"/>
<path d="M31.9 221.5l24-9 14-4.7 13-3.5 14-2.8 1 .3 1 1.2 1 1.9 4 10.9 2 4.4 1 1.1 1 .2 5 0" stroke="#60b030" stroke-width="0.45" stroke-opacity="0.75"/>
<path d="M30.6 221.5l20-8.8 12-4.9 11-3.9 10-2.8 12-2.5 13-1.9 15-1.4 18-1 1-.6 1-1.9 1-2.9 5-19.9 1-2.9 1-1.7 1-.4 16-3.4 16-3.9 32.6-8.9 1.8-11.6 1-4 1-2.7 1.2-2.1 1.6-1.5 1.7-.9 2.3-.5" stroke="#d040d0" stroke-width="0.40" stroke-opacity="0.60"/>
<path d="M30.6 221.5l20-8.8 12-4.9 11-3.9 10-2.8 12-2.5 13-1.9 15-1.4 18-1 1 .3 1 1.1 1 1.7 2 4.9 5 14.4 2 3.8 1 .9 6 .1" stroke="#e04090" stroke-width="0.45" stroke-opacity="0.75"/>
<path d="M28.5 220.3l18-20.1 9-8.8 4-3.1 5-3.1 4-1.9 5-1.7 7-1.7 9-1.4 49-4.6 23-2.5 26-3.3 29.5-4.4 1.5-21.9.7-6.2 1-5.1 1-2.8 1.6-2 2-1.1 3-.3" stroke="#30b0d0" stroke-width="0.55" stroke-opacity="0.90"/>
<path d="M32.4 221.5l24-9.9 15-5.5 14-3.9 15-2.9 17-2.1 22-1.4 29-1.1 42-.8 1-.7 1-2.4 2-8.7 2-11.6.8 0 1.8-24.3 1-8 1-5.1 1.2-3.8 1.3-2.2 1.7-1.6 2.6-.9" stroke="#208080" stroke-width="0.40" stroke-opacity="0.60"/>
<path d="M32.4 221.5l28-11.5 9-3.2 9-2.8 9-2.3 10-2 10-1.4 12-1.2 15-1.1 19-.8 57-1.3 1 .4 1 1.2 1 1.9 3 8.4" stroke="#f09030" stroke-width="0.45" stroke-opacity="0.75"/>
<path d="M28.5 221.7l16-20.7 8-9.2 4-3.7 4-2.9 4-2.2 4-1.6 7-1.9 8-1.4 47-5.3 31-4.4 26-4.5 29.5-5.9.2-.4 1.6-17.2 1-6.1 1-3.9 1.2-2.8 1.2-1.5 1.8-1.1 2.8-.6" stroke="#208080" stroke-width="0.55" stroke-opacity="0.90"/>
<path d="M34.1 221.5l36-8.9 13-2.7 12-1.9 12-1.5 14-1.1 19-1.1 24-.7 2-.6 3-2.3 3-3.7 3-4.7 9-15.5 3-4 2-2 2-1.2 1-.2 24.9-3.5 1.8-20.7 1-6.8 1-4.6 1.2-3.8 1.5-2.6 1.7-1.6 2.6-1" stroke="#c03060" stroke-width="0.40" stroke-opacity="0.60"/>
<path d="M34.1 221.5l37-9.2 13-2.6 12-1.8 14-1.6 15-1.2 18-.9 21-.6 1 .5 2 3.2 4 9.7 2 3.5 1 .9 6 .1" stroke="#c03060" stroke-width="0.45" stroke-opacity="0.75"/>
<path d="M28.5 221.2l16-21.5 7-8.4 4-3.9 4-3.1 4-2.3 4-1.6 7-2 8-1.4 46-5.4 31-4.6 27-5 30.5-6.6 1.8-17.4.7-4.4 1-3.7 1-2.3 1.5-1.8 2-1 2.8-.5" stroke="#c03060" stroke-width="0.55" stroke-opacity="0.90"/>
<path d="M32.9 221.5l28-8.7 18-4.8 15-2.8 11-1.5 13-1.3 3-1 3-2.2 3-3.2 4-5.5 7-10.8 4-5.6 3-3.4 3-2.3 2-.8 19-3.4 18-3.7 30.1-7.1 2-14.7 2-7.6 1.2-2.6 1.6-1.8 1.7-1.2 2.3-.8" stroke="#d040d0" stroke-width="0.40" stroke-opacity="0.60"/>
<path d="M32.9 221.5l28-8.7 18-4.8 18-3.3 21-2.3 1 .4 1 1.3 1 1.9 4 10.6 2 4 1 .8 6 .1" stroke="#e04090" stroke-width="0.45" stroke-opacity="0.75"/>
<path d="M34.4 221.5l22-7.4 17-5.3 2-2.2 2-3.7 8-18.8 2-3.2 2-1.8 47-4.8 24-2.8 26-3.6 30.6-4.9 1.8-22.8.7-5.6 1-4.5 1-2.6 1.5-1.9 1.8-.9 3-.4" stroke="#208080" stroke-width="0.40" stroke-opacity="0.60"/>
<path d="M34.4 221.5l23-7.7 15-4.5 1 0 1 .8 1 1.4 4 8 1 1.4 1 .6 6 0" stroke="#3050e0" stroke-width="0.45" stroke-opacity="0.75"/>
<path d="M28.5 221.6l16-21.3 8-9.3 4-3.7 4-2.9 4-2.2 4-1.5 7-1.9 8-1.3 45-5.2 31-4.5 27-4.9 30.5-6.4 1.8-16.5 1-5.5 1-3.6 1.2-2.7 1.5-1.9 1.7-1.1 2.6-.7" stroke="#30b0d0" stroke-width="0.55" stroke-opacity="0.90"/>
<path d="M34.3 221.5l32-10.5 10-2.8 13-3 2-.7 3-2.2 3-3.1 4-5.3 7-10.1 4-5 3-3 3-1.9 2-.6 25-3.2 24-3.9 21-3.9 26.7-5.5 1.8-15.6 1-5.5 1-3.8 1.2-3 1.5-2.1 1.7-1.3 2.6-.8" stroke="#e03030" stroke-width="0.40" stroke-opacity="0.60"/>
<path d="M34.3 221.5l33-10.8 11-3 11-2.5 1 .6 1 1.8 4 11.5 1 1.9 1 .5 5 0" stroke="#208080" stroke-width="0.45" stroke-opacity="0.75"/>
<path d="M28.5 220.7l17-21.3 8-8.8 4-3.4 4-2.8 4-2.1 4-1.6 7-1.8 9-1.5 47-5.1 31-4.2 25-4.1 28.5-5.4 1.8-17.2 1-5.9 1-3.8 1.2-3.1 1.5-2 1.7-1.3 2.6-.7" stroke="#c03060" stroke-width="0.55" stroke-opacity="0.90"/>
<path d="M34.1 221.5l30-8.6 19-4.5 19-3.1 12-1.3 14-1.1 1-.3 1-.6 2-2.1 3-4.7 11-23.9 3-5.1 2-2.4 2-1.2 29-6.9 17-4.8 17-5.2.9 0 1.8-10.2 1-3.6 1-2.5 1.2-2 1.5-1.4 1.7-.9 2.6-.6" stroke="#3050e0" stroke-width="0.40" stroke-opacity="0.60"/>
<path d="M34.1 221.5l30-8.6 20-4.7 10-1.8 11-1.5 23-1.9 1 .4 2 2.4 6 12 2 2.8 1 .8 1 .1 5 0" stroke="#f09030" stroke-width="0.45" stroke-opacity="0.75"/>
<path d="M28.5 220.9l19-19 5-4.7 5-4.1 5-3.5 4-2.2 5-2.2 5-1.7 9-1.9 11-1.5 70-5.8 50.7-5.5 1.8-21.3 1-7.9 1-5.2 1.2-4.1 1.6-2.8 1.7-1.7 2.3-1" stroke="#c03060" stroke-width="0.55" stroke-opacity="0.90"/>
<path d="M35.7 221.5l31-7.4 19-3.8 20-2.8 24-2 1-.8 1-1.3 2-4.4 8-26.1 2-5.1 2-2.9 1-.5 18-3.8 18-4.4 16-4.4 18.3-5.4 1.5-11.7 1-4.2 1-2.5 1-1.5 1.5-1.3 2-.6 2.8-.3" stroke="#60b030" stroke-width="0.40" stroke-opacity="0.60"/>
<path d="M35.7 221.5l31-7.4 19-3.8 20-2.8 23-1.9 1 0 1 .6 1 1.2 5 10.2 2 3.1 1 .7 6 .1" stroke="#2020b0" stroke-width="0.45" stroke-opacity="0.75"/>
<path d="M33.4 221.5l24-9.6 14-4.9 14-3.9 14-2.8 15-1.9 18-1.5 28-1.2 42-1 2-.3 1-.5 2-1.6 2-2.3 3-4.6 4-7.8.8 0 1.6-25.7 1-9.8 1-6.4 1.2-4.8 1.5-3.2 1.7-1.9 2.6-1.1" stroke="#e04090" stroke-width="0.40" stroke-opacity="0.60"/>
<path d="M33.4 221.5l24-9.6 14-4.9 14-3.9 14-2.8 17-2.1 20-1.5 27-1.1 39-.9 1 .5 1 2.5 4 19 1 3.4 1 1.4 6 0" stroke="#e04090" stroke-width="0.45" stroke-opacity="0.75"/>
<path d="M28.5 222.3l14-20.3 7-9.3 6-6.2 3-2.3 4-2.3 6-2.4 9-2 49-6.3 17-2.6 16-2.9 26-5.4 31.7-7.7 1.8-14.9 1.8-7.4 1.2-2.7 1.5-1.7 1.7-.9 2.6-.6" stroke="#3050e0" stroke-width="0.55" stroke-opacity="0.90"/>
<path d="M33.5 221.5l24-8 14-4.2 14-3.5 14-2.5 15-1.8 18-1.4 25-1.2 36-1 1-.3 2-2.1 2-3.7 2-4.9 6-16.8 3-6.7 2-2.6 1-.6 4.7-.8 1.6-17.6 1-6.5 1-4.1 1.2-3.1 1.5-2 1.7-1 2.6-.6" stroke="#3050e0" stroke-width="0.40" stroke-opacity="0.60"/>
<path d="M33.5 221.5l24-8 14-4.2 14-3.5 14-2.5 16-1.9 19-1.4 25-1.1 34-1 1 .5 2 3 6 15.7 2 3.5 1 .8 6 .1" stroke="#20a0a0" stroke-width="0.45" stroke-opacity="0.75"/>
<path d="M28.5 221.6l16-21 8-9.3 4-3.7 4-2.9 4-2.2 4-1.5 7-1.9 8-1.4 46-5.3 31-4.4 27-4.8 29.5-6.1.2-.3 1.8-18 1.8-8 1.2-2.9 1.5-1.8 1.7-1.1 2.6-.6" stroke="#f09030" stroke-width="0.55" stroke-opacity="0.90"/>
<path d="M31.7 221.5l30-10.1 22-6 2-1.7 3-4.1 9-17.1 3-5 3-3.6 2-1.4 30-4.5 26-4.8 27-6.1 28.3-7.5 1.5-12.5 1-4.9 1-3 1.3-2.3 1.4-1.4 1.8-.7 2.8-.5" stroke="#60b030" stroke-width="0.40" stroke-opacity="0.60"/>
<path d="M31.7 221.5l31-10.4 11-3.1 9-2.1 1 1 1 2.1 4 11.3 1 1.2 6 0" stroke="#40c060" stroke-width="0.45" stroke-opacity="0.75"/>
<path d="M28.5 221.7l17-20.7 8-8.6 4-3.5 4-2.7 4-2.2 5-1.9 7-1.8 9-1.5 48-5.1 30-3.8 24-3.8 28.5-5.1 1.8-20.4.7-5.2 1-4.4 1.3-3.2 1.4-1.9 1.8-1 2.8-.5" stroke="#20a0a0" stroke-width="0.55" stroke-opacity="0.90"/>
<path d="M31.7 221.5l24-10.1 17-6.2 2-1 3-2.2 3-2.8 10-11.2 4-4 4-3.3 4-2 2-.4 34-3.1 27-2.9 24-3.1 27.5-4 1.8-23.1.8-5.7 1-4.9 1-2.9 1.4-2.4 1.8-1.2 2.8-.6" stroke="#f09030" stroke-width="0.40" stroke-opacity="0.60"/>
<path d="M31.7 221.5l27-11.3 11-4 2-.6 1-.1 1 1.3 1 2.3 3 9.1 1 2.2 1 1.1 6 0" stroke="#60b030" stroke-width="0.45" stroke-opacity="0.75"/>
<path d="M35 221.5l27-7.9 16-4.1 15-2.9 19-2.5 2-.5 2-1.4 3-3.3 9-13.8 3-4.2 3-3 2-1.2 44-4.5 37-4.7 1.5-23.3.7-6.8 1-5.6 1-3.2 1.6-2.5 2-1.3 3-.5" stroke="#d040d0" stroke-width="0.40" stroke-opacity="0.60"/>
<path d="M35 221.5l27-7.9 16-4.1 16-3.1 18-2.3 1 0 1 .5 2 2.2 6 10.8 2 2.7 1 .9 1 .3 6 0" stroke="#40c060" stroke-width="0.45" stroke-opacity="0.75"/>
<path d="M28.5 221.9l17-20.7 8-8.6 4-3.5 4-2.8 4-2.1 5-2 7-1.8 9-1.4 48-5.1 30-3.9 24-3.7 28.5-5.2 1.8-18.9 1-6.5 1-4.2 1.2-3.1 1.5-2.1 1.7-1.1 2.6-.7" stroke="#4090e0" stroke-width="0.55" stroke-opacity="0.90"/>
<path d="M33.6 221.5l21-7.3 13-4.1 12-3.3 12-2.6 13-2 14-1.5 17-1.2 22-1 1-.5 2-2.8 2-4.4 6-16.2 2-3.9 1-1.3 1-.6 21-3.4 23.4-4.2 1.8-20.5.7-5.3 1-4.5 1-2.7 1.5-2.2 2-1.2 2.8-.5" stroke="#30b0d0" stroke-width="0.40" stroke-opacity="0.60"/>
<path d="M33.6 221.5l21-7.3 13-4.1 12-3.3 12-2.6 13-2 15-1.6 17-1.2 21-.9 1 .7 2 3.4 5 13.8 2 3.9 1 1 1 .2 5 0" stroke="#30b0d0" stroke-width="0.45" stroke-opacity="0.75"/>
<path d="M28.5 221.1l17-20.4 5-5.5 4-3.9 4-3.3 4-2.7 4-2 5-1.8 7-1.8 10-1.5 47-4.8 30-3.8 23-3.5 28.7-4.9 1.8-19.6 1.8-9.6 1.2-3.4 1.5-2.2 1.7-1.2 2.6-.7" stroke="#2020b0" stroke-width="0.55" stroke-opacity="0.90"/>
<path d="M32.8 221.5l26-10.3 17-5.7 15-3.7 9-1.6 11-1.5 3-1 3-1.7 4-3.1 14-13.4 4-2.9 3-1.3 40-4.7 35.4-5 2-20.5 1-6.5 1-4.5 1.3-3.7 1.3-2.3 1.7-1.9 2.3-1.2" stroke="#e03030" stroke-width="0.40" stroke-opacity="0.60"/>
<path d="M32.8 221.5l26-10.3 17-5.7 8-2.2 9-1.9 10-1.7 8-.9 1 .5 2 2.7 6 14 2 3.7 1 1.2 1 .6 6 0" stroke="#8040c0" stroke-width="0.45" stroke-opacity="0.75"/>
<path d="M28.5 221.3l19-18.4 10-8.6 5-3.5 5-2.8 5-2.1 5-1.6 9-1.9 13-1.6 69-5.4 48.5-4.9.2-.5 1.8-25.7 1.8-11.3 1.2-3.9 1.2-2.2 1.8-1.5 2.8-.9" stroke="#e03030" stroke-width="0.55" stroke-opacity="0.90"/>
<path d="M35.8 221.5l37-9.3 14-2.9 13-2 2-.7 3-2.2 3-3.3 3-4.2 8-12.3 4-5.3 3-3 3-1.7 25-3 20-2.7 21-3.3 22.2-4 1.8-20.1 1.7-9.7 1.3-3.4 1.4-2.2 1.8-1.1 2.8-.7" stroke="#30b0d0" stroke-width="0.40" stroke-opacity="0.60"/>
<path d="M35.8 221.5l24-6.2 14-3.4 13-2.6 13-2 1 .1 2 1.4 2 2.6 5 7.7 2 2 1 .4 6 0" stroke="#c03060" stroke-width="0.45" stroke-opacity="0.75"/>
<path d="M36.3 221.5l32-7.3 20-3.7 19-2.5 13-1.2 15-.9 2-.5 3-2.1 4-4.5 4-6 10-16.4 4-5 3-2.5 2-.7 22-3.8 27.7-5.2 1.8-16.7 1-5.8 1-3.9 1.2-3.2 1.5-2.4 1.7-1.4 2.6-1" stroke="#2020b0" stroke-width="0.40" stroke-opacity="0.60"/>
<path d="M36.3 221.5l32-7.3 21-3.9 22-2.7 24-1.7 1 .9 1 1.9 3 8.3 2 4 1 .5 5 0" stroke="#208080" stroke-width="0.45" stroke-opacity="0.75"/>
<path d="M28.5 220.8l14-22.3 6-8.7 3-3.6 3-3 3-2.4 4-2.4 6-2.2 7-1.6 46-6.4 17-2.9 16-3.2 15-3.4 15-3.8 17-4.7 16-4.9.7 0 1.6-11.1.7-3.3 1-2.7 1-1.7 1.5-1.2 2-.7 2.8-.3" stroke="#20a0a0" stroke-width="0.55" stroke-opacity="0.90"/>
<path d="M32.5 221.5l28-8.7 11-3.1 11-2.6 2-.9 3-2.7 3-3.7 9-14.1 4-5.6 3-3.2 3-1.8 31-3.9 24-3.6 25-4.4 27.5-5.7 1.8-16.8 1-5.9 1-3.7 1.2-2.9 1.5-1.9 1.7-1.2 2.6-.6" stroke="#9060e0" stroke-width="0.40" stroke-opacity="0.60"/>
<path d="M32.5 221.5l31-9.6 11-2.9 8-1.7 1 1 1 2.1 3 8.6 1 1.9 1 .6 5 0" stroke="#40c060" stroke-width="0.45" stroke-opacity="0.75"/>
<path d="M28.5 220.6l17-20.3 5-5.5 4-3.9 4-3.3 4-2.6 4-2.1 5-1.8 7-1.8 10-1.5 48-4.9 30-3.8 23-3.4 27.5-4.7 2-18.2 1-5.9 1-4 1.2-3.3 1.6-2.3 1.7-1.5 2.3-.9" stroke="#2020b0" stroke-width="0.55" stroke-opacity="0.90"/>
<path d="M36.2 221.5l26-6.1 17-3.6 1-.9 2-4 6-20 2-5.8 2-3.6 1-.7 36-4 28-3.8 28-4.6 31.8-6.3 1.5-15.9 1-6.4 1-4.1 1.3-3.1 1.4-2.1 2-1.4 2.6-.6" stroke="#f070b0" stroke-width="0.40" stroke-opacity="0.60"/>
<path d="M36.2 221.5l27-6.3 16-3.3 1 .2 2 1.4 6 7.3 1 .6 1 .1 5 0" stroke="#d040d0" stroke-width="0.45" stroke-opacity="0.75"/>
<path d="M28.5 221.6l18-19.9 9-8.7 5-3.8 4-2.4 4-1.9 5-1.8 7-1.7 10-1.5 48-4.5 23-2.4 26-3.3 29.5-4.2 1.8-19.9 1-6.8 1-4.7 1.2-3.8 1.5-2.7 1.7-1.7 2.6-1.1" stroke="#f070b0" stroke-width="0.55" stroke-opacity="0.90"/>
<path d="M35.6 221.5l37-8.6 3-1.6 3-2.9 3-3.8 12-19.2 4-5.7 4-4.4 3-1.9 2-.6 31-4.4 25-4.4 25-5.4 29.6-7.4 1.8-14.2 1.8-7.3 1.2-2.5 1.2-1.3 1.8-1 2.8-.5" stroke="#e03030" stroke-width="0.40" stroke-opacity="0.60"/>
<path d="M35.6 221.5l37-8.5 1 .4 1 .9 4 5.7 1 1 1 .5 6 0" stroke="#f070b0" stroke-width="0.45" stroke-opacity="0.75"/>
<path d="M33.6 221.5l27-7.3 17-4 15-2.7 21-2.6 1-.4 1-1.9 1-2.9 6-24.9 1-2.3 1-1 23-3.5 22-3.9 21-4.3 26.6-6.3 2-14.4 1-4.7 1-3.2 1.3-2.7 1.3-1.6 1.7-1.3 2.3-.8" stroke="#f070b0" stroke-width="0.40" stroke-opacity="0.60"/>
<path d="M33.6 221.5l28-7.5 17-4 17-3 18-2.1 1 .3 1 1.7 4 12.3 1 1.9 1 .4 5 0" stroke="#2020b0" stroke-width="0.45" stroke-opacity="0.75"/>
<path d="M28.5 221.5l14-19.9 7-9.1 6-6.2 3-2.3 4-2.4 7-2.7 9-1.9 49-6.2 17-2.5 17-3 26-5.3 29.5-7 1.8-13.7 1-4.9 1-3.4 1.2-2.6 1.5-1.9 1.7-1.2 2.6-.7" stroke="#d040d0" stroke-width="0.55" stroke-opacity="0.90"/>
<path d="M34.5 221.5l32-6.8 20-3.7 20-2.6 25-2.1 3-1.4 4-3.7 4-5 11-15.6 4-4.3 3-2.1 2-.6 26-3 28.5-3.9.2-.6 1.6-24.3.7-6.2 1-5 1-2.8 1.5-2.1 1.8-1 3-.4" stroke="#e04090" stroke-width="0.40" stroke-opacity="0.60"/>
<path d="M34.5 221.5l32-6.8 20-3.7 21-2.7 23-1.8 1 .6 1 1.2 5 10.5 1 1.6 1 .9 1 .2 5 0" stroke="#e03030" stroke-width="0.45" stroke-opacity="0.75"/>
<path d="M28.5 222.2l16-21 8-9.3 4-3.7 4-2.9 4-2.2 4-1.6 7-1.8 8-1.4 46-5.3 30-4.2 26-4.6 31.7-6.5.3-.4 1.5-19 .8-4.9 1-4 1-2.2 1.4-1.7 1.8-.8 2.8-.4" stroke="#208080" stroke-width="0.55" stroke-opacity="0.90"/>
<path d="M31.2 221.5l23-8.4 15-4.9 14-3.7 15-2.7 16-1.8 19-1.3 28-1 41-.6 2-.5 2-1.7 3-4.4 3-6.2 4-10.3.8 0 1.5-27 .7-8.1 1-6.5 1-3.7 1.6-2.6 2-1.3 3-.5" stroke="#60b030" stroke-width="0.40" stroke-opacity="0.60"/>
<path d="M31.2 221.5l24-8.8 15-4.8 14-3.6 15-2.6 17-1.9 21-1.3 27-.9 38-.5 1 .5 1 2.2 4 16.2 1 3.2 1 2 1 .3 5 0" stroke="#40c060" stroke-width="0.45" stroke-opacity="0.75"/>
<path d="M28.5 221.4l17-21.5 8-8.7 4-3.5 4-2.8 4-2.1 4-1.5 7-1.9 9-1.4 47-5.2 30-4.1 26-4.3 28.5-5.5 1.5-18.9.7-5.1 1-4.4 1.3-3 1.5-1.8 2-1 2.8-.4" stroke="#3050e0" stroke-width="0.55" stroke-opacity="0.90"/>
<path d="M32.8 221.5l22-8.1 13-4.4 13-3.6 12-2.6 14-2 15-1.5 21-1.2 28-.8 1-.5 2-2.8 2-4.8 8-26 2-4.6 1-1.6 1-.8 29.2-8.2 1.5-11.6 1-4.4 1-2.9 1.3-2.1 1.4-1.4 2-.9 2.6-.3" stroke="#2020b0" stroke-width="0.40" stroke-opacity="0.60"/>
<path d="M32.8 221.5l22-8.1 14-4.7 13-3.6 12-2.5 14-2 17-1.5 20-1 26-.8 1 .9 1 1.9 5 16.7 1 2.6 1 1.6 1 .5 5 0" stroke="#2020b0" stroke-width="0.45" stroke-opacity="0.75"/>
<path d="M36.1 221.5l34-7.9 1-.3 1-.7 2-2.6 2-3.9 8-20.3 2-4.5 3-4.8 2-1.4 34-4.2 29-4.6 28-5.5 17-3.9 17-4.3 1.1 0 1.8-13.4 1-4.8 1-3.3 1.2-2.6 1.6-1.9 1.7-1.2 2.3-.7" stroke="#3050e0" stroke-width="0.40" stroke-opacity="0.60"/>
<path d="M36.1 221.5l35-8.1 1 .4 1 .9 4 5.4 1 1 1 .4 6 0" stroke="#40c060" stroke-width="0.45" stroke-opacity="0.75"/>
<path d="M28.5 222.6l14-20.8 7-9.4 3-3.4 3-2.9 3-2.3 4-2.3 6-2.2 8-1.8 48-6.3 17-2.7 16-2.9 28-6.1 31-8 .7 0 1.8-14.6 1.8-7.3 1.2-2.4 1.2-1.4 1.8-.9 2.8-.5" stroke="#9060e0" stroke-width="0.55" stroke-opacity="0.90"/>
<path d="M34.5 221.5l33-8.6 11-2.4 11-2.1 12-1.7 12-1.3 29-1.9 1-.5 1-1.6 1-2.3 5-16.8 2-5.2 1-1.5 1-.4 30-3.1 32.5-4 1.8-20.6 1-7.7 1-5.2 1.2-4.1 1.5-2.8 1.7-1.8 2.6-1.1" stroke="#60b030" stroke-width="0.40" stroke-opacity="0.60"/>
<path d="M34.5 221.5l33-8.6 11-2.4 11-2.1 12-1.7 12-1.3 29-1.9 1 .2 2 2.2 6 12.1 2 2.8 1 .6 6 .1" stroke="#30a030" stroke-width="0.45" stroke-opacity="0.75"/>
<path d="M28.5 221.1l16-20.7 8-9.1 4-3.7 4-2.9 4-2.2 5-2 7-1.8 8-1.3 46-5.2 30-4.1 26-4.4 30.7-6.1.3-.5 1.7-16.3 1.8-8.3 1.2-3.2 1.6-2.3 1.7-1.4 2.3-.8" stroke="#60b030" stroke-width="0.55" stroke-opacity="0.90"/>
<path d="M31.4 221.5l24-9 14-4.6 13-3.6 14-2.7 15-2.1 19-1.6 25-1.2 36-1.2 2-.4 2-1.4 3-3.8 3-5.3 10-20.9 3-4.5 2-1.8.6 0 1.8-16.4 1-5.9 1-3.8 1.2-3 1.5-1.9 1.7-1.2 2.6-.7" stroke="#d040d0" stroke-width="0.40" stroke-opacity="0.60"/>
<path d="M31.4 221.5l24-9 14-4.6 13-3.6 14-2.7 16-2.2 19-1.5 25-1.3 35-1.1 1 .1 1 1.4 1 2.5 4 14.7 2 5.8 1 1.4 6 .1" stroke="#30a030" stroke-width="0.45" stroke-opacity="0.75"/>
<path d="M28.5 220.7l17-19.4 9-9.1 5-4 4-2.6 4-2 5-1.8 7-1.7 9-1.4 48-4.7 23-2.6 26-3.4 31.7-4.9.3-.4 1.7-18.9 1-6.2 1-4.3 1.3-3.5 1.3-2.1 1.7-1.7 2.3-1.1" stroke="#208080" stroke-width="0.55" stroke-opacity="0.90"/>
<path d="M36.9 221.5l37-8.3 13-2.4 12-1.8 12-1.5 14-1.2 19-1.2 23-.9 2-.5 3-2.4 3-4.1 3-5.3 9-17.5 3-4.6 2-2.2 2-1.3 1-.3 22.1-3.8 1.5-19.4 1-7.2 1-4.4 1.3-3.2 1.4-2 1.8-1 2.8-.6" stroke="#20a0a0" stroke-width="0.40" stroke-opacity="0.60"/>
<path d="M36.9 221.5l38-8.5 13-2.4 12-1.8 13-1.5 15-1.2 39-1.9 1 .1 1 .6 2 2.3 6 10.5 2 2.7 1 .8 1 .3 6 0" stroke="#4090e0" stroke-width="0.45" stroke-opacity="0.75"/>
<path d="M34.4 221.5l25-6 15-3.3 15-2.7 15-2.1 2-.5 3-2.6 3-4.1 10-18.1 3-4.8 3-3.5 2-1.3 26-3.9 18-2.9 18-3.4 24.8-5.1 1.8-15.8 1-5.5 1-3.8 1.2-3.1 1.6-2.1 1.7-1.3 2.3-.8" stroke="#60b030" stroke-width="0.40" stroke-opacity="0.60"/>
<path d="M34.4 221.5l26-6.2 15-3.3 14-2.5 15-2.1 1 .1 2 1.3 2 2.6 4 6.6 2 2.5 1 .7 1 .3 5 0" stroke="#9060e0" stroke-width="0.45" stroke-opacity="0.75"/>
<path d="M28.5 220.4l16-22.1 7-8.5 4-3.9 4-3 4-2.3 4-1.6 6-1.7 8-1.4 45-5.4 31-4.8 28-5.3 31.7-7.1 1.6-15.5.7-4.4 1-3.7 1-2.2 1.5-1.8 2-1 2.8-.4" stroke="#f09030" stroke-width="0.55" stroke-opacity="0.90"/>
<path d="M32.6 221.5l29-11.5 10-3.5 9-2.6 10-2.4 10-1.8 10-1.3 14-1.5 2-1.1 2-2.2 10-15.9 2-2.2 2-1.4 38-4.8 36.6-5.6.3-.8 1.5-20.4.8-5.7 1-4.9 1-3.1 1.4-2.4 1.8-1.3 2.8-.7" stroke="#f070b0" stroke-width="0.40" stroke-opacity="0.60"/>
<path d="M32.6 221.5l29-11.5 10-3.5 9-2.6 10-2.4 10-1.8 11-1.5 12-1.1 1 .3 1 2 4 16 1 3.4 1 2.2 1 .5 5 0" stroke="#e04090" stroke-width="0.45" stroke-opacity="0.75"/>
<path d="M28.5 222.6l17-20.3 5-5.5 4-3.9 4-3.3 4-2.7 4-2 5-1.9 7-1.7 10-1.5 47-4.9 30-3.7 24-3.6 27.5-4.7 1.8-21.5.7-5.3 1-4.6 1.3-3.3 1.4-2.1 1.8-1.1 2.8-.6" stroke="#40c060" stroke-width="0.55" stroke-opacity="0.90"/>
<path d="M34.7 221.5l27-8.3 17-4.5 17-3.3 19-2.4 1-.7 1-2.2 2-7.6 4-18.1 1-3.1 1-1.9 1-.5 27-4.8 20-4.4 21-5.2 23.3-6.5 1.5-12.7.7-3.9 1-3.2 1-1.7 1.6-1.4 2-.6 3-.3" stroke="#9060e0" stroke-width="0.40" stroke-opacity="0.60"/>
<path d="M34.7 221.5l27-8.3 17-4.5 17-3.3 19-2.4 1 .3 1 1 1 1.6 5 11.6 2 3.3 1 .7 6 0" stroke="#e03030" stroke-width="0.45" stroke-opacity="0.75"/>
<path d="M28.5 221.6l18-19.6 9-8.6 5-3.8 4-2.5 5-2.3 5-1.7 7-1.6 10-1.5 71-6.7 26-3.2 28.5-4 2-21.2 1-6.4 1-4.4 1.2-3.7 1.6-2.7 1.7-1.7 2.3-1" stroke="#2020b0" stroke-width="0.55" stroke-opacity="0.90"/>
<path d="M34.4 221.5l25-7.7 14-3.9 2-.8 3-2.4 3-3.4 11-16.3 4-5.3 4-3.8 3-1.5 33-3.7 25-3.3 25-4 30.8-5.7.3-.2 1.7-19.6 1.8-8.8 1.2-3 1.3-1.7 1.7-1.2 2.6-.7" stroke="#e04090" stroke-width="0.40" stroke-opacity="0.60"/>
<path d="M34.4 221.5l25-7.7 14-3.9 1 0 1 .6 1 1.1 4 6.6 2 2.7 1 .6 6 0" stroke="#3050e0" stroke-width="0.45" stroke-opacity="0.75"/>
<path d="M34.4 221.5l23-6.7 14-3.7 12-2.7 14-2.6 2-1.7 2-3 10-21.4 2-3 2-1.7 29-3.5 23-3.3 23-3.9 26.6-5.1 1.5-19.1.7-5.7 1-4.5 1-2.6 1.6-1.8 2-.9 3-.3" stroke="#30a030" stroke-width="0.40" stroke-opacity="0.60"/>
<path d="M34.4 221.5l23-6.7 14-3.7 13-2.9 12-2.1 1 0 1 .8 1 1.4 5 10.2 2 2.7 1 .3 5 0" stroke="#9060e0" stroke-width="0.45" stroke-opacity="0.75"/>
<path d="M28.5 222l16-20.7 8-9.2 4-3.7 4-2.9 4-2.2 4-1.6 7-1.9 8-1.4 47-5.3 31-4.4 26-4.5 29.5-6 1.8-16.7 1-5.7 1-3.8 1.2-3 1.5-2.2 1.7-1.3 2.6-.8" stroke="#c03060" stroke-width="0.55" stroke-opacity="0.90"/>
<path d="M31.1 221.5l30-12.5 10-3.5 9-2.7 10-2.4 11-1.9 11-1.4 17-1.6 2-1.3 2-2.2 9-13.1 2-1.9 2-1 33-3.2 38.1-4.5 2-22.2 1.8-10.6 1.2-4.3 1.6-3.1 1.7-1.9 2.3-1.2" stroke="#20a0a0" stroke-width="0.40" stroke-opacity="0.60"/>
<path d="M31.1 221.5l30-12.5 10-3.5 9-2.7 10-2.4 11-1.9 12-1.5 15-1.3 1 .4 1 1.2 1 2 6 17.4 2 3.9 1 .8 6 .1" stroke="#208080" stroke-width="0.45" stroke-opacity="0.75"/>
<path d="M28.5 221.7l16-21.6 7-8.3 4-3.9 4-3.1 4-2.3 4-1.7 7-1.9 8-1.4 46-5.4 31-4.6 26-4.8 31.7-6.7 1.6-17.4.7-4.8 1-4 1-2.4 1.5-1.8 2-.9 2.8-.4" stroke="#30b0d0" stroke-width="0.55" stroke-opacity="0.90"/>
<path d="M33.5 221.5l24-8.2 15-4.6 14-3.3 14-2.5 16-1.8 20-1.3 27-1 38-.8 2-.4 2-1.2 3-3.3 4-6.8 4-8.7.7 0 1.8-27.7 1.8-13.9 1.2-5 1.5-3.3 1.7-1.9 2.6-1.1" stroke="#30a030" stroke-width="0.40" stroke-opacity="0.60"/>
<path d="M33.5 221.5l24-8.2 15-4.6 14-3.3 15-2.6 17-1.8 20-1.3 26-1 37-.7 1 .2 1 1 1 1.8 5 14.1 2 4.6 1 1.3 1 .5 3 0" stroke="#20a0a0" stroke-width="0.45" stroke-opacity="0.75"/>
<path d="M28.5 222.1l17-20.5 8-8.5 4-3.5 4-2.8 4-2.1 5-2 7-1.8 10-1.7 49-5.1 30-3.8 23-3.5 27.5-4.8 1.8-20.4.7-5.4 1-4.7 1.3-3.4 1.4-2.1 1.8-1 2.8-.6" stroke="#8040c0" stroke-width="0.55" stroke-opacity="0.90"/>
<path d="M30.6 221.5l22-9.7 13-5.3 12-4 12-3 14-2.5 16-1.8 18-1.3 29-1.4 2-1.4 3-4.3 9-19.3 2-3.3 2-2.3 2-.8 30.4-7 1.8-16.8.7-4.2 1-3.6 1-2.1 1.5-1.8 2-.9 2.8-.4" stroke="#30b0d0" stroke-width="0.40" stroke-opacity="0.60"/>
<path d="M30.6 221.5l22-9.7 13-5.3 12-4 12-3 14-2.5 16-1.8 20-1.4 26-1.1 1 .3 1 1.3 1 2.1 6 19.4 2 4.5 1 1.1 6 .1" stroke="#9060e0" stroke-width="0.45" stroke-opacity="0.75"/>
<path d="M31 221.5l23-8.9 13-4.6 13-3.7 13-2.8 14-2.1 16-1.5 22-1.3 30-1.1 1-.4 2-2.3 2-3.9 9-25.2 3-5.9 1-1 1-.6 23.2-6.1 1.8-14.6.8-3.7 1-3.2 1-1.8 1.4-1.4 1.8-.8 2.8-.3" stroke="#f070b0" stroke-width="0.40" stroke-opacity="0.60"/>
<path d="M31 221.5l23-8.9 13-4.6 13-3.7 13-2.8 15-2.2 17-1.6 21-1.2 28-.9 1 0 1 .9 1 1.9 5 16.8 2 5 1 1.2 6 .1" stroke="#208080" stroke-width="0.45" stroke-opacity="0.75"/>
<path d="M28.5 222.6l20-19.1 10-8.3 5-3.3 5-2.7 5-2 5-1.5 9-1.9 13-1.6 69-5.2 47.5-4.6 2-24.3 1-7.7 1-5.2 1.2-4.2 1.6-3 1.7-1.9 2.3-1.1" stroke="#208080" stroke-width="0.55" stroke-opacity="0.90"/>
<path d="M35.5 221.5l30-6.9 18-3.6 18-2.7 21-2.1 2-1.6 2-3.3 3-7 7-19.4 3-5.9 2-2.1 21-4.2 17-3.7 16-4 21.7-5.9 1.6-11.6 1-4.5 1-3 1.2-2.4 1.5-1.6 1.7-.9 2.6-.6" stroke="#60b030" stroke-width="0.40" stroke-opacity="0.60"/>
<path d="M35.5 221.5l31-7.1 18-3.5 19-2.8 19-1.8 1 .3 2 1.9 6 9.3 2 2.5 2 1.2 6 0" stroke="#60b030" stroke-width="0.45" stroke-opacity="0.75"/>
<path d="M28.5 222l17-20.3 5-5.4 4-3.9 4-3.3 4-2.7 4-2 5-1.9 7-1.7 10-1.6 48-4.9 30-3.7 23-3.5 27.5-4.7 1.8-20.9.7-5.5 1-4.7 1-2.8 1.5-2.3 2-1.3 2.8-.5" stroke="#2020b0" stroke-width="0.55" stroke-opacity="0.90"/>
<path d="M31 221.5l31-11.8 10-3.2 10-2.7 11-2.3 11-1.7 13-1.4 15-1.1 1-.5 2-2.8 7-16.7 2-2.8 1-.5 36-4.4 36-5.5 2-19.8 1-6.3 1-4.3 1.2-3.6 1.6-2.5 1.7-1.7 2.3-1" stroke="#4090e0" stroke-width="0.40" stroke-opacity="0.60"/>
<path d="M31 221.5l31-11.8 10-3.2 10-2.7 11-2.3 11-1.7 13-1.4 15-1.1 1 .4 2 2.5 2 4.2 5 12.4 2 3.5 1 .9 1 .3 5 0" stroke="#208080" stroke-width="0.45" stroke-opacity="0.75"/>
<path d="M352.5 221.1l16-21.6 7-8.3 4-3.9 4-3.1 4-2.3 4-1.7 7-1.9 8-1.4 45-5.3 31-4.6 27-4.9 31.7-6.8.3-.4 1.7-16.5 1.8-7.6 1.2-2.8 1.3-1.6 1.7-1.2 2.6-.7" stroke="#30b0d0" stroke-width="0.55" stroke-opacity="0.90"/>
<path d="M354.8 221.5l21-8.6 13-4.8 12-3.8 11-2.6 13-2.2 14-1.6 15-1.1 25-1 1-.3 1-1.2 2-4.7 5-16.2 2-4.1 1-.7 24-3.9 26.4-5 1.8-19.5.8-5 1-4.4 1-2.6 1.4-2.1 1.8-1.1 2.8-.6" stroke="#2020b0" stroke-width="0.40" stroke-opacity="0.60"/>
<path d="M354.8 221.5l21-8.6 13-4.8 12-3.8 11-2.6 13-2.2 15-1.7 17-1.2 22-.8 1 .3 1 1.8 1 3 4 15.9 1 2.9 1 1.6 6 .2" stroke="#d040d0" stroke-width="0.45" stroke-opacity="0.75"/>
<path d="M352.5 220.9l16-21 8-9.2 4-3.7 4-2.9 4-2.2 4-1.6 7-1.9 8-1.3 46-5.3 31-4.4 26-4.6 30.7-6.3 1.6-17.2.7-5.1 1-4.3 1-2.4 1.5-1.9 2-.9 2.8-.4" stroke="#8040c0" stroke-width="0.55" stroke-opacity="0.90"/>
<path d="M360.4 221.5l30-6.4 18-3.4 18-2.5 19-1.8 1-.7 1-1.3 2-4.2 8-24.7 2-4.2 1-1.3 1-.6 21-3.3 21-3.8 19-4 18-4.1.8 0 1.8-14.5 1-5.5 1-3.6 1.2-2.9 1.6-2 1.7-1.3 2.3-.7" stroke="#8040c0" stroke-width="0.40" stroke-opacity="0.60"/>
<path d="M360.4 221.5l30-6.4 18-3.4 18-2.5 19-1.8 1 .3 2 1.9 6 9.6 2 2 1 .3 6 0" stroke="#3050e0" stroke-width="0.45" stroke-opacity="0.75"/>
<path d="M352.5 221.5l14-20.1 7-9.1 6-6.2 3-2.4 4-2.3 7-2.7 9-1.9 49-6.2 17-2.6 16-2.8 26-5.4 30.7-7.3 1.8-13 2-8.1 1.2-2.7 1.6-1.9 1.7-1.3 2.3-.7" stroke="#e04090" stroke-width="0.55" stroke-opacity="0.90"/>
<path d="M357.8 221.5l37-9.5 13-2.7 13-2.1 13-1.6 14-1.1 22-1.2 30-.9 3-.9 3-2.3 4-4.8 4-6.2 10-17.3 3-4.4 2-2.4 2-1.9 2-1.2 8.2-1.8 2-17.6 1-5.4 1-3.7 1.2-3.1 1.6-2.3 1.7-1.4 2.3-.9" stroke="#f09030" stroke-width="0.40" stroke-opacity="0.60"/>
<path d="M357.8 221.5l24-6.4 14-3.4 13-2.6 13-2.1 15-1.6 17-1.3 20-.9 26-.8 1 .4 2 2.4 6 12.4 2 3 1 .7 1 .2 5 0" stroke="#30b0d0" stroke-width="0.45" stroke-opacity="0.75"/>
<path d="M358 221.5l31-8.9 21-5 2-1.8 2-3.1 9-19.2 2-3 2-1.8 1-.3 34-3 26-2.7 23-2.9 30-4.2 1.8-21.7 1-7.1 1-4.6 1.2-3.4 1.5-2.3 1.7-1.3 2.6-.7" stroke="#4090e0" stroke-width="0.40" stroke-opacity="0.60"/>
<path d="M358 221.5l31-8.9 20-4.7 1 .1 1 .7 1 1.4 4 8 2 2.9 1 .5 6 0" stroke="#c03060" stroke-width="0.45" stroke-opacity="0.75"/>
<path d="M352.5 221.5l17-19.6 9-9.1 5-4 4-2.6 4-1.9 5-1.8 7-1.7 8-1.3 49-4.9 23-2.6 27-3.6 30.5-4.8.2-.7 1.6-22 .7-5.7 1-4.8 1-2.6 1.5-2.1 2-1 2.8-.4" stroke="#f070b0" stroke-width="0.55" stroke-opacity="0.90"/>
<path d="M358.3 221.5l29-6.9 17-3.5 16-2.5 21-2.3 2-.5 3-2.1 4-4.6 10-15.5 4-5.5 3-3 3-1.5 34-4.4 36.9-5.7 1.8-19.1 1-6.8 1-4.6 1.2-3.5 1.6-2.5 1.7-1.4 2.3-.9" stroke="#c03060" stroke-width="0.40" stroke-opacity="0.60"/>
<path d="M358.3 221.5l29-6.9 18-3.7 17-2.6 19-2 1 .1 2 1.9 6 10.3 2 2.4 1 .5 6 0" stroke="#9060e0" stroke-width="0.45" stroke-opacity="0.75"/>
<path d="M352.5 221.7l14-21.1 7-9.6 3-3.4 3-2.8 3-2.3 4-2.3 6-2.2 8-1.7 47-6.3 17-2.7 16-3 28-6.1 16-4.1 16-4.4.7 0 .3-.5 1.5-14.6 1.5-6.1 1-1.9 1.5-1.4 1.8-.7 3-.3" stroke="#20a0a0" stroke-width="0.55" stroke-opacity="0.90"/>
<path d="M357.9 221.5l30-11.1 10-3.2 9-2.4 10-2.1 10-1.7 12-1.4 14-1.2 2-.5 4-1.9 4-3 12-11.5 4-3.3 3-2 3-1.3 56.1-6.8 1.8-24.6.7-6.2 1-5.3 1-3.1 1.5-2.5 2-1.4 2.8-.6" stroke="#e04090" stroke-width="0.40" stroke-opacity="0.60"/>
<path d="M357.9 221.5l30-11.1 10-3.2 9-2.4 10-2.1 10-1.7 12-1.4 13-1.1 1 .3 1 1.2 1 1.9 5 13.8 2 4.3 1 1.2 1 .3 5 0" stroke="#4090e0" stroke-width="0.45" stroke-opacity="0.75"/>
<path d="M352.5 222.5l17-20.4 8-8.6 4-3.4 4-2.8 4-2.2 5-2 7-1.8 10-1.6 48-5 30-3.8 23-3.5 28.7-5 2-19.4 1.8-9.4 1.2-3.7 1.6-2.5 1.7-1.6 2.3-1" stroke="#3050e0" stroke-width="0.55" stroke-opacity="0.90"/>
<path d="M356.4 221.5l21-9 13-5.1 11-3.7 14-3.7 2-2 2-3.2 8-15.8 2-2.8 2-1.5 30-3.7 25-3.8 25-4.5 29.6-6.2 1.8-15.5 1-5.6 1-3.8 1.2-3 1.5-2 1.7-1.3 2.6-.7" stroke="#8040c0" stroke-width="0.40" stroke-opacity="0.60"/>
<path d="M356.4 221.5l21-9 13-5.1 12-4 12-3 1 .2 1 .8 1 1.4 2 4 4 9.8 2 3.6 1 1 1 .3 5 0" stroke="#f070b0" stroke-width="0.45" stroke-opacity="0.75"/>
<path d="M356.6 221.5l27-9.2 16-4.7 15-3.3 10-1.6 11-1.3 2-.7 2-1.9 3-4.5 8-16.2 3-5.4 2-2.6 2-1.6 23-4.2 18-3.8 18-4.3 24.6-6.5 1.8-13.3 1.8-6.8 1.2-2.4 1.5-1.5 1.7-.8 2.6-.5" stroke="#3050e0" stroke-width="0.40" stroke-opacity="0.60"/>
<path d="M356.6 221.5l27-9.2 17-4.9 17-3.6 18-2.4 1 .1 1 1 1 1.6 5 12.9 2 3.7 1 .8 6 0" stroke="#f070b0" stroke-width="0.45" stroke-opacity="0.75"/>
<path d="M352.5 220.8l17-19.8 5-5.4 4-3.9 4-3.3 4-2.7 4-2 5-1.9 7-1.8 8-1.3 49-5 23-2.7 27-3.7 31.7-5.1 1.8-20.5.8-5.4 1-4.7 1.2-3.4 1.2-1.8 1.8-1.3 2.8-.7" stroke="#4090e0" stroke-width="0.55" stroke-opacity="0.90"/>
<path d="M356.9 221.5l23-9.2 15-5.3 14-3.8 14-2.8 15-1.8 19-1.4 27-1 39-.7 2-.6 2-1.7 3-4.1 8-14.9 2-3.3 1.3-1.7 1.6-20.4 1-8.2 1-5.4 1.2-4.4 1.5-3 1.7-1.8 2.6-1.2" stroke="#40c060" stroke-width="0.40" stroke-opacity="0.60"/>
<path d="M356.9 221.5l23-9.2 15-5.3 14-3.8 14-2.8 17-2 20-1.4 26-.9 37-.6 1 1 1 2.6 4 16.9 1 3.3 1 1.9 1 .3 5 0" stroke="#60b030" stroke-width="0.45" stroke-opacity="0.75"/>
<path d="M352.5 222.7l19-18.7 10-8.7 5-3.5 5-2.7 5-2.1 5-1.6 9-1.9 12-1.5 69-5.5 49.5-5.1 2-23.7 1-7.5 1-5.1 1.2-4.2 1.6-2.9 1.7-1.9 2.3-1.1" stroke="#e04090" stroke-width="0.55" stroke-opacity="0.90"/>
<path d="M356.3 221.5l21-8.8 13-4.9 12-3.9 12-2.9 13-2.3 15-1.8 16-1.2 27-1.2 2-.3 3-1.3 3-2.1 13-12.5 3-2.3 2-1 3-.8 26.9-2.6 1.8-23.5 1-8 1-5.4 1.2-4.2 1.6-2.9 1.7-1.7 2.3-1" stroke="#e03030" stroke-width="0.40" stroke-opacity="0.60"/>
<path d="M356.3 221.5l21-8.8 13-4.9 12-3.9 12-2.9 14-2.5 15-1.7 18-1.2 24-1.1 1 .5 1 1.5 1 2.4 5 16.6 2 4.8 1 1.1 6 .1" stroke="#9060e0" stroke-width="0.45" stroke-opacity="0.75"/>
<path d="M352.5 220.9l20-18.6 10-8.2 5-3.3 5-2.7 5-2.1 6-1.8 10-2 13-1.5 68-4.9 46.7-4.1 1.6-24.6.7-7.1 1-6.1 1.3-4.5 1.4-2.7 1.8-1.5 2.8-.7" stroke="#2020b0" stroke-width="0.55" stroke-opacity="0.90"/>
<path d="M357.6 221.5l35-9.9 12-2.8 12-2.1 12-1.7 13-1.2 18-1.1 23-.8 2-.5 3-2.3 3-3.7 3-4.8 10-17.6 3-4 2-1.8 2-1 30.6-5.5 1.6-17.3 1-6.8 1-4.4 1.2-3.3 1.5-2.3 1.7-1.3 2.6-.7" stroke="#9060e0" stroke-width="0.40" stroke-opacity="0.60"/>
<path d="M357.6 221.5l35-9.9 12-2.8 12-2.1 13-1.8 15-1.3 17-1 21-.7 1 .4 2 2.9 5 12.3 2 3.3 1 .7 6 0" stroke="#f09030" stroke-width="0.45" stroke-opacity="0.75"/>
<path d="M357.3 221.5l23-6.7 13-3.4 12-2.7 12-2.2 12-1.6 14-1.3 19-1.2 23-.8 2-.5 2-1.3 3-3.3 11-16.8 3-3.4 2-1.4 2-.5 31.2-3.1 1.5-26.5.8-7 1-5.8 1-3.3 1.4-2.6 1.8-1.2 2.8-.6" stroke="#e04090" stroke-width="0.40" stroke-opacity="0.60"/>
<path d="M357.3 221.5l23-6.7 13-3.4 12-2.7 12-2.2 13-1.7 15-1.4 18-1 22-.8 1 .2 1 .7 2 2.8 6 12.1 2 3 1 .8 1 .3 6 0" stroke="#2020b0" stroke-width="0.45" stroke-opacity="0.75"/>
<path d="M352.5 220.9l20-18.6 10-8.1 5-3.4 5-2.6 5-2.1 6-1.9 10-1.9 13-1.5 68-4.9 46.5-4.1 1.8-22.8 1-7.7 1-5.4 1.2-4.4 1.5-3.1 1.7-2 2.6-1.4" stroke="#60b030" stroke-width="0.55" stroke-opacity="0.90"/>
<path d="M354.4 221.5l21-9.2 13-5.2 12-4 11-2.9 13-2.4 14-1.7 19-1.4 26-1.1 2-.7 2-1.6 2-2.4 10-16.3 2-2.5 2-1.7 2-.7 35.8-6 1.8-18.1 1-6.1 1-4.2 1.2-3.4 1.6-2.5 1.7-1.6 2.3-.9" stroke="#f070b0" stroke-width="0.40" stroke-opacity="0.60"/>
<path d="M354.4 221.5l21-9.2 13-5.2 12-4 12-3.1 13-2.3 16-1.9 19-1.3 23-.9 1 .7 2 4.1 5 16.5 2 5 1 1.3 1 .3 5 0" stroke="#30a030" stroke-width="0.45" stroke-opacity="0.75"/>
<path d="M352.5 222.2l19-19.8 9-8.3 5-3.6 4-2.3 5-2.3 5-1.7 8-1.7 11-1.6 69-6.1 24-2.6 29.7-3.8 1.6-23 .7-7.1 1-6 1-3.4 1.5-2.6 2-1.4 2.8-.6" stroke="#30b0d0" stroke-width="0.55" stroke-opacity="0.90"/>
<path d="M357.8 221.5l27-9.7 17-5.2 8-1.9 9-1.8 10-1.6 11-1.3 1-.3 1-.9 2-2.8 8-16.2 2-2.5 1-.7 45-4.7 41.4-5.4 1.8-22.8 1.8-10.9 1.2-3.8 1.2-2.2 1.8-1.4 2.8-.9" stroke="#60b030" stroke-width="0.40" stroke-opacity="0.60"/>
<path d="M357.8 221.5l28-10 17-5.2 8-1.9 9-1.7 10-1.5 10-1.1 1 .6 1 1.8 4 12.5 2 5.2 1 1.2 6 .1" stroke="#40c060" stroke-width="0.45" stroke-opacity="0.75"/>
<path d="M352.5 221.7l14-21 7-9.5 3-3.4 3-2.8 3-2.3 4-2.3 6-2.2 8-1.8 47-6.2 17-2.7 16-2.9 28-6.1 16-4.1 16-4.4.7 0 1.8-12.8 1-4.2 1-2.9 1.2-2.3 1.6-1.6 1.7-1 2.3-.6" stroke="#20a0a0" stroke-width="0.55" stroke-opacity="0.90"/>
<path d="M355.4 221.5l22-9.7 13-5.1 12-3.9 13-3.2 14-2.3 16-1.6 18-1 31-1 1-.2 2-1.8 2-3.3 3-6.7 6-15.3 2-4 2-2.8 1-.7 1-.3 26-6.5.8 0 1.6-14.9.7-4.6 1-3.6 1-2.1 1.5-1.6 1.8-.7 3-.3" stroke="#f09030" stroke-width="0.40" stroke-opacity="0.60"/>
<path d="M355.4 221.5l22-9.7 13-5.1 12-3.9 13-3.2 14-2.3 17-1.6 21-1.2 27-.8 1 1.2 1 3.3 3 15.3 1 4.4 1 2.9 1 .7 5 0" stroke="#f09030" stroke-width="0.45" stroke-opacity="0.75"/>
<path d="M358 221.5l31-8.6 12-2.9 11-2.2 2-.7 3-2 3-3 11-14.2 3-3.4 4-3.5 3-1.4 55-4.3 45.2-4.6 2-24.5 1.8-11.4 1.2-4.3 1.6-3 1.7-1.7 2.3-1" stroke="#e04090" stroke-width="0.40" stroke-opacity="0.60"/>
<path d="M358 221.5l33-9.1 11-2.6 10-2 1 .2 2 1.6 6 9.5 2 2 1 .4 6 0" stroke="#3050e0" stroke-width="0.45" stroke-opacity="0.75"/>
<path d="M352.5 222.3l16-22.4 7-8.6 4-3.9 3-2.3 4-2.5 4-1.7 6-1.8 8-1.5 45-5.5 31-4.8 28-5.4 32.7-7.5 1.8-16.9.8-4.2 1-3.6 1-2.2 1.4-1.8 1.8-.9 2.8-.5" stroke="#60b030" stroke-width="0.55" stroke-opacity="0.90"/>
<path d="M356.4 221.5l25-8.7 16-4.8 14-3.3 18-2.8 1-.4 2-1.6 2-2.3 8-12.7 3-4.3 2-2 2-1.2 48-4.8 43.6-5.6 2-21.7 1-6.8 1-4.6 1.2-3.8 1.6-2.6 1.7-1.6 2.3-1" stroke="#4090e0" stroke-width="0.40" stroke-opacity="0.60"/>
<path d="M356.4 221.5l25-8.7 16-4.8 15-3.4 16-2.5 1 0 1 .6 1 1.3 2 3.8 4 9.4 2 3.3 1 .8 1 .2 5 0" stroke="#2020b0" stroke-width="0.45" stroke-opacity="0.75"/>
<path d="M352.5 221.3l14-20.6 7-9.4 3-3.4 3-2.8 3-2.3 4-2.3 6-2.3 9-2 48-6.2 17-2.7 16-2.9 28-6 30.5-7.7 1.8-14 1.7-7.1 1.3-2.4 1.4-1.5 1.8-.9 2.8-.4" stroke="#2020b0" stroke-width="0.55" stroke-opacity="0.90"/>
<path d="M355.2 221.5l29-11 9-3 9-2.6 9-2.1 10-1.8 23-2.7 1-.7 2-2.8 7-13.9 2-2.3 1-.4 41-3.4 42.8-4.4 1.5-25.7.7-7.3 1-5.9 1-3.2 1.6-2.4 2-1.2 3-.4" stroke="#c03060" stroke-width="0.40" stroke-opacity="0.60"/>
<path d="M355.2 221.5l29-11 9-3 9-2.6 9-2.1 10-1.8 10-1.4 12-1.1 1 .4 1 2.4 4 17.4 1 2.4 1 .4 5 0" stroke="#9060e0" stroke-width="0.45" stroke-opacity="0.75"/>
<path d="M352.5 222l20-18.6 10-8.3 5-3.3 5-2.7 5-2 6-1.8 10-2 13-1.5 68-4.9 46.5-4.2 1.5-24.7 1-9.3 1-5.6 1.3-4.1 1.4-2.5 1.8-1.3 2.8-.8" stroke="#208080" stroke-width="0.55" stroke-opacity="0.90"/>
<path d="M359.4 221.5l24-6.3 15-3.6 14-2.7 15-2.2 15-1.4 17-1 26-.9 36-.5 2-.7 3-2.8 3-4.5 4-8 7-16.1.6 0 .2-.7 1.8-23.4 1-7.5 1-5 1.2-4 1.6-2.7 1.7-1.7 2.3-1" stroke="#e03030" stroke-width="0.40" stroke-opacity="0.60"/>
<path d="M359.4 221.5l25-6.6 15-3.5 14-2.7 15-2.1 17-1.5 19-1 24-.8 32-.4 1 0 1 .6 1 1.3 2 4.2 3 7.4 2 3.8 1 1 1 .3 5 0" stroke="#20a0a0" stroke-width="0.45" stroke-opacity="0.75"/>
<path d="M359.2 221.5l25-7.1 15-3.8 14-2.9 14-2.1 16-1.7 18-1.2 26-1.1 37-1 2-.5 2-1.9 3-5.3 3-7.3 6-16.7.8 0 1.8-22.7 1-7.9 1-5 1.2-3.9 1.5-2.5 1.7-1.5 2.6-.8" stroke="#30a030" stroke-width="0.40" stroke-opacity="0.60"/>
<path d="M359.2 221.5l25-7.1 15-3.8 14-2.9 15-2.2 16-1.7 20-1.3 25-1 35-.9 1 0 1 .6 2 2.6 6 13.1 2 3.3 1 .9 1 .4 2 0" stroke="#9060e0" stroke-width="0.45" stroke-opacity="0.75"/>
<path d="M352.5 221.6l16-22.7 7-8.6 4-3.9 3-2.4 4-2.3 4-1.8 6-1.7 8-1.5 45-5.5 31-4.9 28-5.6 32.7-7.6 1.8-15.8 1.8-7.5 1.2-2.6 1.2-1.4 1.8-.9 2.8-.5" stroke="#30b0d0" stroke-width="0.55" stroke-opacity="0.90"/>
<path d="M357.4 221.5l23-7.7 14-4.3 13-3.2 13-2.4 14-1.9 17-1.4 18-.9 32-1.2 1-.7 1-1.4 2-4.1 3-9 6-20.9 2-5.6 2-3.8 1-1 1-.4 20-6.1.8 0 1.6-10.4 1-4 1-2.6 1.2-1.9 1.5-1.2 1.7-.7 2.6-.3" stroke="#30b0d0" stroke-width="0.40" stroke-opacity="0.60"/>
<path d="M357.4 221.5l23-7.7 14-4.3 13-3.2 13-2.4 15-2 17-1.4 21-1 27-.8 1 .2 1 1.2 1 1.9 5 14.5 2 4.1 1 .9 6 0" stroke="#e03030" stroke-width="0.45" stroke-opacity="0.75"/>
<path d="M352.5 222.1l16-22.8 7-8.7 4-3.9 3-2.3 4-2.4 4-1.7 6-1.7 7-1.3 45-5.6 31-5 29-5.7 32.7-7.8 1.6-14.5 1-5.5 1-3.4 1.2-2.5 1.2-1.4 1.8-1 2.8-.5" stroke="#3050e0" stroke-width="0.55" stroke-opacity="0.90"/>
<path d="M357 221.5l21-7.3 13-4.2 10-2.7 14-3.1 2-.7 3-2.2 3-3.1 12-15.4 3-2.8 3-1.7 53-5.2 47-5.8 1.8-20 1-7.4 1-5 1.2-4.1 1.5-2.9 1.7-1.8 2.6-1.2" stroke="#2020b0" stroke-width="0.40" stroke-opacity="0.60"/>
<path d="M357 221.5l21-7.3 13-4.2 12-3.2 12-2.6 1 .1 1 .6 2 2.3 6 10.8 2 2.6 1 .7 1 .2 5 0" stroke="#f09030" stroke-width="0.45" stroke-opacity="0.75"/>
<path d="M352.5 221.5l16-21.2 8-9.3 4-3.7 4-2.9 4-2.2 4-1.5 7-1.9 8-1.3 46-5.4 30-4.3 26-4.6 31.7-6.6 1.8-17 1.8-8.4 1.2-3 1.5-2 1.7-1.1 2.6-.6" stroke="#c03060" stroke-width="0.55" stroke-opacity="0.90"/>
<path d="M356.2 221.5l24-7.8 15-4.4 14-3.3 14-2.4 16-1.8 18-1.3 27-1.2 40-1 1-.4 1-1.6 2-5.9 5-21.5 2-7 1-2.3 1-1.3 3-.7 1 0 .3-.3 1.5-18.8 1-6.1 1-3.6 1-2 1.5-1.5 1.7-.7 2.6-.3" stroke="#c03060" stroke-width="0.40" stroke-opacity="0.60"/>
<path d="M356.2 221.5l24-7.8 15-4.4 14-3.3 15-2.5 17-1.9 20-1.3 26-1 37-1 1 .9 1 3 4 17.5 1 1.7 6 .1" stroke="#4090e0" stroke-width="0.45" stroke-opacity="0.75"/>
<path d="M356 221.5l29-11.6 10-3.5 11-3.3 2-1.6 3-4.2 8-15 3-4.8 2-2.5 2-1.5 1-.4 33-4.6 26-4.7 27-6 28-7.3 1.8-13.8 1-4.5 1-3 1.2-2.2 1.5-1.4 1.7-.8 2.6-.4" stroke="#d040d0" stroke-width="0.40" stroke-opacity="0.60"/>
<path d="M356 221.5l30-12 10-3.4 9-2.6 1 .1 1 .9 1 1.4 5 11.2 2 3.5 1 .8 6 .1" stroke="#4090e0" stroke-width="0.45" stroke-opacity="0.75"/>
<path d="M352.5 220.4l19-20 9-8.3 5-3.6 4-2.4 5-2.2 5-1.6 8-1.8 10-1.4 70-6.3 24-2.7 29.7-3.9 1.8-20 1-7.4 1-4.9 1.2-3.8 1.6-2.7 1.7-1.7 2.3-.9" stroke="#20a0a0" stroke-width="0.55" stroke-opacity="0.90"/>
<path d="M356.2 221.5l25-8.9 19-6 2-2.2 2-3.3 9-19.1 2-2.9 2-1.8 40-4.4 25-3.4 26-4.2 32-6.1 1 0 .3-.6 1.7-18.2 1.8-8.6 1.2-3.1 1.3-1.9 1.7-1.4 2.6-.8" stroke="#20a0a0" stroke-width="0.40" stroke-opacity="0.60"/>
<path d="M356.2 221.5l27-9.5 16-4.9 1 .5 1 1.6 4 10.4 1 1.5 1 .4 5 0" stroke="#f09030" stroke-width="0.45" stroke-opacity="0.75"/>
<path d="M352.5 221.1l17-20.4 5-5.5 4-3.9 4-3.3 4-2.7 4-2 5-1.9 7-1.7 10-1.5 47-4.9 30-3.7 23-3.5 28.7-4.9 1.6-20.9.7-5.5 1-4.6 1-2.6 1.5-1.9 2-1 2.8-.4" stroke="#d040d0" stroke-width="0.55" stroke-opacity="0.90"/>
<path d="M355.7 221.5l24-10.2 14-5.3 14-4.2 15-3.1 16-2.1 19-1.6 30-1.4 47-1.3 1-.1 2-.8 3-2.5.5 0 .3-1.1 1.7-32.5 1.3-12.5 1.3-7.4 1.2-4.5 1.2-2.7 1.6-1.8 2-1.3" stroke="#c03060" stroke-width="0.40" stroke-opacity="0.60"/>
<path d="M355.7 221.5l29-12.2 9-3.3 9-2.8 9-2.3 10-2 11-1.6 12-1.3 15-1.1 19-.9 56-1.7 1 .3 1 1.2 1 2.1 3 9.1" stroke="#3050e0" stroke-width="0.45" stroke-opacity="0.75"/>
<path d="M352.5 222l19-18.7 10-8.6 5-3.5 5-2.8 5-2.1 5-1.6 9-1.9 12-1.5 69-5.5 49.7-5.1 1.6-21.4 1-8.8 1-5.6 1.2-4.5 1.5-2.9 1.7-1.8 2.6-1" stroke="#30a030" stroke-width="0.55" stroke-opacity="0.90"/>
<path d="M359 221.5l24-7 20-5.1 2-.8 2-1.5 3-3.3 10-14.9 3-4 3-3 3-1.7 62-5.1 50.2-5.2 1.6-23 1-8.7 1-5.3 1.2-3.9 1.2-2.2 1.8-1.5 2.8-.8" stroke="#e03030" stroke-width="0.40" stroke-opacity="0.60"/>
<path d="M359 221.5l27-7.8 17-4.3 1 .3 1 1.5 3 7.2 1 2 1 1 6 .1" stroke="#20a0a0" stroke-width="0.45" stroke-opacity="0.75"/>
<path d="M357.5 221.5l24-9.2 14-4.8 14-3.8 14-2.7 17-2 20-1.5 25-1 39-.9 1-.7 1-1.3 2-4 6-17 2-4.4 1-1.5 1-.9 2.7-.4 1.8-20.5 1-7.4 1-4.8 1.2-3.6 1.3-2.1 1.7-1.5 2.6-.9" stroke="#4090e0" stroke-width="0.40" stroke-opacity="0.60"/>
<path d="M357.5 221.5l24-9.2 14-4.8 14-3.8 14-2.7 17-2 20-1.5 26-1 37-.8 1 0 1 1.1 1 1.9 5 16.1 2 5.1 1 1.3 1 .3 5 0" stroke="#30a030" stroke-width="0.45" stroke-opacity="0.75"/>
<path d="M352.5 221.8l17-19.2 9-9.1 5-4 4-2.6 4-1.9 5-1.9 7-1.7 9-1.5 49-4.7 23-2.5 26-3.4 30.7-4.7 1.8-19.2 1-6.9 1-4.7 1.2-3.8 1.6-2.6 1.7-1.6 2.3-1" stroke="#208080" stroke-width="0.55" stroke-opacity="0.90"/>
<path d="M358.3 221.5l23-6.9 14-3.9 14-3.1 13-2.2 14-1.7 16-1.2 23-1.1 32-.8 2-.5 3-2.5 4-5.8 3-5.6 8-16.4 4-6.8 2-2.4 2-1.5 5.7-1.3 1.8-16.1 1-5.6 1-3.8 1.2-3.1 1.5-2.2 1.7-1.4 2.6-.9" stroke="#20a0a0" stroke-width="0.40" stroke-opacity="0.60"/>
<path d="M358.3 221.5l24-7.2 14-3.8 13-2.9 14-2.4 15-1.7 18-1.3 22-.9 29-.6 1 .4 2 2.6 6 13.6 2 3.2 1 .8 1 .2 5 0" stroke="#60b030" stroke-width="0.45" stroke-opacity="0.75"/>
<path d="M352.5 222.3l17-19.6 9-9.2 5-4 4-2.5 4-2 5-1.8 7-1.7 8-1.3 49-4.8 23-2.7 27-3.6 30.5-4.8.2-.3 1.8-20.2 1-6.6 1-4.3 1.2-3.5 1.6-2.4 1.7-1.4 2.3-.9" stroke="#f09030" stroke-width="0.55" stroke-opacity="0.90"/>
<path d="M356.7 221.5l28-8.8 17-4.6 17-3.3 19-2.4 1-.6 2-3.6 5-14.4 2-4.1 1-1 49-4.2 43.3-4.6 1.8-21.9 1-8 1-5.3 1.2-4.2 1.5-2.9 1.7-1.7 2.6-1.1" stroke="#9060e0" stroke-width="0.40" stroke-opacity="0.60"/>
<path d="M356.7 221.5l28-8.8 17-4.6 17-3.3 19-2.4 1 .5 1 1.6 4 11.4 2 4.6 1 .9 6 .1" stroke="#d040d0" stroke-width="0.45" stroke-opacity="0.75"/>
<path d="M352.5 220.7l19-19.1 5-4.6 5-4.2 5-3.5 4-2.2 5-2.2 5-1.6 9-2 11-1.4 69-5.8 51.7-5.6 1.8-23 1.8-11.8 1.2-4.2 1.5-2.6 1.7-1.5 2.6-.8" stroke="#d040d0" stroke-width="0.55" stroke-opacity="0.90"/>
<path d="M357 221.5l21-8.3 13-4.7 12-3.6 11-2.6 12-2.1 13-1.5 19-1.3 24-.9 3-.8 3-1.9 4-4 4-5.2 10-14 3-3.4 3-2.6 3-1.2 26-5.4 1.5-18.3.7-5.5 1-4.4 1-2.4 1.6-1.9 2-.9 3-.3" stroke="#3050e0" stroke-width="0.40" stroke-opacity="0.60"/>
<path d="M357 221.5l21-8.3 13-4.7 12-3.6 11-2.6 13-2.2 15-1.7 17-1.1 22-.8 1 0 1 1.1 1 2.5 4 15.7 1 3.1 1 2.1 1 .5 5 0" stroke="#208080" stroke-width="0.45" stroke-opacity="0.75"/>
<path d="M358.3 221.5l25-6.3 15-3.4 14-2.7 15-2.1 16-1.5 18-1.1 25-1 35-.8 2-.3 3-2.1 3-3.7 4-6.6 7-13.9.9 0 1.8-26.6 1-9.2 1-5.9 1.2-4.4 1.3-2.5 1.7-1.8 2.6-1" stroke="#f09030" stroke-width="0.40" stroke-opacity="0.60"/>
<path d="M358.3 221.5l25-6.3 15-3.4 14-2.7 15-2.1 17-1.6 19-1.1 25-.9 33-.8 1 .5 1 1.8 4 12.6 1 2.5 1 1.3 6 .2" stroke="#e04090" stroke-width="0.45" stroke-opacity="0.75"/>
<path d="M352.5 222.2l20-18.6 10-8.2 5-3.3 5-2.7 5-2 6-1.9 10-1.9 13-1.6 68-4.8 46.7-4.2 1.8-27 .8-6.9 1-5.9 1-3.6 1.4-2.9 1.8-1.5 2.8-.8" stroke="#2020b0" stroke-width="0.55" stroke-opacity="0.90"/>
<path d="M356.5 221.5l21-7.6 13-4.4 12-3.4 11-2.5 12-2.1 13-1.5 18-1.4 22-1.1 2-.6 2-1.7 3-4.3 10-20.6 3-4.9 2-2.2 2-.9 17-3.7 21.5-5.1 1.8-16.4.7-4.2 1-3.5 1-2.1 1.5-1.7 2-.9 2.8-.4" stroke="#60b030" stroke-width="0.40" stroke-opacity="0.60"/>
<path d="M356.5 221.5l21-7.6 13-4.4 12-3.4 11-2.5 13-2.2 14-1.6 17-1.3 21-1 1 .6 1 2.1 4 15.6 1 3.3 1 2 1 .4 5 0" stroke="#4090e0" stroke-width="0.45" stroke-opacity="0.75"/>
<path d="M352.5 220.5l17-20 5-5.5 4-3.9 4-3.3 4-2.6 4-2.1 5-1.9 7-1.7 10-1.6 48-4.9 30-3.6 23-3.4 27.7-4.6 1.8-19.5 1.8-9.6 1.2-3.4 1.5-2.3 1.7-1.3 2.6-.8" stroke="#e03030" stroke-width="0.55" stroke-opacity="0.90"/>
<path d="M357.3 221.5l24-7.3 15-4.2 14-3.1 14-2.3 16-1.7 18-1.2 26-1 37-.8 1-.4 1-1 1-1.6 2-4.7 7-23.2 2-5.6 2-3.8 1-.9 2.9-.5 2.3-18.7 1-4.9 1.3-4 1.2-2.5 1.2-1.5 1.6-1.1 2-.7" stroke="#e03030" stroke-width="0.40" stroke-opacity="0.60"/>
<path d="M357.3 221.5l24-7.3 15-4.2 14-3.1 15-2.4 16-1.7 20-1.3 25-.9 35-.7 1 .3 2 2.4 2 4 4 9.5 2 3.6 1 1.2 1 .6 6 0" stroke="#208080" stroke-width="0.45" stroke-opacity="0.75"/>
<path d="M352.5 222.4l19-19.4 9-8.1 5-3.6 4-2.4 5-2.3 5-1.7 9-2 11-1.5 69-5.9 24-2.5 28.7-3.5 1.8-25.6.8-6.3 1-5.4 1-3.2 1.4-2.6 1.8-1.3 2.8-.7" stroke="#c03060" stroke-width="0.55" stroke-opacity="0.90"/>
<path d="M359.8 221.5l31-7.3 19-3.8 19-2.7 23-2.1 3-1.7 4-4.1 4-5.7 10-15.8 4-4.7 3-2.1 2-.5 32-4.7 27.2-4.8 1.8-18.2 1-6.6 1-4.4 1.2-3.4 1.5-2.2 1.7-1.3 2.6-.8" stroke="#60b030" stroke-width="0.40" stroke-opacity="0.60"/>
<path d="M359.8 221.5l31-7.3 19-3.8 20-2.8 21-1.8 1 .8 1 1.9 3 8.2 2 4.2 1 .6 5 0" stroke="#f070b0" stroke-width="0.45" stroke-opacity="0.75"/>
<path d="M357.8 221.5l36-10.2 13-3 12-2.2 12-1.6 14-1.4 21-1.3 28-1.2 3-.9 3-2 3-2.9 13-16.3 3-3.2 3-2.4 3-1.3 16.4-2 2-23.5 1.8-11.1 1.2-4.3 1.6-3 1.7-1.8 2.3-1" stroke="#4090e0" stroke-width="0.40" stroke-opacity="0.60"/>
<path d="M357.8 221.5l23-6.7 14-3.8 13-2.9 12-2.2 14-1.8 16-1.4 19-1.1 24-.9 1 .1 1 .6 1 1.3 2 3.7 5 11.3 2 3 1 .7 6 .1" stroke="#30b0d0" stroke-width="0.45" stroke-opacity="0.75"/>
<path d="M352.5 220.6l18-19.6 9-8.7 5-3.8 4-2.5 4-1.9 5-1.8 7-1.7 10-1.5 71-6.8 25-3 30.7-4.3.3-.8 1.5-19.9 1-7.4 1-4.7 1.2-3.5 1.3-2 1.7-1.4 2.6-.8" stroke="#f09030" stroke-width="0.55" stroke-opacity="0.90"/>
<path d="M354.4 221.5l27-11.1 9-3.3 9-2.9 9-2.3 9-1.8 10-1.6 11-1.2 2-.5 3-1.7 3-2.5 11-12.2 3-2.9 3-2.3 2-.9 40-5.2 35.6-5.6 1.5-21.2.7-6.1 1-5.1 1-2.9 1.6-2.2 2-1.2 3-.5" stroke="#4090e0" stroke-width="0.40" stroke-opacity="0.60"/>
<path d="M354.4 221.5l27-11.1 9-3.3 9-2.9 9-2.3 9-1.8 10-1.6 11-1.2 1 1.1 1 3 3 13.8 1 3.8 1 2.2 1 .3 5 0" stroke="#4090e0" stroke-width="0.45" stroke-opacity="0.75"/>
<path d="M352.5 221.8l18-19.7 9-8.7 5-3.8 4-2.4 4-1.9 5-1.8 7-1.7 10-1.6 71-6.8 26-3.2 29.5-4.1 1.8-20 1-7.3 1-4.9 1.2-3.9 1.5-2.6 1.7-1.7 2.6-1" stroke="#e03030" stroke-width="0.55" stroke-opacity="0.90"/>
<path d="M358.9 221.5l24-6.8 15-3.8 14-3 15-2.2 16-1.7 18-1.1 26-.9 35-.7 2-.4 3-2.3 2-2.6 2-3.3 4-8.4 6-15.1.3-.1 1.6-21.6 1-8.3 1-5.3 1.2-4.1 1.5-2.7 1.7-1.6 2.6-.9" stroke="#9060e0" stroke-width="0.40" stroke-opacity="0.60"/>
<path d="M358.9 221.5l24-6.8 15-3.8 14-3 15-2.2 16-1.7 20-1.2 25-.8 34-.7 1 .2 1 1.2 1 1.9 4 11.1 2 4.4 1 1.2 1 .2 5 0" stroke="#208080" stroke-width="0.45" stroke-opacity="0.75"/>
<path d="M352.5 222l18-20.2 5-5.2 4-3.6 4-3.2 5-3.1 4-1.8 5-1.8 7-1.6 9-1.4 48-4.6 23-2.5 26-3.3 30.7-4.6 1.6-21.5.7-6.5 1-5.4 1-3.1 1.5-2.5 2-1.3 2.8-.5" stroke="#30a030" stroke-width="0.55" stroke-opacity="0.90"/>
<path d="M360.7 221.5l32-7.2 21-3.9 22-2.7 27-1.8 2-1.5 3-4.7 3-6.8 7-17.9 3-5.6 2-2.2 1-.5 31-6 26.3-6 1.8-15.2 1-5.1 1-3.5 1.2-2.7 1.5-1.8 1.7-1.1 2.6-.7" stroke="#e03030" stroke-width="0.40" stroke-opacity="0.60"/>
<path d="M360.7 221.5l32-7.2 21-3.9 22-2.7 26-1.7 1 .2 1 1.1 1 1.8 3 7.2 2 4.1 1 1 6 .1" stroke="#e04090" stroke-width="0.45" stroke-opacity="0.75"/>
<path d="M355.9 221.5l21-9.1 13-5.1 12-3.9 12-2.9 13-2.3 16-1.7 18-1.1 25-.9 1-.7 2-3.6 2-5.8 6-20.9 2-4.4 1-1.1 20-5.4 21.3-6.2 1.8-12.4.8-3.1 1-2.7 1-1.6 1.4-1.3 1.8-.7 2.8-.3" stroke="#30b0d0" stroke-width="0.40" stroke-opacity="0.60"/>
<path d="M355.9 221.5l21-9.1 13-5.1 12-3.9 12-2.9 13-2.3 16-1.7 18-1.1 24-.9 1 .1 1 1.4 1 3.1 4 17.8 1 3.1 1 1.5 6 0" stroke="#9060e0" stroke-width="0.45" stroke-opacity="0.75"/>
<path d="M352.5 221.7l14-20.3 7-9.2 6-6.2 3-2.3 4-2.4 7-2.6 8-1.7 49-6.3 17-2.6 16-2.9 26-5.4 31.7-7.6 2-14 1.8-6.9 1.2-2.7 1.6-1.9 1.7-1.2 2.3-.8" stroke="#3050e0" stroke-width="0.55" stroke-opacity="0.90"/>
<path d="M358.3 221.5l24-8.1 14-4.2 13-3.3 15-2.7 2-.6 3-1.9 4-4 11-14.7 4-4.7 3-2.7 3-1.7 26-3.7 18-2.8 18-3.3 24.7-4.9 1.8-17.3 1-6.1 1-3.9 1.2-2.9 1.5-1.9 1.7-1 2.6-.6" stroke="#60b030" stroke-width="0.40" stroke-opacity="0.60"/>
<path d="M358.3 221.5l24-8.1 14-4.2 14-3.5 14-2.5 1 .1 2 2 2 3.7 4 8.5 2 3.1 1 .7 1 .2 5 0" stroke="#4090e0" stroke-width="0.45" stroke-opacity="0.75"/>
<path d="M352.5 221.8l18-19.8 9-8.7 5-3.8 4-2.4 4-1.9 5-1.8 7-1.7 10-1.5 71-6.9 26-3.2 29.5-4.3 1.8-22.4 1.7-10.7 1.3-3.8 1.4-2.4 1.8-1.3 2.8-.7" stroke="#9060e0" stroke-width="0.55" stroke-opacity="0.90"/>
<path d="M356.9 221.5l24-7.8 14-4.1 13-3.1 14-2.5 15-1.8 17-1.3 25-1.1 35-.9 2-.6 3-2.3 3-3.8 4-6.6 9-16.8 3-4.6 3.1-3.2 1.8-19.3 1.7-9.6 1.3-3.5 1.4-2.2 2-1.3 2.6-.6" stroke="#40c060" stroke-width="0.40" stroke-opacity="0.60"/>
<path d="M356.9 221.5l24-7.8 14-4.1 14-3.3 14-2.4 16-1.9 19-1.3 23-1 32-.8 1 0 1 1.1 1 2.4 4 14.4 1 2.8 1 1.6 1 .3 5 0" stroke="#4090e0" stroke-width="0.45" stroke-opacity="0.75"/>
<path d="M352.5 221.3l17-19.5 9-9.1 5-4 4-2.6 4-1.9 5-1.8 7-1.8 9-1.4 48-4.7 23-2.6 27-3.5 30.5-4.8 1.8-22.4.7-5.6 1-4.8 1-2.7 1.5-2.2 2-1.1 2.8-.5" stroke="#30b0d0" stroke-width="0.55" stroke-opacity="0.90"/>
<path d="M356.8 221.5l31-11 11-3.3 10-2.5 11-2.1 11-1.5 13-1.2 16-1 1-.7 1-1.3 2-4.2 5-14.2 2-4.9 2-3.1 1-.6 33-5.4 34.2-7 .2-.3 1.6-18.9.7-4.9 1-4 1-2.2 1.5-1.8 1.8-.7 3-.4" stroke="#30a030" stroke-width="0.40" stroke-opacity="0.60"/>
<path d="M356.8 221.5l31-11 10-3 10-2.6 11-2.1 12-1.7 13-1.2 15-.9 1 0 1 .7 1 1.6 2 4.7 4 11.1 2 3.7 1 .7 6 0" stroke="#f070b0" stroke-width="0.45" stroke-opacity="0.75"/>
<path d="M359 221.5l24-6.4 14-3.4 13-2.7 16-2.5 1-1.2 2-4.3 6-18.2 1-2 1-1.3 1-.3 53-4.4 50.2-5.3 1.8-22.8 1-7.7 1-5 1.2-4 1.6-2.7 1.7-1.6 2.3-.9" stroke="#9060e0" stroke-width="0.40" stroke-opacity="0.60"/>
<path d="M359 221.5l24-6.4 15-3.6 14-2.8 13-2 1 .1 1 1.3 4 10.6 1 2 1 .8 6 0" stroke="#40c060" stroke-width="0.45" stroke-opacity="0.75"/>
<path d="M352.5 221l20-19 10-8.3 5-3.3 5-2.7 5-2 5-1.6 9-1.8 13-1.6 69-5.2 47.7-4.4 2-23.1 1-7.4 1-5.1 1.3-4.2 1.3-2.7 1.7-2.1 2.3-1.3" stroke="#2020b0" stroke-width="0.55" stroke-opacity="0.90"/>
<path d="M358.3 221.5l25-6.6 14-3.3 14-2.8 14-2.1 15-1.6 18-1.3 56-2.1 1-.7 1-1.4 2-4.1 2-5.4 7-22 2-4.6 1-1.6 1-1.1 1-.4 8.9-1.7 2-18.6 1.8-8.4 1.2-3.1 1.3-1.8 1.7-1.4 2.6-.8" stroke="#e04090" stroke-width="0.40" stroke-opacity="0.60"/>
<path d="M358.3 221.5l25-6.6 14-3.3 14-2.8 14-2.1 16-1.7 18-1.2 23-1 31-.9 1 .2 1 1 1 1.5 5 11.6 2 3.8 1 1.1 1 .4 5 0" stroke="#e03030" stroke-width="0.45" stroke-opacity="0.75"/>
<path d="M352.5 222.6l14-20.5 7-9.3 3-3.4 3-2.8 3-2.3 4-2.4 6-2.3 9-1.9 48-6.2 17-2.7 16-2.9 27-5.7 31-7.8.7 0 1.8-14.9 1.8-7.4 1.2-2.6 1.2-1.5 1.8-1 2.8-.6" stroke="#208080" stroke-width="0.55" stroke-opacity="0.90"/>
<path d="M358.4 221.5l28-7.4 17-3.9 2-1 2-2.2 3-5.1 8-18.2 3-6.1 3-4.5 2-1.7 1-.3 16-2.4 15-2.6 26-5.4 26-6.6 15-4.3 15-4.7.8 0 1.6-11 .7-3.2 1-2.6 1-1.6 1.5-1.4 2-.7 2.8-.3" stroke="#f09030" stroke-width="0.40" stroke-opacity="0.60"/>
<path d="M358.4 221.5l28-7.4 17-3.9 1 .1 1 .7 1 1.3 4 7.1 1 1.4 1 .6 6 .1" stroke="#3050e0" stroke-width="0.45" stroke-opacity="0.75"/>
<path d="M352.5 222l16-20.6 8-9.2 4-3.7 4-2.9 4-2.2 4-1.6 7-1.9 9-1.6 46-5.1 31-4.3 25-4.3 30.7-6.1 1.8-16.1 1-5.7 1-3.9 1.2-3.2 1.6-2.3 1.7-1.5 2.3-.9" stroke="#e04090" stroke-width="0.55" stroke-opacity="0.90"/>
<path d="M355.5 221.5l24-8.8 14-4.5 12-3.2 17-3.3 1-.5 1-1.9 1-2.9 5-19.8 1-2.8 1-1.8 1-.4 27-4.1 26-4.9 25-5.8 29-7.9.7 0 1.8-12.8 1.8-6.5 1.2-2.4 1.5-1.5 1.7-.8 2.6-.5" stroke="#30b0d0" stroke-width="0.40" stroke-opacity="0.60"/>
<path d="M355.5 221.5l24-8.8 14-4.5 14-3.7 15-2.8 1 .1 1 .7 1 1.2 2 3.8 4 9.3 2 3.5 1 .9 1 .3 5 0" stroke="#e04090" stroke-width="0.45" stroke-opacity="0.75"/>
<path d="M355.7 221.5l33-11 12-3.2 11-2.4 12-2 13-1.4 16-1.2 19-.8 1-.2 1-1.6 1-2.8 6-26.3 1-3.2 1-2.1 1-.6 16-3.6 15-3.7 26.5-7.3 1.8-13 .8-3.4 1-3 1-1.7 1.4-1.5 1.8-.8 2.8-.4" stroke="#208080" stroke-width="0.40" stroke-opacity="0.60"/>
<path d="M355.7 221.5l33-11 12-3.2 11-2.4 12-2 14-1.5 15-1.1 19-.8 1 .1 1 .6 2 2.9 6 13.7 2 3.4 1 1 1 .3 5 0" stroke="#e04090" stroke-width="0.45" stroke-opacity="0.75"/>
<path d="M352.5 221.5l18-19.3 9-8.5 5-3.8 4-2.5 5-2.3 5-1.7 8-1.9 10-1.4 70-6.5 26-3 28.5-3.9 1.5-23.5.7-6.7 1-5.4 1-3.1 1.6-2.2 2-1.1 3-.4" stroke="#4090e0" stroke-width="0.55" stroke-opacity="0.90"/>
<path d="M359 221.5l22-6.9 13-3.8 12-3 11-2.2 12-1.8 13-1.4 17-1.2 21-1 2-.4 2-1.4 3-3.7 11-20 3-4 2-1.6 1-.4 37-5.8 1.8-22.4.7-5.4 1-4.5 1-2.7 1.5-2 2-1.1 2.8-.5" stroke="#c03060" stroke-width="0.40" stroke-opacity="0.60"/>
<path d="M359 221.5l22-6.9 13-3.8 12-3 11-2.2 13-2 14-1.4 16-1.1 20-.9 1 .2 1 1.6 1 2.9 3 11.5 1 3 1 1.8 1 .3 5 0" stroke="#4090e0" stroke-width="0.45" stroke-opacity="0.75"/>
<path d="M352.5 220.8l19-19.2 9-8 5-3.6 5-2.9 5-2.2 5-1.6 9-1.9 11-1.5 69-5.8 24-2.4 27.5-3.2 1.8-21.4 1-7.2 1-4.9 1.2-4.1 1.5-2.9 1.7-1.9 2.6-1.2" stroke="#60b030" stroke-width="0.55" stroke-opacity="0.90"/>
<path d="M359.2 221.5l35-8.1 12-2.4 11-1.8 11-1.4 12-1.1 16-1 18-.8 2-.4 2-1.5 3-4 3-5.6 10-21.9 3-4.7 2-2 2-.8 20-4 19-4.4 1 0 1.6-16.3.7-4.7 1-4.1 1.3-2.9 1.4-1.8 1.8-1 2.8-.5" stroke="#208080" stroke-width="0.40" stroke-opacity="0.60"/>
<path d="M359.2 221.5l35-8.1 12-2.4 11-1.8 12-1.5 13-1.1 32-1.7 1 .2 1 1.6 4 12.7 1 1.8 1 .3 5 0" stroke="#d040d0" stroke-width="0.45" stroke-opacity="0.75"/>
<path d="M352.5 221l17-19.5 9-9.1 5-4 4-2.6 4-1.9 5-1.8 7-1.8 9-1.4 48-4.7 23-2.6 26-3.4 31.7-4.9 1.8-19.1 1-6.8 1-4.5 1.2-3.6 1.6-2.4 1.7-1.4 2.3-.8" stroke="#30b0d0" stroke-width="0.55" stroke-opacity="0.90"/>
<path d="M357.5 221.5l26-7 16-3.9 14-2.8 17-2.5 2-1.4 3-4.2 3-5.9 8-18.1 3-5.2 2-2.2 2-.9 23-4.4 23-5.4 18-4.7 23.5-6.9 1.8-11.9 1.7-5.6 1.3-2 1.4-1.2 1.8-.6 2.8-.4" stroke="#8040c0" stroke-width="0.40" stroke-opacity="0.60"/>
<path d="M357.5 221.5l26-7 16-3.9 15-2.9 15-2.1 1 .3 1 1.6 4 11.7 1 1.8 1 .5 5 0" stroke="#4090e0" stroke-width="0.45" stroke-opacity="0.75"/>
<path d="M355.9 221.5l31-10.2 10-2.9 10-2.4 2-2.1 2-3.7 8-20.9 2-4 2-2.3 1-.4 17-2.2 16-2.6 27-5.1 28-6.5 29.1-8.1 1.8-11.6 1-4 1-2.7 1.2-2.2 1.5-1.5 1.7-1 2.6-.6" stroke="#30b0d0" stroke-width="0.40" stroke-opacity="0.60"/>
<path d="M355.9 221.5l31-10.2 11-3.1 9-2.1 1 .7 1 1.5 4 9.5 2 3.3 1 .4 5 0" stroke="#9060e0" stroke-width="0.45" stroke-opacity="0.75"/>
<path d="M352.5 220.9l16-22.4 7-8.6 4-3.9 3-2.3 4-2.5 4-1.7 6-1.8 8-1.4 46-5.7 31-4.8 28-5.5 31.5-7.3 1.5-15.6.7-4.6 1-3.7 1-2.1 1.6-1.6 2-.8 3-.4" stroke="#30a030" stroke-width="0.55" stroke-opacity="0.90"/>
<path d="M357.5 221.5l34-9.7 12-2.9 11-2.1 12-1.8 12-1.3 16-1.3 19-1 2-.4 3-2.1 3-3.3 3-4.2 10-15.9 3-3.7 3-2.4 2-.6 38.7-6.2.3-.5 1.7-20.9 1.8-9.3 1.2-3.4 1.3-1.9 1.7-1.3 2.6-.8" stroke="#20a0a0" stroke-width="0.40" stroke-opacity="0.60"/>
<path d="M357.5 221.5l34-9.7 12-2.9 11-2.1 12-1.8 13-1.4 15-1.2 19-1 1 .8 1 2.3 3 11 1 3.3 1 2.2 1 .5 5 0" stroke="#2020b0" stroke-width="0.45" stroke-opacity="0.75"/>
<path d="M352.5 221.9l18-19.5 9-8.6 5-3.8 4-2.5 5-2.3 5-1.7 7-1.6 10-1.5 71-6.7 25-3 29.7-4.1 1.6-19.3 1-7.8 1-5.2 1.2-4 1.5-2.8 1.7-1.7 2.6-1.1" stroke="#30a030" stroke-width="0.55" stroke-opacity="0.90"/>
<path d="M357.9 221.5l21-7.1 13-4.1 12-3.3 11-2.3 11-1.8 12-1.4 18-1.4 24-1.1 3-.9 3-2.2 4-4.4 4-5.6 10-15.3 3-3.8 3-2.8 3-1.5 28.3-6.1 1.8-16.9 1.8-8.4 1.2-3 1.5-1.9 1.7-1.1 2.6-.6" stroke="#e04090" stroke-width="0.40" stroke-opacity="0.60"/>
<path d="M357.9 221.5l21-7.1 13-4.1 12-3.3 11-2.3 13-2.1 14-1.5 17-1.1 20-.9 1 0 1 .9 1 1.8 5 14.3 2 4.3 1 1 6 .1" stroke="#e03030" stroke-width="0.45" stroke-opacity="0.75"/>
<path d="M352.5 221.9l16-22.5 7-8.7 4-3.9 3-2.3 4-2.4 4-1.7 6-1.8 8-1.5 45-5.5 31-4.9 29-5.7 31.5-7.4 1.8-14.5 1-5.2 1-3.4 1.2-2.6 1.5-1.8 1.7-1 2.6-.6" stroke="#20a0a0" stroke-width="0.55" stroke-opacity="0.90"/>
<path d="M354.9 221.5l23-9.2 14-4.9 13-3.8 14-2.9 15-2.1 18-1.5 24-1.2 34-1 2-.3 3-2.2 4-5.2 4-7 7-13.8 4-6.6 2-2.5 2-1.7 3.1-1 1.5-16.5.7-4.8 1-3.9 1-2.2 1.6-1.7 2-.9 3-.3" stroke="#9060e0" stroke-width="0.40" stroke-opacity="0.60"/>
<path d="M354.9 221.5l23-9.2 14-4.9 13-3.8 14-2.9 15-2.1 19-1.6 24-1.1 33-1 1 .6 1 2.5 4 17.9 1 3.5 1 1.9 6 .2" stroke="#30a030" stroke-width="0.45" stroke-opacity="0.75"/>
<path d="M358.8 221.5l41-8.7 16-2.6 15-1.9 2-.6 2-1.5 3-3.8 4-7.1 9-17.7 3-4.6 3-3 2-.7 22-3.8 21-4.2 18-4.1 21.4-5.3 1.8-13.7 1-4.6 1-3.1 1.2-2.5 1.6-1.7 1.7-1.1 2.3-.6" stroke="#30a030" stroke-width="0.40" stroke-opacity="0.60"/>
<path d="M358.8 221.5l27-5.9 15-3 15-2.4 15-1.9 1 .1 2 1.7 5 8.3 2 2.5 1 .5 6 .1" stroke="#8040c0" stroke-width="0.45" stroke-opacity="0.75"/>
<path d="M352.5 221.2l16-22.1 7-8.6 4-3.9 3-2.3 4-2.5 4-1.7 6-1.8 8-1.5 46-5.6 31-4.8 28-5.4 31.5-7.1 1.8-14.9 1-4.9 1-3.2 1.2-2.7 1.5-1.8 1.7-1.1 2.6-.7" stroke="#2020b0" stroke-width="0.55" stroke-opacity="0.90"/>
<path d="M360 221.5l32-7.5 20-3.9 20-2.8 25-2.2 2-1 3-2.9 3-4.1 10-16.1 3-3.6 3-1.9 60-6.7 2-22.4 1-7.1 1-4.8 1.2-3.9 1.6-2.8 1.7-1.8 2.3-1.1" stroke="#c03060" stroke-width="0.40" stroke-opacity="0.60"/>
<path d="M360 221.5l32-7.5 20-3.9 20-2.8 24-2 1 .2 2 1.5 2 2.9 5 8.5 2 2.3 1 .6 1 .2 5 0" stroke="#f070b0" stroke-width="0.45" stroke-opacity="0.75"/>
<path d="M352.5 221.2l18-19.9 9-8.7 5-3.8 4-2.5 4-1.9 5-1.7 7-1.7 10-1.5 48-4.5 23-2.5 25-3.1 30.7-4.4 1.8-19.5 1-6.7 1-4.6 1.2-3.8 1.6-2.7 1.7-1.7 2.3-1.1" stroke="#d040d0" stroke-width="0.55" stroke-opacity="0.90"/>
<path d="M357.2 221.5l22-7.2 13-4 12-3.1 11-2.2 12-1.9 14-1.5 15-1.2 23-1.2 1-.6 2-2.3 2-3.4 6-12.1 2-3 2-1.7 47-4.4 1.8-24.1 1-8.4 1-5.4 1.2-4.1 1.3-2.4 1.7-1.7 2.6-.9" stroke="#3050e0" stroke-width="0.40" stroke-opacity="0.60"/>
<path d="M357.2 221.5l22-7.2 13-4 12-3.1 11-2.2 13-2 14-1.5 16-1.2 20-.9 1 .2 1 1.2 1 2 5 14.3 2 3.8 1 .6 6 0" stroke="#8040c0" stroke-width="0.45" stroke-opacity="0.75"/>
<path d="M352.5 221.5l18-19.7 9-8.7 5-3.8 4-2.4 4-1.9 5-1.8 7-1.7 10-1.6 71-6.8 25-3 30.7-4.3 1.8-21.3 1.8-10.7 1.2-4 1.5-2.7 1.7-1.5 2.6-.9" stroke="#f070b0" stroke-width="0.55" stroke-opacity="0.90"/>
<path d="M355.4 221.5l23-8.5 13-4.4 13-3.6 13-2.7 13-2 15-1.5 23-1.4 31-1.2 3-.8 2-1.4 2-1.9 11-13.9 2-2 2-1.6 2-.9 1-.1 16.8-1.7 1.6-25.8.7-7.3 1-6.1 1-3.5 1.5-2.8 2-1.5 2.8-.5" stroke="#e04090" stroke-width="0.40" stroke-opacity="0.60"/>
<path d="M355.4 221.5l23-8.5 13-4.4 13-3.6 13-2.7 15-2.2 17-1.6 21-1.2 29-1.1 1 .4 1 1.5 1 2.3 5 16.2 2 4.2 1 .7 6 0" stroke="#8040c0" stroke-width="0.45" stroke-opacity="0.75"/>
<path d="M355.6 221.5l20-7.6 12-4.3 11-3.4 10-2.5 11-2.1 11-1.6 15-1.4 19-1.1 2-.7 3-2.7 3-4.3 11-21.2 3-4.7 2-2.2 2-1.3 24-6.1 26.4-7.5 1.5-11.5 1-4.3 1-2.6 1.3-1.9 1.4-1.2 1.8-.7 2.8-.3" stroke="#f09030" stroke-width="0.40" stroke-opacity="0.60"/>
<path d="M355.6 221.5l20-7.6 12-4.3 11-3.4 10-2.5 11-2.1 13-1.8 15-1.3 17-1 1 1.1 1 2.5 4 15.5 1 3 1 1.7 1 .2 5 0" stroke="#c03060" stroke-width="0.45" stroke-opacity="0.75"/>
<path d="M352.5 222.2l18-19.5 9-8.6 5-3.8 4-2.5 5-2.3 5-1.7 7-1.6 10-1.5 71-6.7 26-3.1 28.5-4 .2-.2 1.6-23.8.7-6.3 1-5.2 1-3 1.5-2.4 2-1.2 2.8-.5" stroke="#30a030" stroke-width="0.55" stroke-opacity="0.90"/>
<path d="M360.2 221.5l37-8.7 13-2.6 12-1.8 12-1.5 14-1.3 20-1.2 25-1 2-.6 3-2.8 2-3 2-3.7 3-6.5 9-21.8 3-6 2-3 2-2.1 1-.6 18-5.2 1 0 1.8-13.4.8-3.4 1-2.8 1-1.7 1.4-1.4 1.8-.7 2.8-.4" stroke="#208080" stroke-width="0.40" stroke-opacity="0.60"/>
<path d="M360.2 221.5l38-8.9 13-2.5 12-1.9 14-1.6 15-1.3 18-1 23-.9 1 .2 2 2 2 3.5 4 8.2 2 3 1 .9 1 .3 5 0" stroke="#2020b0" stroke-width="0.45" stroke-opacity="0.75"/>
<path d="M352.5 222.2l20-18.8 10-8.3 5-3.3 5-2.7 5-2 5-1.6 10-2 13-1.6 68-5 47.5-4.4 1.5-27 .7-7.2 1-6 1-3.4 1.6-2.7 2-1.3 3-.6" stroke="#40c060" stroke-width="0.55" stroke-opacity="0.90"/>
<path d="M355.1 221.5l22-9.7 13-5.2 12-3.9 13-3.2 14-2.3 16-1.6 20-1.2 27-.9 1-.9 2-4.6 5-16.6 1-1.9 1-.9 38.9-6.3 2-18.9 2-10 1.2-3.4 1.6-2.5 1.7-1.6 2.3-1" stroke="#f070b0" stroke-width="0.40" stroke-opacity="0.60"/>
<path d="M355.1 221.5l22-9.7 13-5.2 12-3.9 13-3.2 14-2.3 16-1.6 21-1.2 26-.9 1 .7 2 3.8 6 18.8 2 3.9 1 .8 6 0" stroke="#c03060" stroke-width="0.45" stroke-opacity="0.75"/>
<path d="M352.5 222.4l18-19.7 9-8.6 5-3.8 4-2.5 4-1.9 5-1.8 7-1.7 10-1.5 72-7 26-3.1 28.5-4.1 1.8-22.3 1.7-11.1 1.3-3.9 1.4-2.6 2-1.6 2.6-.7" stroke="#8040c0" stroke-width="0.55" stroke-opacity="0.90"/>
<path d="M358.5 221.5l24-7.3 15-4.1 14-3 15-2.4 16-1.7 18-1.2 27-1.1 40-.9 2-.5 2-1.4 3-3.3 3-4.7 3-5.6.5 0 1.8-33.4.7-8.7 1-7.3 1-4.4 1.5-3.4 2-1.9 2.8-.8" stroke="#d040d0" stroke-width="0.40" stroke-opacity="0.60"/>
<path d="M358.5 221.5l25-7.6 15-4 14-3 15-2.4 17-1.7 20-1.2 27-1 36-.7 1 .5 2 2.9 5 12.1 2 4.1 1 1.3 1 .6 1 .1" stroke="#e03030" stroke-width="0.45" stroke-opacity="0.75"/>
<path d="M354.7 221.5l23-9.8 14-5.3 13-4 15-3.4 1-.7 2-2.7 6-12.2 2-3.4 2-2.3 1-.5 30-2.9 25-2.9 25-3.4 27.3-4.4 1.8-19.7 1-6.6 1-4.3 1.2-3.5 1.5-2.4 1.7-1.5 2.6-.9" stroke="#3050e0" stroke-width="0.40" stroke-opacity="0.60"/>
<path d="M354.7 221.5l24-10.2 14-5.3 14-4.1 8-1.8 5-.9 1 .6 2 3 6 14.3 2 3.4 1 .8 1 .2 5 0" stroke="#60b030" stroke-width="0.45" stroke-opacity="0.75"/>
<path d="M352.5 221.4l16-21.7 7-8.4 4-3.9 4-3.1 4-2.3 4-1.6 6-1.7 8-1.5 46-5.5 31-4.6 27-5 32-6.9 1.5-13.9 1-5.6 1-3.7 1.2-3.1 1.6-2.1 1.7-1.3 2.3-.8" stroke="#3050e0" stroke-width="0.55" stroke-opacity="0.90"/>
<path d="M358.5 221.5l28-8.6 17-4.5 17-3.3 20-2.5 1-.7 2-3.4 7-20.1 2-4 1-1.1 1-.4 22-2.8 22-3.5 19-3.3 23.5-4.7 1.8-17.2 1-6.2 1-3.9 1.2-3 1.5-2 1.7-1.2 2.6-.6" stroke="#40c060" stroke-width="0.40" stroke-opacity="0.60"/>
<path d="M358.5 221.5l28-8.6 17-4.5 18-3.5 19-2.3 1 .9 1 2 4 12.2 1 2.3 1 1.3 6 .2" stroke="#9060e0" stroke-width="0.45" stroke-opacity="0.75"/>
<path d="M352.5 222.2l17-21.2 8-8.7 4-3.5 4-2.7 4-2.1 4-1.6 7-1.9 9-1.5 48-5.2 30-4 25-4.1 28.5-5.3 1.5-18.7 1-7.1 1-4.2 1-2.5 1.5-2 2-1.1 2.8-.5" stroke="#d040d0" stroke-width="0.55" stroke-opacity="0.90"/>
<path d="M357.6 221.5l34-10.7 12-3.1 12-2.5 11-1.7 12-1.3 19-1.4 24-1.1 3-1 3-2.2 3-3.2 13-17 3-2.9 2-1.3 2-.7 30.6-3.9 1.8-23.4.8-6.2 1-5.3 1-3.3 1.4-2.7 1.8-1.4 2.8-.8" stroke="#e04090" stroke-width="0.40" stroke-opacity="0.60"/>
<path d="M357.6 221.5l34-10.7 12-3.1 12-2.5 13-1.9 14-1.5 17-1.2 21-.9 1 .1 1 .5 2 2.6 6 13.2 2 3.5 1 1.2 1 .6 6 .1" stroke="#2020b0" stroke-width="0.45" stroke-opacity="0.75"/>
<path d="M352.5 220.6l17-19.7 9-9.2 5-4 4-2.5 4-2 5-1.8 7-1.7 8-1.2 49-4.9 23-2.6 26-3.5 31.7-5 1.6-21.1.7-6.1 1-4.9 1-2.8 1.5-2 1.8-.9 3-.4" stroke="#40c060" stroke-width="0.55" stroke-opacity="0.90"/>
<path d="M360.1 221.5l30-8.2 19-4.4 17-2.8 13-1.5 15-1.2 3-.9 3-2.2 4-4.6 11-16.7 3-4 3-3.2 3-2.1 29-4.9 27.9-5.1 1.5-16.6 1-6.5 1-4.3 1.3-3.3 1.4-2.3 2-1.4 2.6-.7" stroke="#208080" stroke-width="0.40" stroke-opacity="0.60"/>
<path d="M360.1 221.5l31-8.5 19-4.3 20-3.1 24-2.2 1 .2 2 1.8 2 3.2 5 9.6 2 2.6 1 .6 1 .1 5 0" stroke="#9060e0" stroke-width="0.45" stroke-opacity="0.75"/>
<path d="M356.3 221.5l32-11.6 11-3.4 10-2.5 11-2.1 11-1.6 15-1.5 18-1.2 2-.5 2-2 2-3.2 9-19.8 2-3.4 2-2.3 1-.6 26-5.2 30-7.1.9 0 1.6-15.9.7-4.6 1-3.8 1-2.2 1.5-1.6 1.8-.8 3-.3" stroke="#3050e0" stroke-width="0.40" stroke-opacity="0.60"/>
<path d="M356.3 221.5l32-11.6 11-3.4 10-2.5 11-2.1 13-1.8 14-1.4 17-1.1 1 .1 1 1.2 1 2.2 4 13.3 2 5.4 1 1.4 1 .3 5 0" stroke="#30a030" stroke-width="0.45" stroke-opacity="0.75"/>
<path d="M352.5 220.4l14-22.2 6-8.6 3-3.7 3-3 3-2.4 4-2.3 6-2.3 7-1.6 46-6.4 17-2.9 16-3.1 15-3.4 15-3.7 33.5-9.6 1.8-10.3 1-3.7 1-2.4 1.2-1.9 1.5-1.3 1.7-.7 2.6-.5" stroke="#30b0d0" stroke-width="0.55" stroke-opacity="0.90"/>
<path d="M358.6 221.5l35-9 12-2.6 12-2 12-1.6 13-1.3 17-1.1 21-.8 2-.5 2-1.2 2-2 4-5.7 4-7.3 10-20.1 3-5 2-2.6 2-1.9 2-1 27.4-7.6 1.8-11.4 1-4.1 1-2.7 1.2-2.3 1.5-1.5 1.7-1 2.6-.6" stroke="#e04090" stroke-width="0.40" stroke-opacity="0.60"/>
<path d="M358.6 221.5l35-9 12-2.6 12-2 13-1.7 14-1.3 16-1 20-.8 1 .8 1 2.3 3 10.5 1 2.9 1 1.7 1 .2 5 0" stroke="#40c060" stroke-width="0.45" stroke-opacity="0.75"/>
<path d="M352.5 222.1l14-20.8 7-9.4 3-3.4 3-2.9 3-2.3 4-2.3 6-2.2 8-1.8 48-6.3 17-2.7 16-2.9 28-6.1 31.5-8.1 1.5-13.1 1-5.1 1-3.2 1.3-2.4 1.4-1.5 1.8-.8 2.8-.4" stroke="#c03060" stroke-width="0.55" stroke-opacity="0.90"/>
<path d="M356.1 221.5l29-10.8 9-2.9 9-2.5 9-2.1 10-1.8 12-1.6 13-1.2 1-.5 1-1 2-3.4 8-19.4 2-2.9 1-.7 20-3.1 18-3.2 40.9-8.5 1.8-16.4 1-5.3 1-3.5 1.2-2.7 1.5-1.8 1.7-1.1 2.6-.6" stroke="#e04090" stroke-width="0.40" stroke-opacity="0.60"/>
<path d="M356.1 221.5l29-10.8 10-3.2 9-2.5 10-2.2 10-1.7 11-1.4 12-1.1 1 1.1 1 2.7 3 12 2 6.1 1 1 5 0" stroke="#f070b0" stroke-width="0.45" stroke-opacity="0.75"/>
<path d="M352.5 220.9l14-20.6 7-9.3 3-3.4 3-2.9 3-2.3 4-2.3 6-2.3 9-2 48-6.2 17-2.7 16-2.9 27-5.7 31-7.9.7 0 1.8-15.1.8-3.7 1-3 1-1.9 1.4-1.4 1.8-.7 2.8-.3" stroke="#40c060" stroke-width="0.55" stroke-opacity="0.90"/>
<path d="M356.5 221.5l25-10.4 15-5.5 14-3.9 8-1.7 9-1.4 2-.7 2-1.4 2-2 11-13.8 3-2.5 2-.8 46-4.4 45.7-5.7 1.8-22.9 1.8-11.1 1.2-4 1.5-2.5 1.7-1.4 2.6-.8" stroke="#30b0d0" stroke-width="0.40" stroke-opacity="0.60"/>
<path d="M356.5 221.5l25-10.4 15-5.5 15-4.1 16-2.9 1 .2 1 1 1 1.7 6 15.5 2 3.6 1 .8 6 .1" stroke="#e03030" stroke-width="0.45" stroke-opacity="0.75"/>
<path d="M357.9 221.5l28-8.6 17-4.5 16-3.2 21-2.8 2-1.5 3-4.2 3-5.7 6-12.8 3-5.3 2-2.5 2-1.3 21-3.7 19-3.8 19-4.3 21.3-5.3 1.8-14 1-4.6 1-3.1 1.2-2.5 1.6-1.7 1.7-1 2.3-.5" stroke="#9060e0" stroke-width="0.40" stroke-opacity="0.60"/>
<path d="M357.9 221.5l28-8.6 17-4.5 17-3.3 19-2.4 1 .4 1 1.4 2 4.6 3 8.3 2 3.6 1 .5 5 0" stroke="#4090e0" stroke-width="0.45" stroke-opacity="0.75"/>
<path d="M352.5 221.4l19-19 5-4.6 5-4.1 5-3.5 4-2.3 5-2.2 5-1.6 9-2 12-1.5 69-5.7 50.7-5.4 1.6-23.7.7-7 1-6 1-3.5 1.5-2.8 2-1.5 2.8-.6" stroke="#2020b0" stroke-width="0.55" stroke-opacity="0.90"/>
<path d="M357 221.5l23-7.7 13-3.9 13-3.3 12-2.4 14-2 15-1.4 21-1.2 28-1.1 2-.5 2-1.3 2-2 4-5.5 4-7.2 10-19.7 3-4.8 2-2.6 2-1.8 2-1.1 11-3.2 1 0 1.5-13 .7-3.9 1-3.3 1-1.9 1.6-1.4 2-.7 3-.3" stroke="#30a030" stroke-width="0.40" stroke-opacity="0.60"/>
<path d="M357 221.5l23-7.7 13-3.9 13-3.3 13-2.6 14-1.9 16-1.4 20-1.2 26-.9 1 0 1 1.4 1 2.9 3 12.4 1 3.5 1 2.2 1 .5 5 0" stroke="#2020b0" stroke-width="0.45" stroke-opacity="0.75"/>
<path d="M352.5 222.7l16-21.1 8-9.3 4-3.7 4-2.9 4-2.1 4-1.6 7-1.9 8-1.3 46-5.3 30-4.3 27-4.8 30.5-6.3 1.5-16.6 1-6.4 1-4.1 1.3-3 1.4-1.9 1.8-1.1 2.8-.6" stroke="#30a030" stroke-width="0.55" stroke-opacity="0.90"/>
<path d="M356.9 221.5l24-6.9 14-3.7 14-3 13-2.2 15-1.7 17-1.3 51-2.1 2-1.7 3-5.3 9-24.5 2-4.4 2-3.2 1-.9 1-.4 16.3-3.6 1.6-17.7.7-5 1-4.1 1-2.4 1.5-1.8 2-1 2.8-.3" stroke="#c03060" stroke-width="0.40" stroke-opacity="0.60"/>
<path d="M356.9 221.5l24-6.9 14-3.7 14-3 13-2.2 15-1.7 18-1.4 21-1 28-.8 1 .3 1 1.4 2 5.2 3 9.4 1 2.4 1 1.6 1 .4 5 0" stroke="#3050e0" stroke-width="0.45" stroke-opacity="0.75"/>
<path d="M352.5 221.5l17-20.9 8-8.7 4-3.5 4-2.7 4-2.2 5-1.9 7-1.8 9-1.4 47-5 30-3.9 25-4 28.5-5.2 2-19 1.8-8.7 1.2-3.4 1.5-2.3 1.7-1.4 2.6-.8" stroke="#30a030" stroke-width="0.55" stroke-opacity="0.90"/>
<path d="M358.8 221.5l26-8 18-5 2-1.7 3-4.7 8-17.2 3-5.7 3-4 2-1.3 32-4.4 28-4.8 28-5.9 29.2-7.3 1.8-14.9 1.7-7 1.3-2.5 1.4-1.5 1.8-.8 2.8-.5" stroke="#60b030" stroke-width="0.40" stroke-opacity="0.60"/>
<path d="M358.8 221.5l27-8.3 16-4.3 1 .2 1 1.2 5 10.4 1 .8 6 0" stroke="#e04090" stroke-width="0.45" stroke-opacity="0.75"/>
<path d="M359 221.5l30-9.1 21-5.2 1-1.5 1-2.8 6-25.7 1-2.5 1-1.1 32-4.4 29-5.1 29-6.4 31.2-8.3 1.6-12.1 1-4.8 1-3 1.2-2.3 1.5-1.5 1.7-.8 2.6-.5" stroke="#3050e0" stroke-width="0.40" stroke-opacity="0.60"/>
<path d="M359 221.5l31-9.4 11-2.8 9-2 1 .4 2 2.2 4 7.5 2 3.1 1 .8 1 .2 5 0" stroke="#f070b0" stroke-width="0.45" stroke-opacity="0.75"/>
<path d="M352.5 221.9l16-21.6 7-8.4 4-3.9 4-3 4-2.3 4-1.7 6-1.7 9-1.6 45-5.3 31-4.6 28-5.2 30.5-6.6 1.8-15.3 1-5.2 1-3.6 1.2-2.9 1.5-2.1 1.7-1.3 2.6-.9" stroke="#40c060" stroke-width="0.55" stroke-opacity="0.90"/>
<path d="M358.7 221.5l22-7 13-3.8 13-3.2 12-2.3 13-1.8 15-1.3 42-2 2-1.7 2-3.1 3-6.6 7-17.5 2-3.9 2-2.5 1-.6 1-.2 32.8-6.6 1.5-14.5 1-6 1-4 1.2-3.3 1.6-2.4 1.7-1.5 2.3-.9" stroke="#60b030" stroke-width="0.40" stroke-opacity="0.60"/>
<path d="M358.7 221.5l22-7 13-3.8 13-3.2 12-2.3 14-1.9 15-1.3 18-1 22-.7 1 .5 1 2 4 13.4 1 2.8 1 1.9 1 .6 5 0" stroke="#f070b0" stroke-width="0.45" stroke-opacity="0.75"/>
<path d="M352.5 222.3l14-20.3 7-9.3 6-6.2 3-2.3 4-2.3 6-2.4 9-2 49-6.3 17-2.6 16-2.9 26-5.4 31.7-7.7 1.8-15.7 1.8-7.3 1.2-2.5 1.2-1.3 1.8-.9 2.8-.5" stroke="#30a030" stroke-width="0.55" stroke-opacity="0.90"/>
<path d="M358.8 221.5l33-10.6 12-3.2 11-2.3 11-1.7 13-1.5 16-1.1 21-.9 1-.4 2-2.5 2-4.1 8-23.8 2-5 2-3.5 1-1 1-.4 21-5.3 25.4-7.3 1.8-11 1-3.8 1-2.6 1.2-2.1 1.6-1.4 1.7-.9 2.3-.6" stroke="#60b030" stroke-width="0.40" stroke-opacity="0.60"/>
<path d="M358.8 221.5l33-10.6 12-3.2 11-2.3 12-1.9 14-1.5 16-1 19-.8 1 .9 1 1.9 4 12.3 2 5 1 1.1 6 .1" stroke="#f070b0" stroke-width="0.45" stroke-opacity="0.75"/>
<path d="M352.5 221l17-20 5-5.4 4-3.9 4-3.3 4-2.7 4-2 5-1.9 7-1.8 10-1.5 48-4.9 30-3.7 23-3.3 27.7-4.6 1.6-19.5 1-7.2 1-4.4 1-2.7 1.4-2.1 1.8-1.1 2.8-.6" stroke="#60b030" stroke-width="0.55" stroke-opacity="0.90"/>
<path d="M358.1 221.5l24-5.9 15-3.4 14-2.6 14-2 15-1.4 17-1.1 53-1.6 1-.5 2-1.9 2-2.9 2-3.9 4-9.7 8-22 4-9 2-3.2 2-2.1 3-1.1.9 0 1.8-11.1 1-3.8 1.2-3.1 1.2-2 1.6-1.3 1.7-.9 2.3-.5" stroke="#208080" stroke-width="0.40" stroke-opacity="0.60"/>
<path d="M358.1 221.5l24-5.9 15-3.4 14-2.6 14-2 16-1.5 18-1.1 22-.7 28-.6 1 .9 1 2.4 3 10.2 1 2.7 1 1.5 6 .1" stroke="#e03030" stroke-width="0.45" stroke-opacity="0.75"/>
<path d="M360.1 221.5l29-6.7 18-3.6 19-2.8 21-2 2-.7 3-2.3 3-3.5 4-5.9 10-16.2 4-4.9 3-2.3 2-.6 33-5.3 29.9-5.7 1.5-17.2 1-6.5 1-4.1 1.3-3.1 1.4-1.9 2-1.2 2.6-.6" stroke="#3050e0" stroke-width="0.40" stroke-opacity="0.60"/>
<path d="M360.1 221.5l30-6.9 18-3.5 18-2.7 20-1.9 1 0 1 .5 1 .9 2 2.9 4 7 2 2.7 1 .7 1 .3 5 0" stroke="#e03030" stroke-width="0.45" stroke-opacity="0.75"/>
<path d="M352.5 222.2l17-20.3 5-5.5 4-3.9 4-3.3 4-2.7 4-2 5-1.9 7-1.7 10-1.5 47-4.9 30-3.7 23-3.4 28.7-4.9 1.8-18 1-6.6 1-4.4 1.2-3.6 1.6-2.6 1.7-1.5 2.3-1" stroke="#4090e0" stroke-width="0.55" stroke-opacity="0.90"/>
<path d="M356.6 221.5l20-8.3 11-4.3 11-3.8 10-2.7 11-2.4 11-1.6 14-1.5 17-1.2 2-.4 2-1.1 3-2.3 12-12.7 3-2.2 2-.8 55.6-5.7 1.6-25.3.7-7.3 1-6 1-3.4 1.5-2.5 1.8-1.1 3-.6" stroke="#d040d0" stroke-width="0.40" stroke-opacity="0.60"/>
<path d="M356.6 221.5l20-8.3 11-4.3 11-3.8 10-2.7 11-2.4 12-1.8 14-1.4 16-1 1 1.4 1 3.1 3 13.7 1 4 1 2.7 1 .8 5 0" stroke="#30b0d0" stroke-width="0.45" stroke-opacity="0.75"/>
<path d="M352.5 222.4l16-20.9 8-9.2 4-3.7 4-2.9 4-2.2 4-1.6 7-1.9 8-1.3 47-5.4 30-4.2 27-4.7 29.5-6 1.8-17.3 1-5.8 1-3.8 1.2-3 1.5-2 1.7-1.2 2.6-.7" stroke="#c03060" stroke-width="0.55" stroke-opacity="0.90"/>
<path d="M356.7 221.5l31-11 11-3.3 10-2.4 11-2.2 11-1.6 12-1.2 19-1.5 3-1.7 3-2.9 3-3.9 10-14.9 3-3.4 3-2.2 2-.5 27-4.5 25.5-4.9 1.8-18.5 1.8-9.1 1.2-3.3 1.5-2.1 1.7-1.2 2.6-.7" stroke="#2020b0" stroke-width="0.40" stroke-opacity="0.60"/>
<path d="M356.7 221.5l31-11 11-3.3 10-2.4 11-2.2 12-1.7 14-1.4 15-1 1 1.1 1 2.4 4 14.6 1 2.8 1 1.8 1 .3 5 0" stroke="#60b030" stroke-width="0.45" stroke-opacity="0.75"/>
<path d="M352.5 222l18-20.1 9-8.8 4-3.1 5-3.1 4-1.9 5-1.8 7-1.6 9-1.4 49-4.7 22-2.4 26-3.3 30.7-4.5 1.6-21.4.7-6.1 1-5.3 1.3-3.8 1.4-2.4 1.8-1.2 2.8-.7" stroke="#9060e0" stroke-width="0.55" stroke-opacity="0.90"/>
<path d="M355.5 221.5l21-8.5 13-4.8 12-3.7 11-2.7 12-2.2 14-1.7 15-1.1 25-1.4 3-1.4 3-2.3 13-13.9 3-2.4 2-1.1 2-.6 36.7-4.1 1.8-21.2 1-7.5 1-5.2 1.2-4.3 1.6-3.1 1.7-2 2.3-1.2" stroke="#30b0d0" stroke-width="0.40" stroke-opacity="0.60"/>
<path d="M355.5 221.5l21-8.5 12-4.5 12-3.8 11-2.7 13-2.4 14-1.7 17-1.3 21-1 1 .5 1 2.5 4 17.7 1 3.4 1 1.7 6 .1" stroke="#20a0a0" stroke-width="0.45" stroke-opacity="0.75"/>
<path d="M358.9 221.5l30-8.4 18-4.2 19-3.2 22-2.3 2-1.3 3-4.2 8-16.9 3-5.4 2-2.5 2-1.1 37-5.5 36.1-6.6 1.5-17.4 1-6.7 1-4.2 1.3-3.2 1.4-2.1 2-1.3 2.6-.5" stroke="#30b0d0" stroke-width="0.40" stroke-opacity="0.60"/>
<path d="M358.9 221.5l30-8.4 18-4.2 19-3.2 21-2.1 1 0 1 .6 1 1.1 2 3.3 5 10 2 2.5 1 .4 6 0" stroke="#8040c0" stroke-width="0.45" stroke-opacity="0.75"/>
<path d="M352.5 221.2l19-19.7 9-8.1 5-3.7 4-2.3 5-2.3 5-1.7 8-1.8 11-1.5 70-6.2 24-2.5 28.7-3.6 1.6-22.5.7-7.2 1-5.9 1-3.4 1.5-2.6 2-1.3 2.8-.6" stroke="#e03030" stroke-width="0.55" stroke-opacity="0.90"/>
<path d="M355.6 221.5l21-9 13-5.1 12-3.9 12-2.9 13-2.3 15-1.7 20-1.3 25-1 2-.4 2-1.4 3-3.8 3-5.1 8-15.5 3-4.5 2-2 2-.9 29.6-6.8 1.8-14.2 1-5.2 1-3.5 1.2-2.7 1.6-1.9 1.7-1.1 2.3-.7" stroke="#208080" stroke-width="0.40" stroke-opacity="0.60"/>
<path d="M355.6 221.5l21-9 13-5.1 12-3.9 12-2.9 13-2.3 16-1.8 19-1.2 25-1 1 .2 1 .9 1 1.7 2 4.8 5 14.5 2 3.9 1 1 1 .2 5 0" stroke="#20a0a0" stroke-width="0.45" stroke-opacity="0.75"/>
<path d="M352.5 222.4l16-21.2 8-9.3 4-3.7 4-2.9 4-2.2 4-1.6 7-1.8 8-1.3 46-5.4 30-4.3 26-4.6 31.7-6.6 1.6-15.8 1-6.2 1-4 1.2-3.1 1.5-2 1.7-1.2 2.6-.7" stroke="#4090e0" stroke-width="0.55" stroke-opacity="0.90"/>
<path d="M357.6 221.5l28-7.1 18-3.9 16-2.6 22-2.4 2-.5 3-2.1 3-3.3 10-14.1 3-3.8 3-2.9 3-1.5 37-3.3 35.6-3.8 1.8-23.9 1.8-12 1.2-4.4 1.5-2.8 1.7-1.6 2.6-.9" stroke="#f070b0" stroke-width="0.40" stroke-opacity="0.60"/>
<path d="M357.6 221.5l29-7.3 18-3.9 18-2.8 19-2 1 .4 2 2.3 5 9.8 2 2.8 1 .6 6 .1" stroke="#f070b0" stroke-width="0.45" stroke-opacity="0.75"/>
<path d="M352.5 221.2l19-19.6 9-8.2 5-3.6 4-2.4 5-2.3 5-1.6 8-1.9 11-1.5 70-6.1 25-2.7 27.7-3.5 1.6-22.8.7-6.4 1-5.6 1.3-4.1 1.4-2.4 1.8-1.4 2.8-.7" stroke="#c03060" stroke-width="0.55" stroke-opacity="0.90"/>
<path d="M359.8 221.5l36-9.2 13-2.7 12-2 12-1.5 14-1.3 18-1.1 23-.9 2-.4 3-2.1 3-3.5 3-4.5 10-17 3-3.9 2-1.9 2-1.1 1-.2 24.4-3.7 1.6-19.4 1-7.7 1-4.9 1.2-3.6 1.5-2.4 1.7-1.3 2.6-.7" stroke="#40c060" stroke-width="0.40" stroke-opacity="0.60"/>
<path d="M359.8 221.5l36-9.2 13-2.7 12-2 13-1.7 15-1.3 17-1 22-.8 1 .4 1 1.8 4 12.4 1 2.5 1 1.4 6 .2" stroke="#3050e0" stroke-width="0.45" stroke-opacity="0.75"/>
<path d="M358.3 221.5l23-7.2 14-4.1 1-.5 1-1.4 2-4.6 7-22.7 2-4.4 1-1.3 1-.6 36-4.6 30-5.1 30-6.4 17-4.3 17-4.7.7 0 1.5-13.7.7-3.8 1-3.2 1.3-2.3 1.5-1.3 2-.7 2.8-.3" stroke="#f09030" stroke-width="0.40" stroke-opacity="0.60"/>
<path d="M358.3 221.5l27-8.4 10-2.9 1 0 1 .6 1 1 4 6.5 2 2.6 1 .6 6 0" stroke="#e04090" stroke-width="0.45" stroke-opacity="0.75"/>
<path d="M352.5 222l14-20.9 7-9.5 3-3.4 3-2.8 3-2.3 4-2.3 6-2.2 8-1.8 47-6.2 17-2.7 16-2.9 29-6.3 31.5-8.2 1.5-14.3.7-4.1 1-3.4 1-1.9 1.6-1.5 2-.8 3-.3" stroke="#2020b0" stroke-width="0.55" stroke-opacity="0.90"/>
<path d="M357.1 221.5l30-11.5 10-3.2 10-2.7 10-2.1 11-1.8 13-1.4 15-1 2-.5 3-2.1 3-3.2 12-17.9 3-3.6 3-2.2 2-.6 28-5.1 28-6 1.1 0 1.8-15.3 1-5.6 1-3.7 1.2-3 1.6-2.2 1.7-1.3 2.3-.8" stroke="#8040c0" stroke-width="0.40" stroke-opacity="0.60"/>
<path d="M357.1 221.5l30-11.5 10-3.2 10-2.7 11-2.3 11-1.7 13-1.4 14-.9 1 .6 1 2.1 4 14.5 2 5.5 1 1 6 0" stroke="#4090e0" stroke-width="0.45" stroke-opacity="0.75"/>
<path d="M352.5 220.7l14-21.1 7-9.6 3-3.4 3-2.8 3-2.3 4-2.3 6-2.2 8-1.7 47-6.3 17-2.7 16-3 29-6.4 31.5-8.3.2-.3 1.8-12.3 1-4 1-2.6 1.2-2.1 1.6-1.4 1.7-.9 2.3-.5" stroke="#9060e0" stroke-width="0.55" stroke-opacity="0.90"/>
<path d="M355.6 221.5l31-12.3 11-3.6 10-2.7 11-2.3 11-1.7 15-1.5 18-1.3 2-.6 2-1.4 3-3.3 3-4.3 10-16.4 3-3.7 2-1.7 2-.8 24-5.2 27.4-6.8.2-.2 1.6-15.6.7-4 1-3.4 1-1.9 1.5-1.5 2-.7 2.8-.3" stroke="#3050e0" stroke-width="0.40" stroke-opacity="0.60"/>
<path d="M355.6 221.5l31-12.3 11-3.6 10-2.7 11-2.3 12-1.8 14-1.4 17-1.2 1 .1 1 1.5 1 3 3 12.9 2 6.6 1 1.2 6 0" stroke="#30a030" stroke-width="0.45" stroke-opacity="0.75"/>
<path d="M352.5 222.1l18-19.6 9-8.6 5-3.8 4-2.5 5-2.3 5-1.7 7-1.6 10-1.5 70-6.6 25-3.1 30.7-4.2 1.8-21 1-6.9 1-4.7 1.2-3.8 1.6-2.7 1.7-1.6 2.3-1" stroke="#30b0d0" stroke-width="0.55" stroke-opacity="0.90"/>
<path d="M357.7 221.5l23-8.5 14-4.7 13-3.5 14-2.8 15-2 18-1.5 24-1.3 32-.9 2-.4 2-1.3 2-2.3 3-4.5 6-10.1 2-2.7 2-2 2-1 9.3-1 1.8-22.9 1-8.3 1-5.5 1.2-4.2 1.5-2.8 1.7-1.6 2.6-1" stroke="#f070b0" stroke-width="0.40" stroke-opacity="0.60"/>
<path d="M357.7 221.5l23-8.5 14-4.7 13-3.5 14-2.8 16-2.1 18-1.5 23-1.2 32-.9 1 0 1 1.4 1 2.5 4 15.2 2 5.3 1 .8 5 0" stroke="#8040c0" stroke-width="0.45" stroke-opacity="0.75"/>
<path d="M358.7 221.5l35-9.9 12-2.8 11-2.1 11-1.6 13-1.4 18-1.3 22-.9 3-.8 3-2 4-4.5 4-5.7 10-15.7 3-3.7 3-2.7 3-1.3 27.5-5.1 1.6-19.4.7-5.4 1-4.6 1-2.7 1.5-2.1 2-1.1 2.8-.4" stroke="#9060e0" stroke-width="0.40" stroke-opacity="0.60"/>
<path d="M358.7 221.5l35-9.9 12-2.8 12-2.3 13-1.8 14-1.3 16-1.1 20-.8 1 .4 1 2.1 4 14.3 1 2.4 1 .8 5 0" stroke="#d040d0" stroke-width="0.45" stroke-opacity="0.75"/>
<path d="M352.5 222.1l17-20 5-5.4 4-3.9 4-3.3 4-2.7 4-2 5-1.9 7-1.8 10-1.5 49-5 30-3.7 23-3.4 26.5-4.4 1.8-20 1-7 1-4.3 1.2-3.3 1.5-2.2 1.7-1.2 2.6-.6" stroke="#3050e0" stroke-width="0.55" stroke-opacity="0.90"/>
<path d="M357 221.5l29-9.7 19-5.2 1-.7 1-1.3 2-4 6-16.3 2-4.4 2-2.8 1-.6 34-3.8 27-3.7 26-4.3 33-6.6 1.2 0 1.6-17.4 1-6.6 1-4 1-2.3 1.4-2 1.8-.9 2.8-.6" stroke="#60b030" stroke-width="0.40" stroke-opacity="0.60"/>
<path d="M357 221.5l30-10 10-2.8 8-2 1 1 1 2.3 3 9 1 2 1 .5 5 0" stroke="#3050e0" stroke-width="0.45" stroke-opacity="0.75"/>
<path d="M352.5 221.5l14-20.1 7-9.2 6-6.2 3-2.3 4-2.4 7-2.6 9-1.9 49-6.2 17-2.7 16-2.8 26-5.3 30.7-7.4 1.6-14.5 1-5.4 1-3.2 1-2 1.4-1.6 1.8-.9 2.8-.5" stroke="#e04090" stroke-width="0.55" stroke-opacity="0.90"/>
<path d="M355.8 221.5l30-12.7 10-3.6 9-2.7 10-2.3 11-2 12-1.5 15-1.3 2-1.4 2-2.6 8-15 2-2.8 2-1.8 37-5.6 35.4-6.6 1.8-19.9.8-5 1-4.2 1-2.5 1.4-2 1.8-1.1 2.8-.5" stroke="#d040d0" stroke-width="0.40" stroke-opacity="0.60"/>
<path d="M355.8 221.5l30-12.7 10-3.6 9-2.7 10-2.3 11-2 12-1.5 14-1.2 1 .1 1 1.2 1 2 5 16.2 2 5 1 1.3 1 .2 5 0" stroke="#9060e0" stroke-width="0.45" stroke-opacity="0.75"/>
<path d="M352.5 220.9l16-21.6 7-8.4 4-3.9 4-3 4-2.3 4-1.7 7-1.9 8-1.4 45-5.3 31-4.6 28-5.2 30.5-6.6.2-.1.8-9.3 1-8.2 1.8-7.5 1.2-2.6 1.2-1.4 1.8-1 2.8-.5" stroke="#30b0d0" stroke-width="0.55" stroke-opacity="0.90"/>
<path d="M356.3 221.5l26-9.8 10-3.4 11-3.3 1-.7 2-2.3 2-3.3 6-12.3 3-5.4 2-2.5 2-1.4 36-3.9 26-3.4 26-4.1 31.9-5.8 1.8-16.6 1-6 1-4.2 1.2-3.4 1.6-2.4 1.7-1.5 2.3-.9" stroke="#c03060" stroke-width="0.40" stroke-opacity="0.60"/>
<path d="M356.3 221.5l30-11.2 11-3.6 6-1.4 1 .9 1 1.8 4 10.4 1 1.9 1 1.1 6 .1" stroke="#8040c0" stroke-width="0.45" stroke-opacity="0.75"/>
<path d="M358.1 221.5l26-6.9 15-3.5 15-2.9 15-2.1 16-1.5 19-1.2 28-1.1 42-1 2-.5 2-1.5 2-2.4.9 0 1.8-34.7 1-12.8 1-8.5 1.2-6.7 1.5-4.6 1.7-2.8 2.6-1.7" stroke="#4090e0" stroke-width="0.40" stroke-opacity="0.60"/>
<path d="M358.1 221.5l34-8.8 12-2.7 11-2 12-1.6 13-1.4 15-1.1 17-.9 62-1.7 1 .3 1 1.4 2 4.8 2 6.1" stroke="#20a0a0" stroke-width="0.45" stroke-opacity="0.75"/>
<path d="M352.5 221.3l14-20.6 7-9.3 3-3.4 3-2.9 3-2.3 4-2.3 6-2.3 9-1.9 48-6.3 17-2.7 16-2.9 28-5.9 30.5-7.7 2-13.6 1-4.2 1-2.9 1.2-2.3 1.6-1.6 1.7-1 2.3-.6" stroke="#9060e0" stroke-width="0.55" stroke-opacity="0.90"/>
<path d="M357 221.5l22-7.6 14-4.3 13-3.4 13-2.5 14-1.8 16-1.4 21-1.1 29-.7 1-.4 2-1.8 2-3.1 8-17.7 2-3.8 2-2.7 1-.8 1-.3 23.2-3.6 2-19.7 1-6.4 1-4.4 1.3-3.7 1.5-2.6 1.8-1.7 2-.9" stroke="#c03060" stroke-width="0.40" stroke-opacity="0.60"/>
<path d="M357 221.5l22-7.6 14-4.3 13-3.4 13-2.5 14-1.8 17-1.5 21-1 27-.7 1 0 1 .5 2 2.8 6 14.4 2 3.6 1 1.1 1 .4 6 0" stroke="#4090e0" stroke-width="0.45" stroke-opacity="0.75"/>
<path d="M352.5 221.2l16-21.8 7-8.5 4-3.8 4-3.1 4-2.3 4-1.6 6-1.7 8-1.5 46-5.5 30-4.5 28-5.2 31.7-7 1.8-14.9 1-5.4 1-3.5 1.2-2.8 1.3-1.6 1.7-1.2 2.6-.7" stroke="#d040d0" stroke-width="0.55" stroke-opacity="0.90"/>
<path d="M359.5 221.5l24-5.7 15-3.3 14-2.5 13-1.8 15-1.4 16-1 22-.9 29-.5 2-.3 1-.6 2-1.7 3-4.1 10-18.7 4-5.9 2-1.8 1-.5 8.7-1.1 1.8-23.5 1.8-11.9 1.2-4.3 1.5-2.9 1.7-1.6 2.6-.9" stroke="#208080" stroke-width="0.40" stroke-opacity="0.60"/>
<path d="M359.5 221.5l24-5.7 15-3.3 14-2.5 14-1.9 15-1.4 18-1.1 21-.7 27-.5 1 0 1 .5 2 2.2 6 10.8 2 2.6 1 .8 1 .2 5 0" stroke="#208080" stroke-width="0.45" stroke-opacity="0.75"/>
<path d="M352.5 222.7l16-20.8 8-9.2 4-3.7 4-2.9 4-2.2 4-1.6 7-1.9 8-1.4 47-5.4 31-4.3 26-4.6 30-6 1.5-19.4.8-5.1 1-4.2 1-2.5 1.4-1.8 1.8-1 2.8-.4" stroke="#60b030" stroke-width="0.55" stroke-opacity="0.90"/>
<path d="M357.4 221.5l28-9.1 17-4.7 16-3.2 20-2.5 2-.5 3-2.1 3-3.3 4-5.8 7-11.8 4-6.1 3-3.5 3-2.2 22-4.5 15-3.3 36.6-9.6 1.8-12.3 1-4.2 1-2.8 1.2-2.3 1.5-1.6 1.7-1 2.6-.6" stroke="#60b030" stroke-width="0.40" stroke-opacity="0.60"/>
<path d="M357.4 221.5l28-9.1 17-4.7 17-3.4 19-2.3 1 .2 1 1.5 5 14.8 1 2.1 1 .9 6 0" stroke="#40c060" stroke-width="0.45" stroke-opacity="0.75"/>
<path d="M357.3 221.5l22-8.4 13-4.5 13-3.8 12-2.6 14-2.2 15-1.6 18-1.2 29-1.4 1-1.1 2-4.9 6-22.9 2-5.2 1-1.3 35-8.7.9 0 1.6-14.6.7-4.1 1-3.6 1-2.1 1.5-1.7 2-.9 2.8-.4" stroke="#60b030" stroke-width="0.40" stroke-opacity="0.60"/>
<path d="M357.3 221.5l22-8.4 13-4.5 13-3.8 12-2.6 14-2.2 16-1.7 20-1.3 25-1 1 .1 1 1.1 1 2.1 5 16.6 2 4.7 1 .9 6 0" stroke="#60b030" stroke-width="0.45" stroke-opacity="0.75"/>
<path d="M352.5 222.3l17-20.6 8-8.5 4-3.5 4-2.8 4-2.1 5-2 7-1.8 10-1.6 48-5.1 30-3.8 24-3.7 27.5-4.9 1.8-18.6 1-6.4 1-4.2 1.2-3.4 1.5-2.3 1.7-1.5 2.6-.8" stroke="#e04090" stroke-width="0.55" stroke-opacity="0.90"/>
<path d="M359 221.5l36-9 12-2.4 11-1.9 12-1.6 12-1.2 18-1.3 23-1 2-.7 2-1.8 3-4.5 10-19.6 2-2.8 2-1.8 1-.4 36-4.7 2-21.2 1-6.7 1-4.6 1.2-3.8 1.6-2.7 1.7-1.8 2.3-1" stroke="#c03060" stroke-width="0.40" stroke-opacity="0.60"/>
<path d="M359 221.5l36-9 12-2.4 12-2.1 13-1.6 14-1.4 17-1 20-.9 1 .4 1 1.6 4 11.2 2 4.4 1 .8 6 0" stroke="#4090e0" stroke-width="0.45" stroke-opacity="0.75"/>
<path d="M352.5 221.7l20-18.5 10-8.2 5-3.3 5-2.7 5-2.1 6-1.8 10-2 13-1.5 68-4.8 46.7-4.1 1.8-22 1-8.2 1-5.7 1.2-4.7 1.6-3.4 1.7-2.1 2.3-1.4" stroke="#8040c0" stroke-width="0.55" stroke-opacity="0.90"/>
<path d="M356.9 221.5l23-6.6 14-3.6 12-2.6 16-2.7 1-.3 2-2.2 2-3.7 6-14.5 2-4.2 2-3 1-.9 1-.4 27-2.6 25-2.9 25-3.5 25.1-4 1.8-20.3 1-7.1 1-4.5 1.2-3.3 1.5-2.2 1.7-1.2 2.6-.7" stroke="#4090e0" stroke-width="0.40" stroke-opacity="0.60"/>
<path d="M356.9 221.5l24-6.8 14-3.7 14-2.9 13-2.1 1 .3 1 1 1 1.7 4 9 2 3.1 1 .4 5 0" stroke="#4090e0" stroke-width="0.45" stroke-opacity="0.75"/>
<path d="M352.5 220.9l17-20.7 8-8.6 4-3.4 4-2.8 4-2.2 5-1.9 7-1.9 10-1.5 48-5.1 30-3.8 24-3.8 27.5-4.9 1.5-20 .7-5.5 1-4.6 1-2.5 1.6-2 2-1 3-.4" stroke="#20a0a0" stroke-width="0.55" stroke-opacity="0.90"/>
<path d="M357.9 221.5l32-11.3 11-3.2 10-2.5 11-2.1 11-1.5 15-1.5 19-1.2 2-.7 3-2.1 3-3.3 3-4.1 10-15.2 3-3.5 3-2.3 2-.7 21-3.8 24.3-5.1 1.8-16.6 1-5.8 1-3.8 1.2-2.9 1.3-1.7 1.7-1.3 2.6-.7" stroke="#208080" stroke-width="0.40" stroke-opacity="0.60"/>
<path d="M357.9 221.5l32-11.3 11-3.2 10-2.5 12-2.2 12-1.6 14-1.4 17-1 1 0 1 .7 2 3 6 14.5 2 3.6 1 1 1 .4 6 0" stroke="#e04090" stroke-width="0.45" stroke-opacity="0.75"/>
<path d="M356.4 221.5l25-10.3 18-6.4 1-1 2-3 7-14.4 2-2.7 1-.8 1-.4 18-1.9 68-5 41.6-4 2-23.8 1-7.5 1-5.1 1.2-4.2 1.6-3 1.7-1.9 2.3-1.1" stroke="#f070b0" stroke-width="0.40" stroke-opacity="0.60"/>
<path d="M356.4 221.5l26-10.7 16-5.5 1 .2 1 1.4 4 11.5 1 2.2 1 .9 6 0" stroke="#3050e0" stroke-width="0.45" stroke-opacity="0.75"/>
<path d="M352.5 222.2l17-20 5-5.5 4-3.9 4-3.3 4-2.6 4-2.1 5-1.9 7-1.7 10-1.6 48-4.9 30-3.6 23-3.4 27.5-4.6 2-19.6 1-6.1 1-4.2 1.2-3.4 1.6-2.4 1.7-1.6 2.3-.9" stroke="#2020b0" stroke-width="0.55" stroke-opacity="0.90"/>
<path d="M358.4 221.5l34-9.7 11-2.6 11-2.2 11-1.7 12-1.4 15-1.3 19-1.1 1-.3 2-2.2 2-3.9 2-5.1 7-20.6 2-4.3 2-2.7 1-.6 22-5.1 28-7.6.8 0 .3-.4 1.7-11.9 2-6.7 1.3-2.2 1.3-1.4 1.7-1.1 2.3-.7" stroke="#60b030" stroke-width="0.40" stroke-opacity="0.60"/>
<path d="M358.4 221.5l34-9.7 11-2.6 11-2.2 12-1.9 13-1.4 15-1.2 17-1 1 .9 1 2.5 3 11.3 1 3.1 1 1.9 1 .3 5 0" stroke="#4090e0" stroke-width="0.45" stroke-opacity="0.75"/>
<path d="M352.5 222.2l17-21 8-8.7 4-3.5 4-2.7 4-2.2 5-1.9 7-1.8 9-1.4 47-5 30-4 24-3.8 29.7-5.4 1.8-20.9.8-5.2 1-4.4 1-2.6 1.4-1.9 1.8-1 2.8-.5" stroke="#f09030" stroke-width="0.55" stroke-opacity="0.90"/>
<path d="M355.7 221.5l19-7.9 12-4.7 10-3.4 10-2.8 11-2.3 11-1.7 12-1.3 20-1.5 3-1.4 4-3.2 4-4.3 11-13.2 3-2.8 3-1.8 2-.6 23-3.8 27.5-5.2 1.8-17.6 1-6 1-4 1.2-3.2 1.6-2.1 1.7-1.3 2.3-.8" stroke="#f09030" stroke-width="0.40" stroke-opacity="0.60"/>
<path d="M355.7 221.5l19-7.9 12-4.7 10-3.4 10-2.8 11-2.3 12-1.9 13-1.3 16-1 1 .5 1 2 5 18.6 1 2.7 1 1.4 6 .1" stroke="#4090e0" stroke-width="0.45" stroke-opacity="0.75"/>
<path d="M352.5 220.4l14-21.5 7-9.7 3-3.4 3-2.9 3-2.2 4-2.2 6-2.2 7-1.5 47-6.4 16-2.6 16-3.1 29-6.5 17-4.5 16-4.6.7 0 1.8-11.3 1-3.8 1-2.6 1.2-2 1.6-1.4 1.7-.9 2.3-.6" stroke="#d040d0" stroke-width="0.55" stroke-opacity="0.90"/>
<path d="M358.7 221.5l28-8 18-4.3 18-3.1 22-2.5 2-1.2 3-3.4 3-4.7 6-10.7 3-4.5 3-3.3 2-1 37-4.3 37.3-5.3 1.8-20.9 1-7.3 1-4.7 1.2-3.5 1.5-2.3 1.7-1.3 2.6-.7" stroke="#c03060" stroke-width="0.40" stroke-opacity="0.60"/>
<path d="M358.7 221.5l29-8.2 18-4.3 18-3 20-2.1 1 1.1 1 2.5 3 10.3 1 2.6 1 1.1 6 0" stroke="#30a030" stroke-width="0.45" stroke-opacity="0.75"/>
<path d="M359 221.5l35-9.4 12-2.7 11-2 12-1.7 14-1.4 36-2.3 2-1.5 3-4.9 10-25.1 2-3.8 2-2.4 1-.6 20-4.1 22.2-5.2 2-15.2 1.8-7.4 1.2-3 1.6-2 1.7-1.3 2.3-.8" stroke="#d040d0" stroke-width="0.40" stroke-opacity="0.60"/>
<path d="M359 221.5l35-9.4 12-2.7 11-2 12-1.7 14-1.4 16-1.2 19-.9 1 .3 1 1.9 4 14 1 2.3 1 .8 5 0" stroke="#e03030" stroke-width="0.45" stroke-opacity="0.75"/>
<path d="M352.5 222.1l16-22.3 7-8.6 4-3.9 3-2.4 4-2.4 4-1.7 6-1.8 8-1.5 46-5.6 31-4.9 28-5.4 31.7-7.3 1.6-15.6.7-4.8 1-4.1 1-2.3 1.5-1.8 2-1 2.8-.4" stroke="#30b0d0" stroke-width="0.55" stroke-opacity="0.90"/>
<path d="M354.8 221.5l21-8.1 13-4.7 12-3.6 11-2.6 12-2.1 14-1.7 18-1.4 22-1 1-.3 2-1.9 3-5.3 9-23 2-4.1 2-2.8 1-.7 1-.3 20-5.4 22.2-6.6 1.5-11.1 1-4.2 1-2.5 1-1.6 1.5-1.2 2-.7 2.8-.3" stroke="#4090e0" stroke-width="0.40" stroke-opacity="0.60"/>
<path d="M354.8 221.5l21-8.1 13-4.7 12-3.6 11-2.6 13-2.3 14-1.6 17-1.3 22-1 1 .6 2 4.2 4 13.5 2 5.3 1 1.3 1 .3 5 0" stroke="#c03060" stroke-width="0.45" stroke-opacity="0.75"/>
<path d="M352.5 222.5l18-20 9-8.8 4-3.1 5-3.1 4-1.9 5-1.8 7-1.6 9-1.4 71-7 26-3.3 30.7-4.5 1.6-22.5.7-6.3 1-5.3 1-3.2 1.5-2.5 2-1.3 2.8-.6" stroke="#40c060" stroke-width="0.55" stroke-opacity="0.90"/>
<path d="M355.9 221.5l31-12.4 11-3.6 10-2.7 11-2.3 11-1.7 11-1.2 19-1.3 1-.2 2-1.6 2-2.6 3-5.5 7-14.7 3-4.7 2-1.7 32-6.9 29.1-7.4 1.8-15.1.7-3.7 1-3.2 1-1.9 1.5-1.5 2-.9 2.8-.4" stroke="#30a030" stroke-width="0.40" stroke-opacity="0.60"/>
<path d="M355.9 221.5l31-12.4 11-3.6 10-2.7 11-2.3 12-1.8 13-1.3 16-1.1 1 .9 1 2.3 4 15.1 2 5.8 1 1.1 6 0" stroke="#208080" stroke-width="0.45" stroke-opacity="0.75"/>
<path d="M352.5 220.8l17-20.5 8-8.5 4-3.5 4-2.8 4-2.2 5-1.9 7-1.9 10-1.6 48-5 30-3.8 24-3.7 27.5-4.8 1.8-21.4.7-5.1 1-4.2 1-2.5 1.5-1.8 2-1 2.8-.3" stroke="#4090e0" stroke-width="0.55" stroke-opacity="0.90"/>
<path d="M357.3 221.5l22-7.2 13-3.8 13-3.3 12-2.3 13-1.8 15-1.4 16-1 27-1.1 2-1.4 2-2.6 9-17 2-2.9 2-1.9 1-.4 34.7-3.8 1.8-22.9 1-7.5 1-5 1.2-4 1.5-2.7 1.7-1.7 2.6-1" stroke="#d040d0" stroke-width="0.40" stroke-opacity="0.60"/>
<path d="M357.3 221.5l22-7.2 13-3.8 13-3.3 12-2.3 14-2 15-1.3 18-1 23-.8 1 .4 1 1.5 1 2.3 4 12.2 2 4.4 1 .9 6 0" stroke="#30a030" stroke-width="0.45" stroke-opacity="0.75"/>
<path d="M357 221.5l23-7 14-3.9 14-3.2 13-2.3 14-1.7 16-1.2 22-1.1 29-.7 2-.4 1-.7 2-2.2 3-5.1 3-6.8 9-23.2 2-4.4 2-3.5 2-2.3 1-.7 12.2-3.7 1.6-11.2 1-4.4 1-2.8 1.2-2.1 1.5-1.4 1.7-.7 2.6-.4" stroke="#e04090" stroke-width="0.40" stroke-opacity="0.60"/>
<path d="M357 221.5l23-7 14-3.9 14-3.2 13-2.3 15-1.8 17-1.2 21-1 28-.7 1 .1 1 1.3 2 5.5 3 10.1 1 2.4 1 1.5 1 .2 5 0" stroke="#e04090" stroke-width="0.45" stroke-opacity="0.75"/>
<path d="M352.5 222l19-19.9 9-8.2 5-3.6 4-2.4 5-2.2 5-1.7 8-1.8 11-1.5 70-6.2 25-2.8 27.5-3.5 1.5-23.7.7-7.1 1-5.7 1-3.3 1.6-2.4 2-1.2 3-.5" stroke="#3050e0" stroke-width="0.55" stroke-opacity="0.90"/>
<path d="M358.9 221.5l24-7.1 14-3.8 13-3 13-2.2 15-1.9 17-1.4 21-1.1 28-1 1-.9 2-5 6-25.8 2-5.7 1-1.2 25.6-5.7 1.5-13.8 1-5.6 1-3.9 1.2-3.1 1.6-2.3 1.7-1.4 2.3-.8" stroke="#40c060" stroke-width="0.40" stroke-opacity="0.60"/>
<path d="M358.9 221.5l24-7.1 14-3.8 13-3 13-2.2 15-1.9 17-1.4 21-1.1 28-1 1 .4 2 2.4 2 4 4 9.2 2 3.6 1 1.2 1 .6 6 .1" stroke="#f09030" stroke-width="0.45" stroke-opacity="0.75"/>
<path d="M352.5 220.5l14-20.5 7-9.3 6-6.2 3-2.4 4-2.3 6-2.3 9-2 48-6.2 17-2.6 16-2.9 28-5.9 30.5-7.6 1.8-12.5 1-4.4 1-3 1.2-2.4 1.5-1.7 1.7-1.1 2.6-.6" stroke="#8040c0" stroke-width="0.55" stroke-opacity="0.90"/>
<path d="M357.4 221.5l21-7.8 13-4.4 12-3.5 11-2.5 13-2.1 14-1.6 15-1 25-1.3 1-.7 2-2.7 7-14.7 2-2.9 1-.8 46.6-4.9.2-.4 1.8-23.4 1-7.6 1-5 1.2-4 1.6-2.7 1.7-1.7 2.3-1" stroke="#c03060" stroke-width="0.40" stroke-opacity="0.60"/>
<path d="M357.4 221.5l21-7.8 13-4.4 12-3.5 11-2.5 13-2.1 14-1.6 17-1.2 22-.9 1 .6 1 2.2 4 16.1 1 3.2 1 1.7 6 .2" stroke="#60b030" stroke-width="0.45" stroke-opacity="0.75"/>
<path d="M352.5 220.7l17-21.5 8-8.8 4-3.5 4-2.7 4-2.1 4-1.5 7-1.9 9-1.4 47-5.2 30-4.1 26-4.3 28.5-5.5.2-.2 1.6-18.7.7-5 1-4.2 1-2.4 1.5-2 2-1 2.8-.4" stroke="#e03030" stroke-width="0.55" stroke-opacity="0.90"/>
<path d="M360.7 221.5l36-8.5 2-2 3-5.2 7-16.8 3-6.2 2-3 2-1.7 43-4.6 25-3.2 27-4.1 30.5-5.4 2-18.3 1-5.8 1-4 1.3-3.2 1.3-2 1.7-1.6 2.3-1" stroke="#d040d0" stroke-width="0.40" stroke-opacity="0.60"/>
<path d="M360.7 221.5l28-6.5 8-1.6 2 1 5 5.5 2 1.5 6 .1" stroke="#40c060" stroke-width="0.45" stroke-opacity="0.75"/>
<path d="M357 221.5l27-10.1 16-5.1 8-2.1 9-1.9 20-3.1 2-1.1 3-2.6 9-11.1 3-3.2 3-2.3 2-.8 41-3.5 41-4.2 1.5-23.3 1-8.7 1-5.4 1.3-4 1.4-2.5 1.8-1.3 2.8-.7" stroke="#e04090" stroke-width="0.40" stroke-opacity="0.60"/>
<path d="M357 221.5l27-10.1 17-5.4 8-2 9-1.9 10-1.6 8-.9 1 .7 2 3.5 5 13.4 2 3.6 1 .7 6 0" stroke="#30a030" stroke-width="0.45" stroke-opacity="0.75"/>
<path d="M352.5 221.9l17-19.4 9-9.1 5-4 4-2.5 4-2 5-1.8 7-1.8 9-1.4 48-4.7 24-2.6 27-3.6 30-4.7 1.5-17.6 1-7.2 1-4.9 1.2-4 1.6-2.8 1.7-1.8 2.3-1" stroke="#40c060" stroke-width="0.55" stroke-opacity="0.90"/>
<path d="M358 221.5l28-9.2 18-5.1 9-1.9 9-1.6 20-2.5 1-.5 1-1.2 2-3.9 8-22.8 2-3.9 1-1.2 1-.5 21-4 20-4.5 21-5.5 20-5.8 1 0 1.8-12.1 1-4.1 1-2.5 1.2-2 1.5-1.2 1.7-.7 2.6-.4" stroke="#f070b0" stroke-width="0.40" stroke-opacity="0.60"/>
<path d="M358 221.5l28-9.2 18-5.1 9-1.9 9-1.6 20-2.4 1 1.3 1 3 3 12.2 1 2.8 1 .9 5 0" stroke="#20a0a0" stroke-width="0.45" stroke-opacity="0.75"/>
<path d="M352.5 221.2l18-19.1 9-8.5 5-3.8 4-2.5 5-2.3 5-1.8 8-1.8 10-1.5 71-6.5 24-2.7 29.7-3.9 1.8-22.2 1.8-11.1 1.2-4 1.5-2.6 1.7-1.5 2.6-.8" stroke="#30a030" stroke-width="0.55" stroke-opacity="0.90"/>
<path d="M355.6 221.5l25-10.7 10-3.9 10-3.4 1-.7 2-2.3 2-3.2 6-11.9 3-5.3 2-2.6 2-1.5 37-4.6 27-4 28-5.2 30.4-6.6 1.8-16.1 1-5.6 1-3.6 1.2-2.7 1.5-1.7 1.7-.9 2.6-.6" stroke="#e04090" stroke-width="0.40" stroke-opacity="0.60"/>
<path d="M355.6 221.5l28-11.9 10-3.7 7-2.2 1 .3 2 1.9 2 3.3 5 9.5 2 2.3 1 .5 6 0" stroke="#60b030" stroke-width="0.45" stroke-opacity="0.75"/>
<path d="M352.5 221.7l20-19.1 10-8.3 5-3.3 5-2.7 5-2 5-1.5 9-1.9 13-1.6 69-5.2 47.5-4.5 1.8-26.6.7-6.6 1-5.7 1-3.4 1.5-2.8 2-1.5 2.8-.6" stroke="#30a030" stroke-width="0.55" stroke-opacity="0.90"/>
<path d="M354.8 221.5l20-8.2 12-4.6 11-3.6 11-2.9 11-2.2 13-1.8 14-1.4 21-1.4 2-1.1 3-3.2 3-4.4 7-11.6 3-3.8 2-1.7 2-.7 25-4 26.2-5 1.5-19.4.7-5.7 1-4.6 1-2.6 1.6-2 2-1 3-.3" stroke="#e04090" stroke-width="0.40" stroke-opacity="0.60"/>
<path d="M354.8 221.5l20-8.2 12-4.6 11-3.6 11-2.9 12-2.4 13-1.8 15-1.3 18-1.1 1 .9 1 2.2 4 15.1 2 6.1 1 1.5 6 .1" stroke="#e03030" stroke-width="0.45" stroke-opacity="0.75"/>
<path d="M357.5 221.5l24-7.6 15-4.2 14-3.2 15-2.5 16-1.7 19-1.2 27-1 37-.7 2-.4 2-1.7 3-4.8 4-9.5 5-14.1.5 0 1.8-21.6 1-7.2 1-5 1.2-4.1 1.5-3 1.7-1.8 2.6-1.2" stroke="#f070b0" stroke-width="0.40" stroke-opacity="0.60"/>
<path d="M357.5 221.5l24-7.6 15-4.2 14-3.2 15-2.5 17-1.7 20-1.3 26-.9 36-.7 1 0 1 .6 2 2.6 6 13.3 2 3.6 1 1.2 1 .7 2 .1" stroke="#9060e0" stroke-width="0.45" stroke-opacity="0.75"/>
<path d="M352.5 222.4l18-20.2 9-8.8 4-3.1 5-3.1 4-1.9 5-1.7 7-1.7 9-1.4 48-4.6 23-2.4 26-3.4 30.7-4.5 1.8-20 1-7.3 1-4.7 1.2-3.8 1.6-2.6 1.7-1.6 2.3-.8" stroke="#40c060" stroke-width="0.55" stroke-opacity="0.90"/>
<path d="M355.9 221.5l22-8.9 14-5.1 13-3.8 14-3 15-2.1 18-1.5 22-1.1 34-.9 1-.7 1-1.4 2-4.5 7-23.4 3-7.8 1-1.6 1-.9 17.3-4.6 1.6-13 1-4.9 1-3.1 1.2-2.2 1.2-1.3 1.8-.9 2.8-.4" stroke="#8040c0" stroke-width="0.40" stroke-opacity="0.60"/>
<path d="M355.9 221.5l22-8.9 14-5.1 13-3.8 14-3 15-2.1 19-1.6 23-1 31-.8 1 .2 1 1.6 1 2.8 4 15.7 1 3.2 1 2.1 1 .7 5 0" stroke="#208080" stroke-width="0.45" stroke-opacity="0.75"/>
<path d="M352.5 221.8l14-20.3 7-9.2 6-6.2 3-2.3 4-2.4 7-2.6 8-1.7 49-6.3 17-2.6 16-2.9 26-5.4 31.7-7.6 1.6-14.7.7-4.3 1-3.7 1-2.2 1.5-1.7 2-1 2.8-.4" stroke="#3050e0" stroke-width="0.55" stroke-opacity="0.90"/>
<path d="M358 221.5l27-6.5 15-3.2 14-2.6 15-2 17-1.6 20-1.2 60-2.1 1-.7 1-1.3 1-1.9 2-5.4 8-29.9 2-6 .2 0 1.8-16.2 1-5.7 1-3.7 1.2-3 1.6-2 1.7-1.2 2.3-.7" stroke="#e04090" stroke-width="0.40" stroke-opacity="0.60"/>
<path d="M358 221.5l27-6.5 15-3.2 14-2.6 15-2 17-1.6 20-1.2 59-2.1 1 .1 1 1.4 5 16.4 1 1.3 6 0" stroke="#30a030" stroke-width="0.45" stroke-opacity="0.75"/>
<path d="M352.5 221.6l17-20.7 8-8.7 4-3.4 4-2.8 4-2.2 5-1.9 7-1.8 9-1.4 48-5.1 30-3.9 24-3.8 28.7-5.1.3-.3 1.7-20 1.8-9 1.2-3.2 1.3-1.8 1.7-1.3 2.6-.7" stroke="#30b0d0" stroke-width="0.55" stroke-opacity="0.90"/>
<path d="M356.5 221.5l24-9.1 14-4.8 14-3.7 14-2.7 15-2 18-1.4 28-1.3 43-1.2 3-.9 4-2.9 3-3.1 4-5 .7 0 1.8-28.9 1-9.8 1-6.6 1.2-5.4 1.6-3.8 1.7-2.3 2.3-1.4" stroke="#30b0d0" stroke-width="0.40" stroke-opacity="0.60"/>
<path d="M356.5 221.5l24-9.1 14-4.8 14-3.7 15-2.9 17-2.1 20-1.4 27-1.1 38-1 1 .2 1 1.4 1 2.5 4 14.7 2 5.7 1 1.4 5 .2" stroke="#3050e0" stroke-width="0.45" stroke-opacity="0.75"/>
<path d="M358.8 221.5l24-6.7 14-3.6 13-2.8 13-2.1 13-1.5 15-1.3 24-1.2 32-1 1-.1 2-.8 3-2.6 4-5.6 4-7.6 9-19.7 4-8 4-6.1 2-2.1 1.2-.6 2-13 1-3.7 1.2-3 1.3-1.7 1.3-1 1.7-.8 2.3-.4" stroke="#9060e0" stroke-width="0.40" stroke-opacity="0.60"/>
<path d="M358.8 221.5l24-6.7 14-3.6 14-2.9 13-2.1 15-1.7 18-1.4 22-1 28-.8 1 .2 1 .7 2 2.8 6 12.4 2 2.9 1 .9 1 .3 5 0" stroke="#d040d0" stroke-width="0.45" stroke-opacity="0.75"/>
<path d="M352.5 221.6l18-19.1 9-8.5 5-3.8 4-2.5 5-2.4 5-1.7 8-1.8 10-1.5 70-6.4 25-2.9 29.7-3.9 1.8-20.1 1-7.2 1-4.9 1.2-4.1 1.6-2.8 1.7-1.9 2.3-1.1" stroke="#2020b0" stroke-width="0.55" stroke-opacity="0.90"/>
<path d="M360.9 221.5l36-8.1 12-2.3 11-1.7 13-1.6 13-1.1 34-1.8 1-.6 1-1.1 2-3.8 3-8.3 6-19.2 2-4.9 2-3.1 1-.6 21-4.5 22.1-5.3 2-15 1-4.6 1-3.1 1.2-2.5 1.6-1.8 1.7-1.2 2.3-.6" stroke="#20a0a0" stroke-width="0.40" stroke-opacity="0.60"/>
<path d="M360.9 221.5l36-8.1 12-2.3 11-1.7 13-1.6 13-1.1 33-1.7 1 0 1 1 1 1.9 4 10.7 1 1.9 1 1 6 0" stroke="#3050e0" stroke-width="0.45" stroke-opacity="0.75"/>
<path d="M352.5 221.5l18-19.2 9-8.5 5-3.8 4-2.4 5-2.4 5-1.7 8-1.9 10-1.4 71-6.5 25-2.9 28.5-3.8 1.8-20.1 1-7 1-4.9 1.2-4 1.5-2.9 1.7-1.9 2.6-1.2" stroke="#8040c0" stroke-width="0.55" stroke-opacity="0.90"/>
<path d="M356 221.5l24-8.7 15-4.9 14-3.5 14-2.6 16-1.9 19-1.4 27-1.1 39-.9 2-.4 1-.7 2-2.4 3-5.6 3-7.5 6-17 1.8-20.6 1.2-7.8 1.2-4.4 1.3-2.5 1.3-1.5 1.7-1 2.3-.6" stroke="#2020b0" stroke-width="0.40" stroke-opacity="0.60"/>
<path d="M356 221.5l24-8.7 15-4.9 14-3.5 14-2.6 17-2 20-1.4 26-1 38-.9 1 0 1 .7 2 3.3 6 16 2 3.8 1 1 4 .2" stroke="#60b030" stroke-width="0.45" stroke-opacity="0.75"/>
<path d="M352.5 222.4l17-21.3 8-8.8 4-3.5 4-2.7 4-2.1 4-1.6 7-1.9 9-1.4 47-5.2 30-4 25-4.1 29.7-5.6 1.8-20.7.8-5 1-4.3 1-2.4 1.4-2 1.8-1 2.8-.5" stroke="#9060e0" stroke-width="0.55" stroke-opacity="0.90"/>
<path d="M359.1 221.5l36-8.8 14-2.7 14-2.2 1-.4 2-1.5 3-3.7 9-15.6 3-4.6 3-3.3 2-1.1 49-4.8 45.9-5.8 1.8-25.1.7-6.1 1-5 1-2.9 1.5-2.1 1.8-1 3-.5" stroke="#208080" stroke-width="0.40" stroke-opacity="0.60"/>
<path d="M359.1 221.5l24-6 14-3.2 14-2.7 12-1.7 1 .4 2 1.7 6 9 2 2 1 .5 6 0" stroke="#208080" stroke-width="0.45" stroke-opacity="0.75"/>
<path d="M356.6 221.5l25-9.9 16-5.5 15-3.9 17-3.1 2-1.5 2-2.6 6-10.1 2-2.9 2-1.9 1-.5 52-4 44.6-4.3 1.8-26.6.8-6.7 1-5.7 1-3.3 1.4-2.7 1.8-1.3 2.8-.6" stroke="#9060e0" stroke-width="0.40" stroke-opacity="0.60"/>
<path d="M356.6 221.5l25-9.9 15-5.2 8-2.3 8-1.9 16-2.8 1 .1 1 .8 1 1.3 2 4 5 12.2 2 3 1 .7 6 0" stroke="#30a030" stroke-width="0.45" stroke-opacity="0.75"/>
<path d="M352.5 222.6l16-22.7 7-8.7 4-3.9 3-2.4 4-2.4 4-1.7 6-1.7 8-1.5 45-5.5 31-5 29-5.8 31.5-7.5 1.8-17.4.7-4.2 1-3.4 1-2 1.5-1.5 2-.8 2.8-.2" stroke="#208080" stroke-width="0.55" stroke-opacity="0.90"/>
<path d="M356.1 221.5l23-9.5 14-5.2 14-4.2 14-2.9 15-2 18-1.5 27-1.2 38-1 1-.4 1-1.7 2-6.1 4-16.5 2-6.5 1-1.9 1-.7 9-2 1.1 0 1.8-16.2 1-5.8 1-3.9 1.2-3.1 1.6-2.2 1.7-1.4 2.3-.8" stroke="#40c060" stroke-width="0.40" stroke-opacity="0.60"/>
<path d="M356.1 221.5l23-9.5 14-5.2 14-4.2 14-2.9 16-2.1 20-1.6 26-1.1 36-.9 1 .7 1 2.3 4 16.8 2 6.5 1 1.2 6 0" stroke="#9060e0" stroke-width="0.45" stroke-opacity="0.75"/>
<path d="M352.5 221.9l17-20.7 8-8.6 4-3.4 4-2.8 4-2.2 5-1.9 7-1.9 10-1.5 48-5.1 30-3.8 24-3.8 28-4.9 1.5-17.3 1-6.7 1-4.5 1.2-3.5 1.6-2.4 1.7-1.4 2.3-.8" stroke="#9060e0" stroke-width="0.55" stroke-opacity="0.90"/>
<path d="M358.8 221.5l33-10.1 11-2.8 10-2.1 12-2 12-1.5 31-2.3 1-.8 1-1.5 2-4.6 7-23.2 2-5.3 2-3.2 1-.5 15-3.5 15-3.9 27.4-7.9 1.6-12.4.7-3.4 1-2.8 1-1.5 1.5-1.2 1.8-.5 3-.3" stroke="#e03030" stroke-width="0.40" stroke-opacity="0.60"/>
<path d="M358.8 221.5l33-10.1 11-2.8 10-2.1 12-2 12-1.5 14-1.2 16-1 1 .1 1 .7 1 1.5 2 4.3 4 10.2 2 3.3 1 .6 6 0" stroke="#40c060" stroke-width="0.45" stroke-opacity="0.75"/>
<path d="M352.5 221.5l17-21.4 8-8.8 4-3.4 4-2.8 4-2.1 4-1.5 7-1.9 9-1.5 47-5.1 30-4.1 25-4.1 29.7-5.6 1.8-17 1-6.1 1-4 1.2-3.2 1.6-2.1 1.7-1.4 2.3-.7" stroke="#e04090" stroke-width="0.55" stroke-opacity="0.90"/>
<path d="M361 221.5l31-6.6 23-4.1 1-.4 2-2 3-5.1 8-19.1 3-6.2 2-2.9 2-1.7 29-4.1 23-3.9 23-4.6 29-6.7 1 0 1.8-15.2 1-5 1-3.3 1.2-2.6 1.5-1.8 1.7-1 2.6-.7" stroke="#2020b0" stroke-width="0.40" stroke-opacity="0.60"/>
<path d="M361 221.5l33-7 21-3.7 1 .4 1 1 5 8.6 1 .7 6 0" stroke="#2020b0" stroke-width="0.45" stroke-opacity="0.75"/>
<path d="M355.3 221.5l27-11 9-3.3 8-2.5 8-2.1 9-2 10-1.6 11-1.2 1-.5 1-1 2-3.8 7-18.4 2-3 1-.5 22-3.4 21-3.9 20-4.3 26-6.5.9 0 1.6-15.1.7-4.6 1-3.7 1-2.1 1.5-1.6 2-.8 2.8-.3" stroke="#e04090" stroke-width="0.40" stroke-opacity="0.60"/>
<path d="M355.3 221.5l27-11 9-3.3 8-2.5 9-2.4 9-1.8 10-1.6 10-1.1 1 .3 1 1.2 1 1.9 5 14 2 4.5 1 1.4 1 .4 5 0" stroke="#e03030" stroke-width="0.45" stroke-opacity="0.75"/>
<path d="M352.5 222l17-19.7 9-9.2 5-4 4-2.5 4-2 5-1.8 7-1.6 10-1.6 49-4.8 30-3.6 22-3.1 26.5-4.3 1.8-19.9 1-6.9 1-4.5 1.2-3.5 1.5-2.3 1.7-1.3 2.6-.8" stroke="#9060e0" stroke-width="0.55" stroke-opacity="0.90"/>
<path d="M359.6 221.5l31-7.6 20-4.1 20-2.8 26-2 1-.3 2-2.2 2-3.9 8-22 2-4.3 2-2.6 1-.4 18-3 17-3.1 31.6-6.5 1.3-16.7.7-5.6 1-4.6 1-2.5 1.6-1.8 2-.9 3-.3" stroke="#8040c0" stroke-width="0.40" stroke-opacity="0.60"/>
<path d="M359.6 221.5l32-7.9 20-4 21-2.8 24-1.8 1 .1 1 .6 2 2.3 6 10.1 2 2.4 1 .7 1 .3 6 0" stroke="#9060e0" stroke-width="0.45" stroke-opacity="0.75"/>
<path d="M352.5 220.8l14-21.3 7-9.6 3-3.4 3-2.8 3-2.3 4-2.3 6-2.1 8-1.8 46-6.1 17-2.8 16-2.9 29-6.5 16-4.1 16-4.5.7 0 1.6-12.9.7-3.9 1-3.1 1-1.8 1.5-1.4 2-.7 2.8-.2" stroke="#d040d0" stroke-width="0.55" stroke-opacity="0.90"/>
<path d="M356 221.5l23-7.7 14-4.2 13-3.2 13-2.3 14-1.8 17-1.3 23-1 32-.6 1-.5 1-1.7 2-6.3 6-28.2 2-6.9 1-2 1-.7 22.2-6.5 1.8-12.2 1.8-5.9 1.2-2 1.2-1 1.8-.8 2.8-.4" stroke="#3050e0" stroke-width="0.40" stroke-opacity="0.60"/>
<path d="M356 221.5l23-7.7 14-4.2 13-3.2 14-2.5 15-1.8 18-1.3 22-.9 30-.5 1 .3 1 1 1 1.7 6 15.2 2 3.3 1 .6 6 0" stroke="#2020b0" stroke-width="0.45" stroke-opacity="0.75"/>
<path d="M352.5 220.3l16-20.3 8-9.1 4-3.6 4-3 4-2.2 5-2 7-1.8 9-1.5 46-5.1 31-4.2 26-4.3 28.7-5.6 1.6-18.9.7-5 1-4.1 1-2.3 1.5-1.8 2-.9 2.8-.3" stroke="#40c060" stroke-width="0.55" stroke-opacity="0.90"/>
<path d="M357.8 221.5l28-8.7 20-5.4 2-1.7 3-4.1 8-14.9 3-4.9 3-3.3 2-.9 33-3.2 26-3 26-3.7 29.4-4.8 1.6-20.5.7-6.2 1-5.1 1-3 1.5-2.2 2-1.2 2.8-.4" stroke="#c03060" stroke-width="0.40" stroke-opacity="0.60"/>
<path d="M357.8 221.5l29-9 18-4.7 1 0 1 .4 2 1.8 6 8.9 2 2 1 .5 6 .1" stroke="#8040c0" stroke-width="0.45" stroke-opacity="0.75"/>
<path d="M360.5 221.5l35-7.5 22-3.9 23-2.7 32-2.2 1-1.2 2-5.3 7-30.1 2-5.5 1-1.2 27-6.5 28.5-8 1.8-11.9 1-4.1 1-2.6 1.2-1.9 1.5-1.3 1.7-.8 2.6-.4" stroke="#20a0a0" stroke-width="0.40" stroke-opacity="0.60"/>
<path d="M360.5 221.5l35-7.5 22-3.9 24-2.8 30-1.9 1 0 1 .5 1 .9 2 2.9 5 9 2 2.3 1 .5 6 0" stroke="#e03030" stroke-width="0.45" stroke-opacity="0.75"/>
<path d="M352.5 220.3l14-20.6 7-9.4 3-3.4 3-2.8 3-2.3 4-2.4 6-2.2 9-2 47-6.1 17-2.7 16-2.9 28-6 31-7.9.7 0 1.8-11.8 2-7.2 1.2-2.4 1.6-1.7 1.7-1.1 2.3-.7" stroke="#30a030" stroke-width="0.55" stroke-opacity="0.90"/>
<path d="M357.4 221.5l23-8.9 15-5.2 2-1.1 2-1.8 3-3.4 9-12.7 4-5 3-2.9 3-1.7 2-.4 37-3.5 26-2.8 24-3.2 30.8-4.6 1.8-21.6.8-5.7 1-5 1-3 1.4-2.5 1.8-1.3 2.8-.8" stroke="#20a0a0" stroke-width="0.40" stroke-opacity="0.60"/>
<path d="M357.4 221.5l24-9.3 14-4.7 1 .4 2 2.6 4 7.9 2 2.7 1 .4 5 0" stroke="#2020b0" stroke-width="0.45" stroke-opacity="0.75"/>
<path d="M352.5 221.4l16-22.1 7-8.5 4-3.9 4-3 4-2.3 4-1.6 6-1.7 8-1.4 45-5.4 31-4.8 28-5.3 31.7-7.1.3-.4 1.5-15.3 1.8-8.2 1.2-2.8 1.2-1.5 1.8-1.1 2.8-.6" stroke="#3050e0" stroke-width="0.55" stroke-opacity="0.90"/>
<path d="M357.2 221.5l23-9.3 15-5.4 14-3.9 14-2.8 16-2 19-1.3 28-1.1 40-.6 2-.5 2-1.3 2-1.9 4-5.5 4-6.9 1.3-.2 1.5-28.9.8-8 1-7 1-4.2 1.4-3.5 1.8-1.7 2.8-1" stroke="#40c060" stroke-width="0.40" stroke-opacity="0.60"/>
<path d="M357.2 221.5l23-9.3 15-5.4 14-3.9 14-2.8 17-2.1 21-1.4 27-.9 38-.6 1 .8 1 2 5 17.6 2 5.1 1 .9 4 0" stroke="#f09030" stroke-width="0.45" stroke-opacity="0.75"/>
<path d="M352.5 220.3l19-19.2 9-8 5-3.7 5-2.8 5-2.2 5-1.6 9-2 11-1.4 69-5.8 51.7-5.7 1.6-23.8.7-6.9 1-5.6 1-3.2 1.5-2.4 1.8-1.2 3-.5" stroke="#8040c0" stroke-width="0.55" stroke-opacity="0.90"/>
<path d="M356.7 221.5l26-8.5 17-4.8 16-3.4 18-2.4 1-1.1 1-2.4 6-24.2 1-2.5 1-1.2 24-3.7 24-4.5 23-5.2 26.3-6.7.2-.5 1.6-13.9.7-3.9 1-3.3 1.3-2.4 1.4-1.4 1.8-.8 2.8-.4" stroke="#20a0a0" stroke-width="0.40" stroke-opacity="0.60"/>
<path d="M356.7 221.5l26-8.5 17-4.8 16-3.4 18-2.4 1 .9 1 2.5 3 10.8 1 2.9 1 1.8 1 .2 5 0" stroke="#40c060" stroke-width="0.45" stroke-opacity="0.75"/>
<path d="M357.4 221.5l25-7.1 15-3.8 15-3 15-2.3 16-1.5 19-1.2 28-1.1 39-.9 2-.4 2-1.9 2-3.1 2-4.1 3-7.4.6 0 1.5-27.9 1-11 1-7.2 1.3-5.5 1.4-3.8 2-2.4 2.6-1.1" stroke="#208080" stroke-width="0.40" stroke-opacity="0.60"/>
<path d="M357.4 221.5l25-7.1 15-3.8 15-3 15-2.3 17-1.6 21-1.3 27-.9 37-.9 1 .1 1 .6 2 2.7 7 14.9" stroke="#8040c0" stroke-width="0.45" stroke-opacity="0.75"/>
<path d="M352.5 221.9l14-20.3 7-9.3 6-6.2 3-2.3 4-2.4 6-2.3 9-2 49-6.3 17-2.7 16-2.8 27-5.7 30.5-7.5 1.5-14.8.7-4.2 1-3.6 1.3-2.6 1.5-1.5 2-.8 2.8-.3" stroke="#f09030" stroke-width="0.55" stroke-opacity="0.90"/>
<path d="M357.6 221.5l29-8.8 18-4.5 18-3.3 22-2.5 2-.4 3-1.7 4-3.5 11-13.1 3-3.2 3-2.6 3-1.5 2-.5 36-3.5 29.4-3.5 1.8-21.9 1-7.7 1-5.1 1.2-4 1.5-2.8 1.7-1.6 2.6-1" stroke="#8040c0" stroke-width="0.40" stroke-opacity="0.60"/>
<path d="M357.6 221.5l29-8.8 18-4.5 9-1.8 10-1.7 21-2.3 1 .9 1 2.4 3 10.9 1 3 1 1.7 6 .2" stroke="#3050e0" stroke-width="0.45" stroke-opacity="0.75"/>
<path d="M352.5 221.9l16-22.2 7-8.6 4-3.9 3-2.3 4-2.5 4-1.7 6-1.8 8-1.5 46-5.6 31-4.8 28-5.4 31.5-7.2 1.8-15.5 1-5.4 1-3.4 1.2-2.6 1.5-1.6 1.7-1 2.6-.5" stroke="#d040d0" stroke-width="0.55" stroke-opacity="0.90"/>
<path d="M357.2 221.5l32-11.6 11-3.4 11-2.6 11-2.1 13-1.7 14-1.2 19-1.1 1-.8 2-3.7 7-20.8 2-3.5 1-.6 27-4.7 32-6.7 1 0 .3-.5 1.5-17.4.8-4.8 1-4.1 1-2.4 1.4-2 1.8-.9 2.8-.6" stroke="#2020b0" stroke-width="0.40" stroke-opacity="0.60"/>
<path d="M357.2 221.5l32-11.6 11-3.4 11-2.6 11-2.1 13-1.7 15-1.3 17-.9 1 0 1 .6 2 3.2 6 15.3 2 3.5 1 .9 6 .1" stroke="#30b0d0" stroke-width="0.45" stroke-opacity="0.75"/>
<path d="M352.5 220.6l19-18.7 10-8.7 5-3.5 5-2.8 5-2.1 5-1.5 9-1.9 12-1.5 68-5.5 50.7-5.3 1.6-21.3 1-8.6 1-5.5 1.2-4.1 1.5-2.7 1.7-1.5 2.6-.8" stroke="#e04090" stroke-width="0.55" stroke-opacity="0.90"/>
<path d="M359.2 221.5l36-7.7 23-3.8 12-1.4 13-1.1 34-1.8 1-1.4 1-2.9 5-23.7 1-3.7 1-2.4 1-.8 23-3.3 31-5 1.8-18.5 1-6.8 1-4.4 1.2-3.5 1.6-2.4 1.7-1.4 2.3-.8" stroke="#208080" stroke-width="0.40" stroke-opacity="0.60"/>
<path d="M359.2 221.5l36-7.7 23-3.8 13-1.5 13-1.1 32-1.6 1 .1 1 1.2 4 11.9 1 2 1 .5 5 0" stroke="#20a0a0" stroke-width="0.45" stroke-opacity="0.75"/>
<path d="M360.2 221.5l24-6.3 14-3.3 13-2.7 13-2 14-1.5 15-1.2 21-.9 28-.8 2-.5 2-2 3-5.8 3-7.9 7-21.2 2-5.2 2-4.1 2-2.6 1-.7 14-4 .8 0 1.5-12.9 1-4.7 1-2.8 1-1.7 1.5-1.3 2-.8 2.8-.3" stroke="#30a030" stroke-width="0.40" stroke-opacity="0.60"/>
<path d="M360.2 221.5l24-6.3 14-3.3 13-2.7 13-2 15-1.6 17-1.2 20-.9 26-.7 1 .1 1 1.4 1 2.5 3 10.3 1 2.7 1 1.5 6 .2" stroke="#30b0d0" stroke-width="0.45" stroke-opacity="0.75"/>
<path d="M352.5 221.1l18-19.1 9-8.4 5-3.8 4-2.5 5-2.4 5-1.7 8-1.9 10-1.4 71-6.5 25-2.9 28.5-3.7 1.8-22.9 1.7-10.9 1.3-3.9 1.4-2.4 1.8-1.4 2.8-.8" stroke="#f070b0" stroke-width="0.55" stroke-opacity="0.90"/>
<path d="M358.3 221.5l35-10.9 12-3 11-2.3 12-1.8 14-1.6 17-1.2 22-1.1 2-.3 2-1.2 3-3 11-15.5 3-3 2-1.2 36.9-3.6.3-1.1 1.5-27.1 1.5-11.3 1-3.6 1.5-2.6 1.8-1.2 3-.6" stroke="#30a030" stroke-width="0.40" stroke-opacity="0.60"/>
<path d="M358.3 221.5l35-10.9 12-3 11-2.3 13-2 14-1.5 17-1.2 21-1 1 0 1 .7 1 1.4 2 4.2 4 10.2 2 3.9 1 1.1 1 .4 5 0" stroke="#2020b0" stroke-width="0.45" stroke-opacity="0.75"/>
<path d="M352.5 222l17-20 5-5.5 4-3.8 4-3.3 4-2.7 4-2.1 5-1.8 7-1.8 10-1.6 49-4.9 30-3.7 23-3.4 26.5-4.5.2-.7 1.8-20.1 1.8-9.5 1.2-3.5 1.5-2.3 1.7-1.4 2.6-.8" stroke="#3050e0" stroke-width="0.55" stroke-opacity="0.90"/>
<path d="M358.1 221.5l27-8.9 17-4.7 16-3.4 20-2.7 2-.5 2-1.5 3-3.5 7-10.6 3-4 2-2 2-1.2 44-3.7 38.1-3.8 1.6-24.6.7-7.5 1-6.2 1-3.6 1.5-2.7 2-1.5 2.8-.6" stroke="#8040c0" stroke-width="0.40" stroke-opacity="0.60"/>
<path d="M358.1 221.5l27-8.9 17-4.7 17-3.6 19-2.5 1 .4 1 2.1 3 11.5 1 3.3 1 2.1 1 .3 5 0" stroke="#4090e0" stroke-width="0.45" stroke-opacity="0.75"/>
<path d="M352.5 222l16-22.2 7-8.5 4-4 3-2.3 4-2.4 4-1.8 6-1.8 8-1.5 46-5.6 31-4.8 28-5.4 31.5-7.2 1.8-15.9 1.7-7.8 1.3-2.9 1.4-1.8 2-1.1 2.6-.6" stroke="#2020b0" stroke-width="0.55" stroke-opacity="0.90"/>
<path d="M354.1 221.5l20-8.8 12-4.9 11-3.8 11-3 12-2.4 13-1.8 16-1.3 20-1 2-.4 3-1.2 4-2.7 14-12.6 3-2 3-1.2 43.1-4.7.3-.4 1.7-21.6 1-7.3 1-5.1 1.3-4.1 1.3-2.6 1.7-2.1 2.3-1.3" stroke="#e04090" stroke-width="0.40" stroke-opacity="0.60"/>
<path d="M354.1 221.5l20-8.8 12-4.9 11-3.8 11-3 12-2.4 13-1.8 16-1.3 19-.9 1 .2 1 2.4 4 20 1 3.3 1 1 5 0" stroke="#30b0d0" stroke-width="0.45" stroke-opacity="0.75"/>
<path d="M356.5 221.5l28-11.7 10-3.6 9-2.8 9-2.2 10-1.9 12-1.6 14-1.2 1-.5 2-2.5 2-4.1 7-18.2 2-3.4 1-1 23-4.7 16-3.6 16-4.1 22-6.2.7 0 1.8-10.9 1-4.2 1-2.8 1.2-2.3 1.6-1.7 1.7-1 2.3-.7" stroke="#8040c0" stroke-width="0.40" stroke-opacity="0.60"/>
<path d="M356.5 221.5l29-12.1 10-3.6 9-2.7 10-2.3 10-1.8 11-1.4 13-1.1 1 .5 2 3.5 5 14.6 2 4.6 1 1.4 1 .4 5 0" stroke="#e04090" stroke-width="0.45" stroke-opacity="0.75"/>
<path d="M352.5 220.6l17-20.9 8-8.6 4-3.5 4-2.8 4-2.1 5-1.9 7-1.8 9-1.5 48-5.1 30-3.9 24-3.8 28.5-5.1 1.8-18.1 1-6.3 1-4 1.2-3 1.5-2 1.7-1.1 2.6-.6" stroke="#30a030" stroke-width="0.55" stroke-opacity="0.90"/>
<path d="M357.6 221.5l29-10.6 22-6.5 3-2.4 3-3.6 9-13.3 4-5.4 3-3 3-1.7 31-3.9 24-3.6 25-4.4 27.4-5.7 1.8-16.9 1-5.7 1-3.7 1.2-2.8 1.5-2 1.7-1.1 2.6-.7" stroke="#2020b0" stroke-width="0.40" stroke-opacity="0.60"/>
<path d="M357.6 221.5l30-10.9 10-3.1 9-2.4 1 .2 1 1.6 4 11.9 1 2.1 1 .6 5 0" stroke="#f09030" stroke-width="0.45" stroke-opacity="0.75"/>
<path d="M352.5 222l17-20.8 8-8.6 4-3.4 4-2.8 4-2.2 5-1.9 7-1.8 9-1.5 48-5.1 30-3.8 24-3.8 28.5-5.1 1.5-17.4 1-6.9 1-4.4 1.3-3.5 1.4-2.3 2-1.5 2.6-.7" stroke="#8040c0" stroke-width="0.55" stroke-opacity="0.90"/>
<path d="M357.6 221.5l31-9.8 10-2.8 10-2.2 9-1.7 10-1.4 14-1.4 16-1 3-.9 3-2.2 3-3.2 4-5.4 11-16.6 4-4.7 3-2.2 2-.8 23-4.5 27.6-6.3 1.6-16.8.7-4.8 1-3.8 1-2.1 1.5-1.6 1.8-.7 3-.3" stroke="#2020b0" stroke-width="0.40" stroke-opacity="0.60"/>
<path d="M357.6 221.5l31-9.8 10-2.8 10-2.2 11-2 11-1.5 13-1.2 14-.8 1 .5 2 3.1 5 12.2 2 3.6 1 .8 6 .1" stroke="#40c060" stroke-width="0.45" stroke-opacity="0.75"/>
<path d="M28.5 221.5l20-18.9 10-8.3 5-3.4 5-2.6 5-2.1 5-1.5 9-1.9 13-1.6 69-5.1 47.7-4.5 1.8-26.3.8-6.5 1-5.7 1.2-4.1 1.2-2.2 1.8-1.5 2.8-.8" stroke="#2828c8" stroke-width="0.60" stroke-opacity="0.90"/>
<path d="M28.5 221.5l19-19 5-4.6 5-4.2 5-3.4 4-2.3 5-2.2 5-1.6 9-2 11-1.4 70-5.8 50.7-5.5 1.8-21.4 1-7.9 1-5.3 1.2-4.3 1.6-2.9 1.7-1.8 2.3-1" stroke="#2828c8" stroke-width="0.60" stroke-opacity="0.90"/>
<path d="M28.5 221.5l19-20 9-8.2 5-3.7 4-2.3 5-2.2 5-1.7 8-1.8 10-1.4 70-6.3 24-2.7 29.7-3.8 1.8-21.3 1-7.7 1-5 1.2-3.8 1.3-2.3 1.7-1.6 2.6-1" stroke="#2828c8" stroke-width="0.60" stroke-opacity="0.90"/>
<path d="M352.5 221.5l20-18.9 10-8.3 5-3.4 5-2.6 5-2.1 5-1.5 9-1.9 13-1.6 69-5.1 47.7-4.5.3-.7 1.7-24.5 1.8-11.6 1.2-4.4 1.3-2.6 1.7-1.9 2.6-1.1" stroke="#2828c8" stroke-width="0.60" stroke-opacity="0.90"/>
<path d="M352.5 221.5l19-19 5-4.6 5-4.2 5-3.4 4-2.3 5-2.2 5-1.6 9-2 11-1.4 70-5.8 50.5-5.5 1.8-22 1-7.5 1-5 1.2-4.2 1.5-2.9 1.7-1.8 2.6-1.2" stroke="#2828c8" stroke-width="0.60" stroke-opacity="0.90"/>
<path d="M352.5 221.5l19-20 9-8.2 5-3.7 4-2.3 5-2.2 5-1.7 8-1.8 10-1.4 70-6.3 25-2.8 28.5-3.7 1.8-23.6.7-6.2 1-5.4 1-3.2 1.5-2.6 2-1.4 2.8-.6" stroke="#2828c8" stroke-width="0.60" stroke-opacity="0.90"/>
<path d="M298.5 124.2l.8 77.7.4 10.8.8 7 .8 1.4 1.2 .4 21.8 0" stroke="#3050e0" stroke-width="0.55" stroke-opacity="0.80"/>
<path d="M298.5 124.2l1.2 68.4.8 16.1 1.2 9 1.2 2.7.8 .6 1 .3 19.6 .2" stroke="#8040c0" stroke-width="0.55" stroke-opacity="0.80"/>
<path d="M298.7 124.2l.6 37.3.8 28.6 1 17.4.6 5.4.8 4.1 1.4 3 1 .8 1.2 .5 3.4 .2 15 0" stroke="#30a030" stroke-width="0.55" stroke-opacity="0.80"/>
<path d="M298.4 124.2l.8 41.4.8 23.8 1.2 18.1 1.4 8.7.8 2.3.8 1.3 1 .8 1.4 .6 3.6 .3 14 0" stroke="#2020b0" stroke-width="0.55" stroke-opacity="0.80"/>
<path d="M298.5 124.2l.8 37.9 1 27.4 1.2 16.7 1.4 8.9 1.6 4 1.2 1.3 1.4 .6 3.8 .5 13.4 0" stroke="#20a0a0" stroke-width="0.55" stroke-opacity="0.80"/>
<path d="M298.6 124.2l.8 35.2 1 26.7 1.2 17.3.8 6.6 1 4.9.8 2.4 1 1.8 1.2 1.2 1.4 .6 4 .5 12.6 .1" stroke="#a03060" stroke-width="0.55" stroke-opacity="0.80"/>
<path d="M298.5 124.2l1 39.4 1 23.4 1.4 17.8 1.6 9.4.8 2.5 1 1.9 1.2 1.4 1.6 .8 4.2 .6 12 .1" stroke="#30a030" stroke-width="0.55" stroke-opacity="0.80"/>
<path d="M298.5 124.2l1 37.3 1 23 1.4 18.2.8 6 1 4.9 1 3 1 1.9 1.2 1.3 1.6 .9 4.2 .7 11.6 .1" stroke="#8040c0" stroke-width="0.55" stroke-opacity="0.80"/>
<path d="M298.7 124.2l1 35.6 1.2 25.9 1.4 16.9 1.8 10.6 1 3 1 1.9 1.2 1.5 1.6 1 1.8 .5 2.6 .3 11.2 .1" stroke="#3050e0" stroke-width="0.55" stroke-opacity="0.80"/>
<path d="M298.6 124.2l1 34 1.2 25.6 1.4 17 1 7.3 1 4.7 1 3 1 2 1.4 1.7 1.6 1 1.8 .5 2.6 .3 10.8 .2" stroke="#c03060" stroke-width="0.55" stroke-opacity="0.80"/>
<path d="M298.5 124.2l1.2 37.8 1.2 23.1 1.6 17.5 1.8 9.9 1 3 1.2 2.3 1.4 1.6 1.6 1 1.8 .6 2.6 .3 10.4 .2" stroke="#20a0a0" stroke-width="0.55" stroke-opacity="0.80"/>
<path d="M298.4 124.2l1.2 36.4 1.2 22.8 1.6 17.8 1 6.5 1 4.5 1 3 1.2 2.4 1.4 1.6 1.6 1.1 1.8 .6 2.6 .4 10.2 .2" stroke="#6040c0" stroke-width="0.55" stroke-opacity="0.80"/>
<path d="M298.5 124.2l1.2 35.3 1.2 22.4 1.6 17.9 1 6.8 1 4.6 1 3.3 1.2 2.5 1.4 1.8 1.8 1.3 2 .8 2.6 .4 9.8 .2" stroke="#3050e0" stroke-width="0.55" stroke-opacity="0.80"/>
<path d="M298.7 124.2l1.2 34.2 1.4 25 1.6 16.7 2 11 1 3.2 1.2 2.5 1.4 1.9 1.8 1.3 2 .8 2.6 .4 9.6 .3" stroke="#8040c0" stroke-width="0.55" stroke-opacity="0.80"/>
<path d="M298.6 124.2l1.2 33.2 1.4 24.7 1.6 16.8 1 6.6 1.2 5.5 1 3.1 1.2 2.5 1.4 1.9 1.8 1.4 2 .8 2.6 .5 9.4 .3" stroke="#30a030" stroke-width="0.55" stroke-opacity="0.80"/>
<path d="M298.4 124.2l1.2 32.3 1.4 24.4 1.8 18.4 2 10.9 1.2 3.7 1.2 2.5 1.4 1.9 1.8 1.5 2 .8 2.6 .5 9.2 .4" stroke="#2020b0" stroke-width="0.55" stroke-opacity="0.80"/>
<path d="M298.6 124.2l1.2 31.4 1.6 26.8 1.8 17.3 2 10.4 1.2 3.7 1.2 2.5 1.4 1.9 1.8 1.5 2 .8 2.6 .6 9 .4" stroke="#20a0a0" stroke-width="0.55" stroke-opacity="0.80"/>
<path d="M298.5 124.2l1.2 30.7 1.6 26.4 1.8 17.4 2 10.7 1.2 3.8 1.2 2.6 1.6 2.3 1.8 1.5 2 .9 2.6 .5 8.8 .5" stroke="#a03060" stroke-width="0.55" stroke-opacity="0.80"/>
<path d="M298.6 124.2l1.4 33.9 1.4 22.1 1.8 17.5 1 6.3 1.2 5.4 1.2 3.7 1.2 2.6 1.6 2.2 1.8 1.6 2 .9 2.6 .6 8.6 .5" stroke="#30a030" stroke-width="0.55" stroke-opacity="0.80"/>
<path d="M298.5 124.2l1.4 33.2 1.4 21.9 1.8 17.5 2.2 11.9 1.2 3.8 1.2 2.7 1.6 2.4 1.8 1.6 2 1 2.6 .7 8.6 .6" stroke="#8040c0" stroke-width="0.55" stroke-opacity="0.80"/>
<path d="M298.4 124.2l1.4 32.5 1.6 24.1 1.8 16.6 2.2 11.4 1.2 3.7 1.4 3 1.4 2 1.8 1.6 2 1.1 2.6 .7 8.4 .5" stroke="#3050e0" stroke-width="0.55" stroke-opacity="0.80"/>
<path d="M298.4 124.2l1.4 31.8 1.6 23.9 1.8 16.6 2.2 11.6 1.2 3.9 1.4 3.1 1.6 2.3 1.8 1.7 2 1 2.6 .7 8.2 .6" stroke="#c03060" stroke-width="0.55" stroke-opacity="0.80"/>
<path d="M298.5 124.2l1.4 31.2 1.6 23.7 1.8 16.6 1.2 7.3 1.2 5.2 1.2 3.8 1.4 3 1.6 2.3 1.8 1.7 2 1 2.6 .8 8 .6" stroke="#20a0a0" stroke-width="0.55" stroke-opacity="0.80"/>
<path d="M298.7 124.2l1.4 30.6 1.6 23.4 2 18.1 2.2 11.3 1.2 3.8 1.4 3.2 1.6 2.4 1.8 1.8 2 1.1 2.6 .8 8 .7" stroke="#6040c0" stroke-width="0.55" stroke-opacity="0.80"/>
</g>
<text transform="translate(74.80 31.00) scale(0.9986 1)" font-size="10.0">Power-up Stage</text><text transform="translate(40.88 79.20) scale(1.0223 1)" font-size="10.0">Data &amp; DataN resolving</text><text transform="translate(244.20 63.00) scale(0.9944 1)" font-size="10.0">Reading</text><text transform="translate(244.41 76.00) scale(0.9868 1)" font-size="10.0">(WL signal</text><text transform="translate(244.59 89.00) scale(1.0127 1)" font-size="10.0">asserting</text><text transform="translate(303.04 16.80) scale(0.9517 1)" font-size="10.0">Reset Stage</text><text transform="translate(310.03 30.40) scale(0.9504 1)" font-size="10.0">(SUPn</text><text transform="translate(313.60 43.20) scale(1.0040 1)" font-size="10.0">signal</text><text transform="translate(315.79 56.20) scale(1.0177 1)" font-size="10.0">asserting</text><text transform="translate(388.90 31.80) scale(1.0000 1)" font-size="10.0">Power-up Stage</text><text transform="translate(355.18 81.40) scale(1.0194 1)" font-size="10.0">Data &amp; DataN resolving</text><text transform="translate(45.81 150.00) scale(0.9936 1)" font-size="10.0">Phase I Power-up</text><text transform="translate(46.90 176.50) scale(1.0000 1)" font-size="10.0">vddv</text><text transform="translate(107.19 191.60) scale(1.0146 1)" font-size="10.0">Data &amp; DataN resolving</text><text transform="translate(217.21 168.00) scale(0.9864 1)" font-size="10.0">Phase II Power-up</text><text transform="translate(245.11 185.20) scale(0.9888 1)" font-size="10.0">Reading</text><text transform="translate(244.60 198.00) scale(1.0000 1)" font-size="10.0">(WL signal</text><text transform="translate(245.51 211.20) scale(0.9873 1)" font-size="10.0">asserting</text><text transform="translate(300.45 142.70) scale(0.9387 1)" font-size="10.0">Reset Stage</text><text transform="translate(300.63 155.90) scale(0.9494 1)" font-size="10.0">(Both SUPn1</text><text transform="translate(306.62 171.00) scale(0.9422 1)" font-size="10.0">and SUPn2</text><text transform="translate(306.70 184.20) scale(1.0000 1)" font-size="10.0">signal</text><text transform="translate(306.60 197.50) scale(1.0070 1)" font-size="10.0">asserting)</text><text transform="translate(367.20 153.00) scale(0.9962 1)" font-size="10.0">Phase I Power-up</text><text transform="translate(367.90 179.40) scale(1.0286 1)" font-size="10.0">vddv</text><text transform="translate(429.19 194.00) scale(1.0165 1)" font-size="10.0">Data &amp; DataN resolving</text><text transform="translate(42.83 121.00) scale(0.9923 1)" font-size="11.3">(a) Single-phase Power-gated 6T-SRAM PUF: SUPPLY transistor width = 4um</text><text transform="translate(39.81 245.80) scale(1.0185 1)" font-size="11.3">(b) Two-phase Power-gated 8T PUF: transistor w1 = 80nm, w2 = 4um</text><text class="t" transform="translate(3.50 117.80) scale(0.9498 1)" font-size="10.1">V (V)</text><text class="t" transform="translate(3.30 244.80) scale(0.9408 1)" font-size="10.1">V (V)</text><text class="t" transform="translate(26.09 108.30) scale(1.0203 1)" font-size="10.1">5.0</text><text class="t" transform="translate(25.79 235.40) scale(1.0203 1)" font-size="10.1">5.0</text><text class="t" transform="translate(77.63 108.30) scale(1.0117 1)" font-size="10.1">10.0</text><text class="t" transform="translate(77.33 235.40) scale(1.0117 1)" font-size="10.1">10.0</text><text class="t" transform="translate(131.78 108.30) scale(1.0117 1)" font-size="10.1">15.0</text><text class="t" transform="translate(131.48 235.40) scale(1.0117 1)" font-size="10.1">15.0</text><text class="t" transform="translate(185.55 108.30) scale(0.9954 1)" font-size="10.1">20.0</text><text class="t" transform="translate(185.25 235.40) scale(0.9954 1)" font-size="10.1">20.0</text><text class="t" transform="translate(237.35 108.30) scale(0.9954 1)" font-size="10.1">25.0</text><text class="t" transform="translate(237.05 235.40) scale(0.9954 1)" font-size="10.1">25.0</text><text class="t" transform="translate(347.65 108.30) scale(0.9901 1)" font-size="10.1">35.0</text><text class="t" transform="translate(347.35 235.40) scale(0.9901 1)" font-size="10.1">35.0</text><text class="t" transform="translate(401.55 108.30) scale(0.9796 1)" font-size="10.1">40.0</text><text class="t" transform="translate(401.25 235.40) scale(0.9796 1)" font-size="10.1">40.0</text><text class="t" transform="translate(455.55 108.30) scale(0.9796 1)" font-size="10.1">45.0</text><text class="t" transform="translate(455.25 235.40) scale(0.9796 1)" font-size="10.1">45.0</text><text class="t" transform="translate(509.35 108.30) scale(0.9901 1)" font-size="10.1">50.0</text><text class="t" transform="translate(509.05 235.40) scale(0.9901 1)" font-size="10.1">50.0</text><text class="t" transform="translate(262.10 108.30) scale(1.0109 1)" font-size="10.1">time (ns)</text><text class="t" transform="translate(261.59 235.40) scale(1.0187 1)" font-size="10.1">time (ns)</text><text class="t" transform="translate(5.07 13.40) scale(1.0215 1)" font-size="10.1">1.2</text><text class="t" transform="translate(5.27 134.80) scale(1.0215 1)" font-size="10.1">1.2</text><text class="t" transform="translate(5.08 28.40) scale(1.0135 1)" font-size="10.1">1.0</text><text class="t" transform="translate(5.28 150.97) scale(1.0135 1)" font-size="10.1">1.0</text><text class="t" transform="translate(5.50 43.40) scale(0.9825 1)" font-size="10.1">0.8</text><text class="t" transform="translate(5.70 167.14) scale(0.9825 1)" font-size="10.1">0.8</text><text class="t" transform="translate(5.50 58.40) scale(0.9825 1)" font-size="10.1">0.6</text><text class="t" transform="translate(5.70 183.31) scale(0.9825 1)" font-size="10.1">0.6</text><text class="t" transform="translate(5.51 73.40) scale(0.9751 1)" font-size="10.1">0.4</text><text class="t" transform="translate(5.71 199.48) scale(0.9751 1)" font-size="10.1">0.4</text><text class="t" transform="translate(5.50 88.40) scale(0.9901 1)" font-size="10.1">0.2</text><text class="t" transform="translate(5.70 215.65) scale(0.9901 1)" font-size="10.1">0.2</text><text class="t" transform="translate(5.50 103.40) scale(0.9825 1)" font-size="10.1">0.0</text><text class="t" transform="translate(5.70 231.82) scale(0.9825 1)" font-size="10.1">0.0</text>
</svg>
</body></html>
